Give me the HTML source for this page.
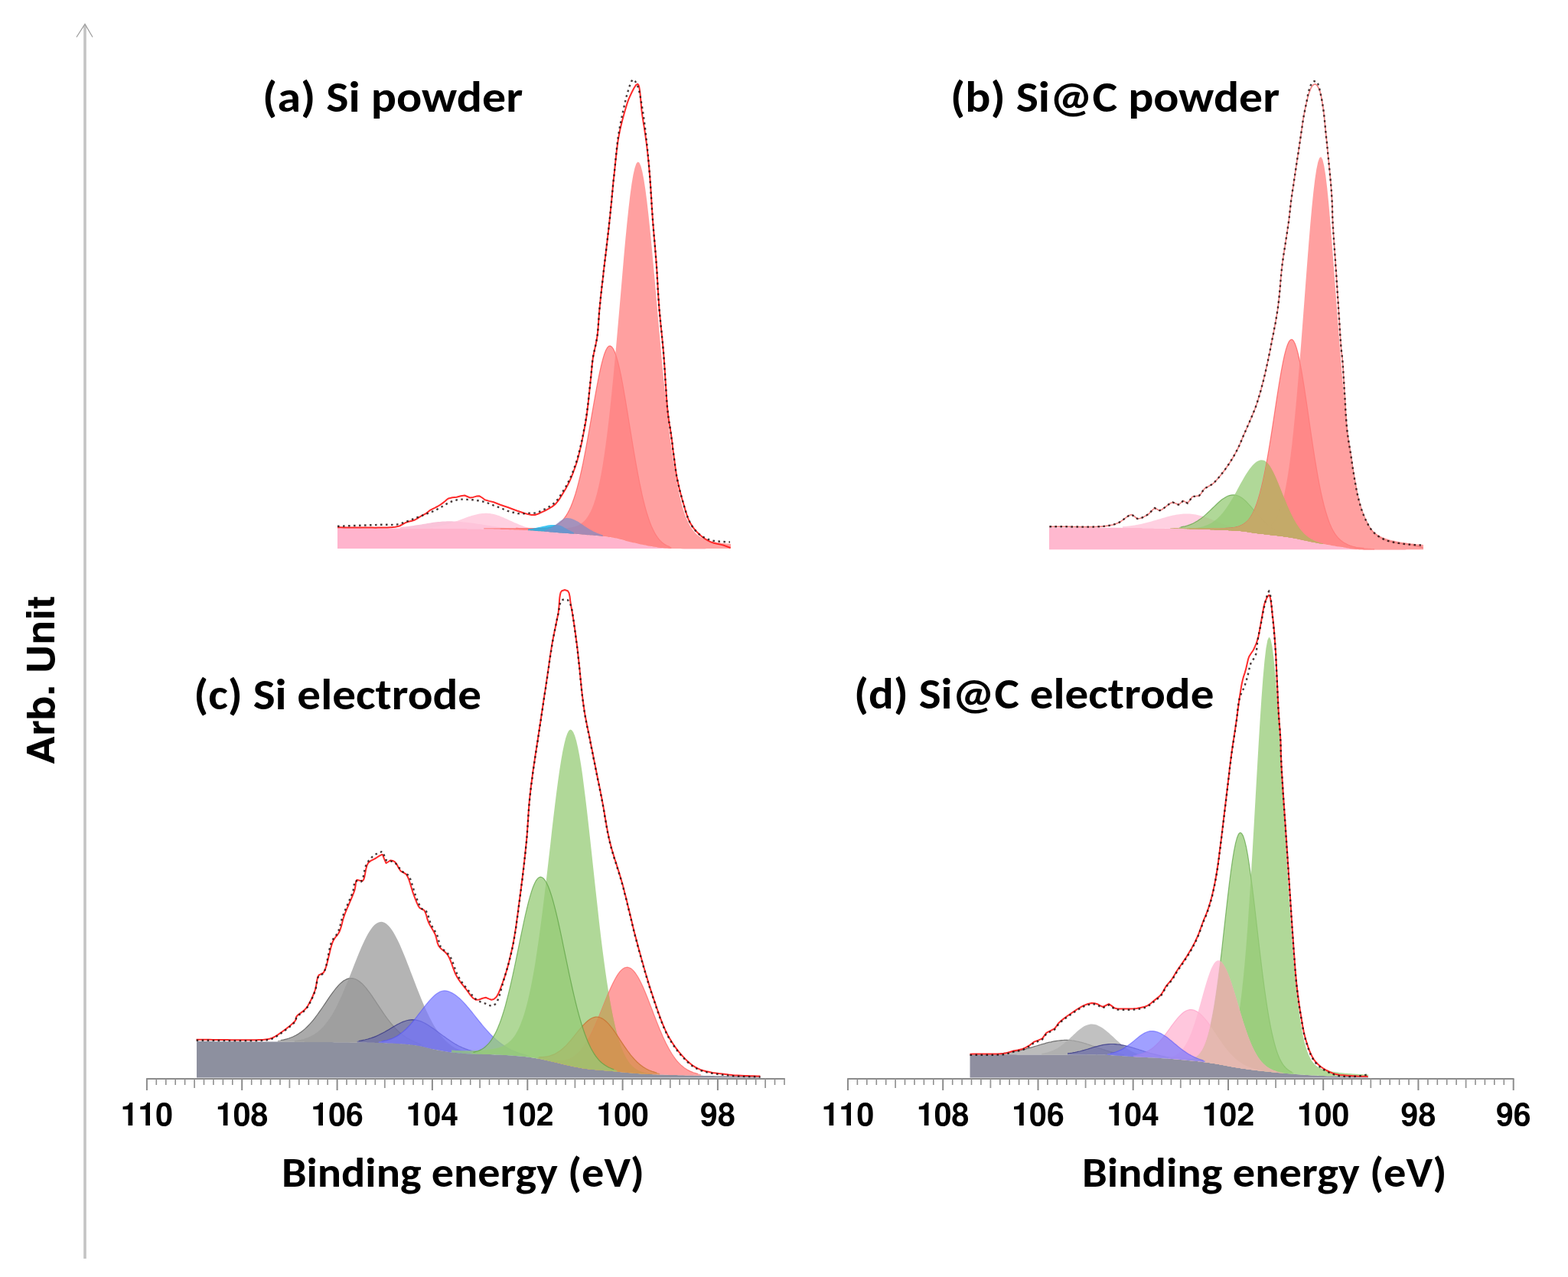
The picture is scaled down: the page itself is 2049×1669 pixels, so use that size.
<!DOCTYPE html>
<html><head><meta charset="utf-8"><title>Si 2p XPS</title>
<style>
html,body{margin:0;padding:0;background:#fff;}
svg{display:block;}
.title{font-family:"Carlito","Liberation Sans",sans-serif;font-weight:bold;fill:#000;}
.tick{font-family:"TeX Gyre Heros","Liberation Sans",Arial,sans-serif;font-weight:bold;font-size:41px;fill:#000;}
.ylab{font-family:"TeX Gyre Heros","Liberation Sans",Arial,sans-serif;font-weight:bold;font-size:50px;fill:#000;}
</style></head><body>
<svg width="2049" height="1669" viewBox="0 0 2049 1669">
<rect width="100%" height="100%" fill="#fff"/>
<path d="M441,717 L441,690 L444,690 L447,690 L450,690 L453,690.1 L456,690.1 L459,690.1 L462,690.1 L465,690.1 L468,690.1 L471,690.1 L474,690.2 L477,690.2 L480,690.2 L483,690.2 L486,690.2 L489,690.2 L492,690.3 L495,690.3 L498,690.3 L501,690.3 L504,690.3 L507,690.3 L510,690.4 L513,690.4 L516,690.4 L519,690.4 L522,690.4 L525,690.4 L528,690.4 L531,690.5 L534,690.5 L537,690.5 L540,690.5 L543,690.5 L546,690.5 L549,690.6 L552,690.6 L555,690.6 L558,690.6 L561,690.6 L564,690.6 L567,690.7 L570,690.7 L573,690.7 L576,690.7 L579,690.8 L582,690.8 L585,690.8 L588,690.9 L591,690.9 L594,690.9 L597,691 L600,691 L603,691 L606,691.1 L609,691.1 L612,691.2 L615,691.2 L618,691.2 L621,691.3 L624,691.3 L627,691.3 L630,691.4 L633,691.4 L636,691.5 L639,691.5 L642,691.6 L645,691.6 L648,691.7 L651,691.8 L654,691.8 L657,691.9 L660,692 L663,692.1 L666,692.2 L669,692.3 L672,692.4 L675,692.5 L678,692.6 L681,692.7 L684,692.9 L687,693 L690,693.2 L693,693.4 L696,693.6 L699,693.8 L702,694 L705,694.2 L708,694.5 L711,694.7 L714,694.9 L717,695.2 L720,695.4 L723,695.7 L726,695.9 L729,696.2 L732,696.4 L735,696.6 L738,696.9 L741,697.1 L744,697.3 L747,697.5 L750,697.7 L753,697.9 L756,698.2 L759,698.4 L762,698.7 L765,698.9 L768,699.2 L771,699.4 L774,699.7 L777,699.9 L780,700.2 L783,700.4 L786,700.7 L789,701 L792,701.4 L795,701.8 L798,702.2 L801,702.7 L804,703.2 L807,703.9 L810,704.6 L813,705.4 L816,706.2 L819,707 L822,707.8 L825,708.6 L828,709.3 L831,710 L834,710.6 L837,711.3 L840,711.9 L843,712.5 L846,713.1 L849,713.7 L852,714.2 L855,714.7 L858,715.2 L861,715.6 L864,716 L867,716.3 L870,716.5 L873,716.7 L876,716.9 L879,717 L882,717 L885,717.1 L888,717.1 L891,717.1 L894,717.2 L897,717.2 L900,717.2 L903,717.2 L906,717.2 L909,717.2 L912,717.2 L915,717.2 L918,717.2 L921,717.2 L924,717.1 L927,717.1 L930,717.1 L933,717.1 L936,717.1 L939,717 L942,717 L945,717 L948,717 L951,717 L954,717 L955,717 L955,717Z" fill="#ffb4cd"/>
<path d="M522.7,688.9 L524.7,688.8 L526.7,688.6 L528.7,688.4 L530.7,688.2 L532.6,687.9 L534.6,687.7 L536.6,687.4 L538.6,687.2 L540.6,686.9 L542.6,686.6 L544.6,686.3 L546.6,686 L548.6,685.7 L550.6,685.4 L552.6,685 L554.6,684.7 L556.6,684.4 L558.5,684.1 L560.5,683.7 L562.5,683.4 L564.5,683.1 L566.5,682.8 L568.5,682.6 L570.5,682.3 L572.5,682.1 L574.5,681.9 L576.5,681.7 L578.5,681.6 L580.5,681.5 L582.4,681.4 L584.4,681.3 L586.4,681.3 L588.4,681.3 L590.4,681.3 L592.4,681.4 L594.4,681.5 L596.4,681.6 L598.4,681.7 L600.4,681.8 L602.4,682 L604.4,682.2 L606.4,682.4 L608.3,682.6 L610.3,682.8 L612.3,683 L614.3,683.3 L616.3,683.6 L618.3,683.8 L620.3,684.1 L622.3,684.4 L624.3,684.7 L626.3,685 L628.3,685.3 L630.3,685.6 L632.3,685.9 L634.2,686.2 L636.2,686.5 L638.2,686.8 L640.2,687.1 L642.2,687.4 L644.2,687.7 L646.2,687.9 L648.2,688.2 L650.2,688.5 L652.2,688.8 L654.2,689 L656.2,689.3 L658.2,689.5 L660.1,689.7 L662.1,690 L664.1,690.2 L666.1,690.4 L668.1,690.6 L668.1,692.2 L666.1,692.2 L664.1,692.1 L662.1,692.1 L660.1,692 L658.2,692 L656.2,691.9 L654.2,691.9 L652.2,691.8 L650.2,691.8 L648.2,691.7 L646.2,691.7 L644.2,691.6 L642.2,691.6 L640.2,691.6 L638.2,691.5 L636.2,691.5 L634.2,691.5 L632.3,691.4 L630.3,691.4 L628.3,691.4 L626.3,691.3 L624.3,691.3 L622.3,691.3 L620.3,691.3 L618.3,691.2 L616.3,691.2 L614.3,691.2 L612.3,691.2 L610.3,691.1 L608.3,691.1 L606.4,691.1 L604.4,691.1 L602.4,691 L600.4,691 L598.4,691 L596.4,691 L594.4,690.9 L592.4,690.9 L590.4,690.9 L588.4,690.9 L586.4,690.8 L584.4,690.8 L582.4,690.8 L580.5,690.8 L578.5,690.8 L576.5,690.7 L574.5,690.7 L572.5,690.7 L570.5,690.7 L568.5,690.7 L566.5,690.7 L564.5,690.7 L562.5,690.6 L560.5,690.6 L558.5,690.6 L556.6,690.6 L554.6,690.6 L552.6,690.6 L550.6,690.6 L548.6,690.6 L546.6,690.5 L544.6,690.5 L542.6,690.5 L540.6,690.5 L538.6,690.5 L536.6,690.5 L534.6,690.5 L532.6,690.5 L530.7,690.5 L528.7,690.5 L526.7,690.4 L524.7,690.4 L522.7,690.4Z" fill="#f27aaa" fill-opacity="0.45"/>
<path d="M562.5,689.1 L564.5,688.9 L566.5,688.6 L568.5,688.4 L570.5,688.1 L572.5,687.7 L574.5,687.4 L576.5,687 L578.5,686.5 L580.5,686.1 L582.4,685.6 L584.4,685 L586.4,684.5 L588.4,683.9 L590.4,683.3 L592.4,682.6 L594.4,681.9 L596.4,681.2 L598.4,680.5 L600.4,679.8 L602.4,679 L604.4,678.3 L606.4,677.5 L608.3,676.8 L610.3,676.1 L612.3,675.3 L614.3,674.7 L616.3,674 L618.3,673.4 L620.3,672.9 L622.3,672.4 L624.3,671.9 L626.3,671.6 L628.3,671.3 L630.3,671 L632.3,670.9 L634.2,670.8 L636.2,670.8 L638.2,670.9 L640.2,671.1 L642.2,671.4 L644.2,671.8 L646.2,672.2 L648.2,672.8 L650.2,673.4 L652.2,674.1 L654.2,674.9 L656.2,675.7 L658.2,676.5 L660.1,677.4 L662.1,678.3 L664.1,679.3 L666.1,680.2 L668.1,681.1 L670.1,682 L672.1,682.9 L674.1,683.8 L676.1,684.6 L678.1,685.5 L680.1,686.2 L682.1,687 L684.1,687.7 L686,688.4 L688,689 L690,689.6 L692,690.2 L694,690.7 L696,691.2 L698,691.7 L700,692.1 L702,692.5 L702,694 L700,693.9 L698,693.7 L696,693.6 L694,693.5 L692,693.3 L690,693.2 L688,693.1 L686,693 L684.1,692.9 L682.1,692.8 L680.1,692.7 L678.1,692.6 L676.1,692.5 L674.1,692.5 L672.1,692.4 L670.1,692.3 L668.1,692.2 L666.1,692.2 L664.1,692.1 L662.1,692.1 L660.1,692 L658.2,692 L656.2,691.9 L654.2,691.9 L652.2,691.8 L650.2,691.8 L648.2,691.7 L646.2,691.7 L644.2,691.6 L642.2,691.6 L640.2,691.6 L638.2,691.5 L636.2,691.5 L634.2,691.5 L632.3,691.4 L630.3,691.4 L628.3,691.4 L626.3,691.3 L624.3,691.3 L622.3,691.3 L620.3,691.3 L618.3,691.2 L616.3,691.2 L614.3,691.2 L612.3,691.2 L610.3,691.1 L608.3,691.1 L606.4,691.1 L604.4,691.1 L602.4,691 L600.4,691 L598.4,691 L596.4,691 L594.4,690.9 L592.4,690.9 L590.4,690.9 L588.4,690.9 L586.4,690.8 L584.4,690.8 L582.4,690.8 L580.5,690.8 L578.5,690.8 L576.5,690.7 L574.5,690.7 L572.5,690.7 L570.5,690.7 L568.5,690.7 L566.5,690.7 L564.5,690.7 L562.5,690.6Z" fill="#ffc4da" fill-opacity="0.8"/>
<path d="M654.2,690.3 L656.2,690.3 L658.2,690.3 L660.1,690.3 L662.1,690.4 L664.1,690.4 L666.1,690.4 L668.1,690.4 L670.1,690.4 L672.1,690.4 L674.1,690.4 L676.1,690.4 L678.1,690.5 L680.1,690.5 L682.1,690.5 L684.1,690.5 L686,690.5 L688,690.5 L690,690.6 L692,690.6 L694,690.6 L696,690.6 L698,690.6 L700,690.6 L702,690.6 L704,690.6 L706,690.5 L708,690.4 L710,690.3 L711.9,690.1 L713.9,689.9 L715.9,689.7 L717.9,689.3 L719.9,688.9 L721.9,688.3 L723.9,687.6 L725.9,686.8 L727.9,685.8 L729.9,684.5 L731.9,683 L733.9,681.3 L735.9,679.2 L737.8,676.7 L739.8,673.8 L741.8,670.5 L743.8,666.7 L745.8,662.4 L747.8,657.5 L749.8,652 L751.8,645.9 L753.8,639.1 L755.8,631.7 L757.8,623.7 L759.8,615 L761.8,605.7 L763.7,595.8 L765.7,585.4 L767.7,574.5 L769.7,563.3 L771.7,551.9 L773.7,540.3 L775.7,528.8 L777.7,517.5 L779.7,506.5 L781.7,496 L783.7,486.3 L785.7,477.4 L787.7,469.6 L789.6,463.1 L791.6,458 L793.6,454.3 L795.6,452.4 L797.6,452.1 L799.6,453.4 L801.6,456.2 L803.6,460.6 L805.6,466.4 L807.6,473.5 L809.6,481.8 L811.6,491.2 L813.6,501.5 L815.5,512.6 L817.5,524.2 L819.5,536.2 L821.5,548.5 L823.5,560.9 L825.5,573.2 L827.5,585.3 L829.5,597 L831.5,608.4 L833.5,619.2 L835.5,629.5 L837.5,639.1 L839.4,648.1 L841.4,656.4 L843.4,664.1 L845.4,671 L847.4,677.3 L849.4,682.9 L851.4,687.9 L853.4,692.3 L855.4,696.2 L857.4,699.6 L859.4,702.5 L861.4,705.1 L863.4,707.2 L865.3,709.1 L867.3,710.6 L869.3,711.9 L871.3,713 L873.3,713.8 L875.3,714.5 L877.3,715.1 L877.3,716.9 L875.3,716.9 L873.3,716.8 L871.3,716.6 L869.3,716.5 L867.3,716.3 L865.3,716.1 L863.4,715.9 L861.4,715.7 L859.4,715.4 L857.4,715.1 L855.4,714.8 L853.4,714.5 L851.4,714.1 L849.4,713.8 L847.4,713.4 L845.4,713 L843.4,712.6 L841.4,712.2 L839.4,711.8 L837.5,711.4 L835.5,710.9 L833.5,710.5 L831.5,710.1 L829.5,709.6 L827.5,709.2 L825.5,708.7 L823.5,708.2 L821.5,707.7 L819.5,707.2 L817.5,706.7 L815.5,706.1 L813.6,705.6 L811.6,705 L809.6,704.5 L807.6,704 L805.6,703.6 L803.6,703.2 L801.6,702.8 L799.6,702.4 L797.6,702.1 L795.6,701.9 L793.6,701.6 L791.6,701.3 L789.6,701.1 L787.7,700.9 L785.7,700.7 L783.7,700.5 L781.7,700.3 L779.7,700.1 L777.7,700 L775.7,699.8 L773.7,699.6 L771.7,699.5 L769.7,699.3 L767.7,699.2 L765.7,699 L763.7,698.8 L761.8,698.7 L759.8,698.5 L757.8,698.3 L755.8,698.1 L753.8,698 L751.8,697.8 L749.8,697.7 L747.8,697.5 L745.8,697.4 L743.8,697.3 L741.8,697.1 L739.8,697 L737.8,696.8 L735.9,696.7 L733.9,696.5 L731.9,696.4 L729.9,696.2 L727.9,696.1 L725.9,695.9 L723.9,695.7 L721.9,695.6 L719.9,695.4 L717.9,695.3 L715.9,695.1 L713.9,694.9 L711.9,694.8 L710,694.6 L708,694.5 L706,694.3 L704,694.2 L702,694 L700,693.9 L698,693.7 L696,693.6 L694,693.5 L692,693.3 L690,693.2 L688,693.1 L686,693 L684.1,692.9 L682.1,692.8 L680.1,692.7 L678.1,692.6 L676.1,692.5 L674.1,692.5 L672.1,692.4 L670.1,692.3 L668.1,692.2 L666.1,692.2 L664.1,692.1 L662.1,692.1 L660.1,692 L658.2,692 L656.2,691.9 L654.2,691.9Z" fill="#ff8080" fill-opacity="0.75"/>
<path d="M674.1,690.4 L676.1,690.4 L678.1,690.5 L680.1,690.5 L682.1,690.5 L684.1,690.5 L686,690.5 L688,690.5 L690,690.6 L692,690.6 L694,690.6 L696,690.6 L698,690.6 L700,690.6 L702,690.6 L704,690.6 L706,690.5 L708,690.4 L710,690.3 L711.9,690.1 L713.9,689.9 L715.9,689.7 L717.9,689.3 L719.9,688.9 L721.9,688.3 L723.9,687.6 L725.9,686.8 L727.9,685.8 L729.9,684.5 L731.9,683 L733.9,681.3 L735.9,679.2 L737.8,676.7 L739.8,673.8 L741.8,670.5 L743.8,666.7 L745.8,662.4 L747.8,657.5 L749.8,652 L751.8,645.9 L753.8,639.1 L755.8,631.7 L757.8,623.7 L759.8,615 L761.8,605.7 L763.7,595.8 L765.7,585.4 L767.7,574.5 L769.7,563.3 L771.7,551.9 L773.7,540.3 L775.7,528.8 L777.7,517.5 L779.7,506.5 L781.7,496 L783.7,486.3 L785.7,477.4 L787.7,469.6 L789.6,463.1 L791.6,458 L793.6,454.3 L795.6,452.4 L797.6,452.1 L799.6,453.4 L801.6,456.2 L803.6,460.6 L805.6,466.4 L807.6,473.5 L809.6,481.8 L811.6,491.2 L813.6,501.5 L815.5,512.6 L817.5,524.2 L819.5,536.2 L821.5,548.5 L823.5,560.9 L825.5,573.2 L827.5,585.3 L829.5,597 L831.5,608.4 L833.5,619.2 L835.5,629.5 L837.5,639.1 L839.4,648.1 L841.4,656.4 L843.4,664.1 L845.4,671 L847.4,677.3 L849.4,682.9 L851.4,687.9 L853.4,692.3 L855.4,696.2 L857.4,699.6 L859.4,702.5 L861.4,705.1 L863.4,707.2 L865.3,709.1 L867.3,710.6 L869.3,711.9 L871.3,713 L873.3,713.8 L875.3,714.5" fill="none" stroke="#ff5050" stroke-width="1.2" stroke-opacity="0.7"/>
<path d="M632.3,689.9 L634.2,689.9 L636.2,689.9 L638.2,689.9 L640.2,689.9 L642.2,689.9 L644.2,689.9 L646.2,689.9 L648.2,689.9 L650.2,689.9 L652.2,689.9 L654.2,690 L656.2,690 L658.2,690 L660.1,690 L662.1,690 L664.1,690 L666.1,690 L668.1,690 L670.1,690 L672.1,690.1 L674.1,690.1 L676.1,690.1 L678.1,690.1 L680.1,690.1 L682.1,690.2 L684.1,690.2 L686,690.2 L688,690.3 L690,690.3 L692,690.3 L694,690.4 L696,690.4 L698,690.5 L700,690.5 L702,690.6 L704,690.6 L706,690.7 L708,690.7 L710,690.7 L711.9,690.8 L713.9,690.8 L715.9,690.8 L717.9,690.9 L719.9,690.9 L721.9,690.9 L723.9,690.9 L725.9,690.9 L727.9,690.8 L729.9,690.8 L731.9,690.7 L733.9,690.6 L735.9,690.5 L737.8,690.4 L739.8,690.2 L741.8,690 L743.8,689.7 L745.8,689.4 L747.8,689 L749.8,688.5 L751.8,687.9 L753.8,687.2 L755.8,686.4 L757.8,685.3 L759.8,684.1 L761.8,682.5 L763.7,680.7 L765.7,678.4 L767.7,675.8 L769.7,672.6 L771.7,668.8 L773.7,664.4 L775.7,659.2 L777.7,653.2 L779.7,646.3 L781.7,638.3 L783.7,629.3 L785.7,619.1 L787.7,607.6 L789.6,594.9 L791.6,580.8 L793.6,565.4 L795.6,548.7 L797.6,530.6 L799.6,511.4 L801.6,491 L803.6,469.6 L805.6,447.4 L807.6,424.6 L809.6,401.4 L811.6,378.2 L813.6,355.1 L815.5,332.5 L817.5,310.8 L819.5,290.4 L821.5,271.5 L823.5,254.6 L825.5,240.1 L827.5,228.3 L829.5,219.4 L831.5,213.8 L833.5,211.6 L835.5,212.8 L837.5,217.2 L839.4,224.6 L841.4,234.9 L843.4,247.9 L845.4,263.3 L847.4,280.7 L849.4,299.8 L851.4,320.3 L853.4,341.8 L855.4,364 L857.4,386.6 L859.4,409.3 L861.4,431.9 L863.4,454 L865.3,475.6 L867.3,496.5 L869.3,516.4 L871.3,535.3 L873.3,553.1 L875.3,569.7 L877.3,585.1 L879.3,599.3 L881.3,612.3 L883.3,624 L885.3,634.7 L887.3,644.3 L889.3,652.8 L891.2,660.4 L893.2,667 L895.2,672.9 L897.2,678 L899.2,682.5 L901.2,686.4 L903.2,689.7 L905.2,692.6 L907.2,695.1 L909.2,697.2 L911.2,699 L913.2,700.5 L915.2,701.9 L917.1,703 L919.1,704 L921.1,704.9 L923.1,705.6 L925.1,706.3 L927.1,706.8 L929.1,707.3 L931.1,707.8 L933.1,708.2 L935.1,708.5 L937.1,708.9 L939.1,709.2 L941.1,709.5 L943,709.7 L945,710 L947,710.2 L949,710.4 L951,710.6 L953,710.8 L955,711 L955,717 L953,717 L951,717 L949,717 L947,717 L945,717 L943,717 L941.1,717 L939.1,717 L937.1,717.1 L935.1,717.1 L933.1,717.1 L931.1,717.1 L929.1,717.1 L927.1,717.1 L925.1,717.1 L923.1,717.1 L921.1,717.2 L919.1,717.2 L917.1,717.2 L915.2,717.2 L913.2,717.2 L911.2,717.2 L909.2,717.2 L907.2,717.2 L905.2,717.2 L903.2,717.2 L901.2,717.2 L899.2,717.2 L897.2,717.2 L895.2,717.2 L893.2,717.2 L891.2,717.2 L889.3,717.1 L887.3,717.1 L885.3,717.1 L883.3,717.1 L881.3,717 L879.3,717 L877.3,716.9 L875.3,716.9 L873.3,716.8 L871.3,716.6 L869.3,716.5 L867.3,716.3 L865.3,716.1 L863.4,715.9 L861.4,715.7 L859.4,715.4 L857.4,715.1 L855.4,714.8 L853.4,714.5 L851.4,714.1 L849.4,713.8 L847.4,713.4 L845.4,713 L843.4,712.6 L841.4,712.2 L839.4,711.8 L837.5,711.4 L835.5,710.9 L833.5,710.5 L831.5,710.1 L829.5,709.6 L827.5,709.2 L825.5,708.7 L823.5,708.2 L821.5,707.7 L819.5,707.2 L817.5,706.7 L815.5,706.1 L813.6,705.6 L811.6,705 L809.6,704.5 L807.6,704 L805.6,703.6 L803.6,703.2 L801.6,702.8 L799.6,702.4 L797.6,702.1 L795.6,701.9 L793.6,701.6 L791.6,701.3 L789.6,701.1 L787.7,700.9 L785.7,700.7 L783.7,700.5 L781.7,700.3 L779.7,700.1 L777.7,700 L775.7,699.8 L773.7,699.6 L771.7,699.5 L769.7,699.3 L767.7,699.2 L765.7,699 L763.7,698.8 L761.8,698.7 L759.8,698.5 L757.8,698.3 L755.8,698.1 L753.8,698 L751.8,697.8 L749.8,697.7 L747.8,697.5 L745.8,697.4 L743.8,697.3 L741.8,697.1 L739.8,697 L737.8,696.8 L735.9,696.7 L733.9,696.5 L731.9,696.4 L729.9,696.2 L727.9,696.1 L725.9,695.9 L723.9,695.7 L721.9,695.6 L719.9,695.4 L717.9,695.3 L715.9,695.1 L713.9,694.9 L711.9,694.8 L710,694.6 L708,694.5 L706,694.3 L704,694.2 L702,694 L700,693.9 L698,693.7 L696,693.6 L694,693.5 L692,693.3 L690,693.2 L688,693.1 L686,693 L684.1,692.9 L682.1,692.8 L680.1,692.7 L678.1,692.6 L676.1,692.5 L674.1,692.5 L672.1,692.4 L670.1,692.3 L668.1,692.2 L666.1,692.2 L664.1,692.1 L662.1,692.1 L660.1,692 L658.2,692 L656.2,691.9 L654.2,691.9 L652.2,691.8 L650.2,691.8 L648.2,691.7 L646.2,691.7 L644.2,691.6 L642.2,691.6 L640.2,691.6 L638.2,691.5 L636.2,691.5 L634.2,691.5 L632.3,691.4Z" fill="#ff8080" fill-opacity="0.75"/>
<path d="M690,691.4 L692,691.2 L694,691 L696,690.7 L698,690.3 L700,690 L702,689.6 L704,689.1 L706,688.7 L708,688.3 L710,687.8 L711.9,687.4 L713.9,687 L715.9,686.6 L717.9,686.3 L719.9,686.1 L721.9,685.9 L723.9,685.9 L725.9,685.9 L727.9,686 L729.9,686.3 L731.9,686.8 L733.9,687.6 L735.9,688.6 L737.8,689.7 L739.8,690.8 L741.8,692 L743.8,693.1 L745.8,694.1 L747.8,695 L749.8,695.8 L749.8,697.7 L747.8,697.5 L745.8,697.4 L743.8,697.3 L741.8,697.1 L739.8,697 L737.8,696.8 L735.9,696.7 L733.9,696.5 L731.9,696.4 L729.9,696.2 L727.9,696.1 L725.9,695.9 L723.9,695.7 L721.9,695.6 L719.9,695.4 L717.9,695.3 L715.9,695.1 L713.9,694.9 L711.9,694.8 L710,694.6 L708,694.5 L706,694.3 L704,694.2 L702,694 L700,693.9 L698,693.7 L696,693.6 L694,693.5 L692,693.3 L690,693.2Z" fill="#00b4f0" fill-opacity="0.75"/>
<path d="M711.9,693 L713.9,692.6 L715.9,691.9 L717.9,691.1 L719.9,690 L721.9,688.8 L723.9,687.5 L725.9,685.9 L727.9,684.3 L729.9,682.7 L731.9,681.1 L733.9,679.7 L735.9,678.5 L737.8,677.6 L739.8,677.1 L741.8,677 L743.8,677.2 L745.8,677.6 L747.8,678.2 L749.8,679 L751.8,679.9 L753.8,680.9 L755.8,682.1 L757.8,683.4 L759.8,684.7 L761.8,686.1 L763.7,687.4 L765.7,688.8 L767.7,690.1 L769.7,691.3 L771.7,692.5 L773.7,693.6 L775.7,694.7 L777.7,695.6 L779.7,696.5 L781.7,697.3 L783.7,698 L785.7,698.7 L787.7,699.3 L787.7,700.9 L785.7,700.7 L783.7,700.5 L781.7,700.3 L779.7,700.1 L777.7,700 L775.7,699.8 L773.7,699.6 L771.7,699.5 L769.7,699.3 L767.7,699.2 L765.7,699 L763.7,698.8 L761.8,698.7 L759.8,698.5 L757.8,698.3 L755.8,698.1 L753.8,698 L751.8,697.8 L749.8,697.7 L747.8,697.5 L745.8,697.4 L743.8,697.3 L741.8,697.1 L739.8,697 L737.8,696.8 L735.9,696.7 L733.9,696.5 L731.9,696.4 L729.9,696.2 L727.9,696.1 L725.9,695.9 L723.9,695.7 L721.9,695.6 L719.9,695.4 L717.9,695.3 L715.9,695.1 L713.9,694.9 L711.9,694.8Z" fill="#7f8cc8" fill-opacity="0.7"/>
<path d="M441,689.3 L445.3,689.3 L449.8,689.4 L454.5,689.4 L459.3,689.4 L464,689.5 L468.8,689.5 L473.5,689.6 L478.1,689.6 L482.5,689.6 L486.6,689.6 L490.5,689.7 L494.1,689.6 L497.3,689.6 L500,689.6 L505.8,689.5 L510.5,689.2 L516.4,688.7 L522,687.5 L525.9,685.4 L529.9,683.1 L533.9,681.8 L538.3,680.8 L542.2,679.5 L545.8,677.4 L549.2,675.1 L553.3,672.9 L557.1,670.8 L559.3,669 L561.5,667.2 L564.9,665.4 L568.5,663.7 L571.6,662 L574.7,660.2 L578.3,657.6 L581.7,655 L583.8,653 L586.1,651.4 L591.1,650.3 L596.7,649.7 L602.1,648.2 L607.2,647.5 L610.7,649 L614.2,650.5 L618.2,649.9 L622.6,648.6 L626.5,648.3 L630.1,650.5 L633.6,653.2 L639.2,654.9 L645,656.3 L649.4,658 L653.8,659.8 L658.9,661.5 L664.3,663.3 L668.1,664.7 L672.2,666.2 L676.2,667.7 L680,669 L685.2,670.8 L690,672.1 L694.5,672.9 L699,673 L703.5,671.5 L708,669.4 L712.5,667.3 L717,664.9 L721.6,662.1 L726,658.6 L729.1,654.9 L732.1,650.6 L734.9,646 L737.3,642.1 L739.7,637.9 L741.9,633.7 L743.9,629.8 L746.3,624.4 L748.4,619.1 L749.9,615 L751.4,610.9 L752.9,606.5 L754.1,602.7 L755.2,598.7 L756.3,594.5 L757.4,590.3 L758.3,586.4 L759.3,582.3 L760.2,578.2 L761,573.9 L761.9,569.6 L762.7,565.5 L763.5,561.3 L764.3,557 L765.1,552.7 L765.8,548.5 L766.4,544.5 L767.1,539.4 L767.7,534.5 L768.3,529.7 L768.8,525 L769.3,520.7 L769.7,516.4 L770.2,512.2 L770.6,508 L771.1,503.7 L771.5,499.3 L772,494.9 L772.5,490.4 L772.9,486.1 L773.3,481.7 L773.7,477.2 L774.2,472.9 L774.7,468.8 L775.6,463.8 L776.6,459.1 L777.6,454.4 L778.6,449.9 L779.5,445.3 L780.4,440 L780.8,436.8 L781.2,433.4 L781.5,429.7 L781.8,425.7 L782.1,421.6 L782.4,417.4 L782.7,413 L783,408.7 L783.4,404.3 L783.8,400 L784.2,396.2 L784.6,392.3 L785,388.3 L785.4,384.3 L785.9,380.3 L786.3,376.2 L786.8,372.1 L787.3,367.9 L787.8,363.8 L788.3,359.6 L788.7,355.4 L789.2,351.2 L789.7,347 L790.2,342.9 L790.7,338.7 L791.2,334.5 L791.7,330.3 L792.2,326.1 L792.7,321.8 L793.2,317.6 L793.7,313.3 L794.2,309 L794.7,304.7 L795.2,300.5 L795.7,296.2 L796.1,291.9 L796.6,287.7 L797.1,283.5 L797.5,279.2 L797.9,274.9 L798.3,270.6 L798.8,266.3 L799.2,262 L799.6,257.7 L800,253.4 L800.4,249.2 L800.8,244.9 L801.2,240.7 L801.6,236.6 L802.1,232.5 L802.5,228.4 L803,224.1 L803.4,219.8 L803.9,215.4 L804.3,211.1 L804.8,206.8 L805.2,202.6 L805.7,198.4 L806.2,194.3 L806.7,190.3 L807.2,186.4 L807.8,182.7 L808.4,179 L809.3,174.3 L810.2,169.8 L811.2,165.5 L812.2,161.4 L813.2,157.3 L814.3,153.3 L815.4,149.3 L816.6,145.1 L817.8,141 L819,136.9 L820.3,133 L821.7,129.2 L823.3,125.6 L825.7,120.5 L828.4,115.3 L831,111.2 L833.2,109.8 L834.3,110.9 L835.2,113.6 L835.9,117.5 L836.5,122.2 L837,127.7 L837.5,133.4 L838,139.1 L838.5,144.5 L839.1,149.3 L839.7,153.3 L840.3,157.2 L840.9,161.2 L841.6,165.1 L842.2,169.1 L842.8,173.1 L843.4,177 L843.9,181 L844.5,184.9 L845,188.9 L845.5,193.2 L846,197.5 L846.5,201.8 L846.9,206 L847.4,210.3 L847.8,214.6 L848.2,219.1 L848.6,223.7 L849,228.4 L849.3,232.3 L849.6,236.2 L849.9,240.3 L850.2,244.5 L850.5,248.7 L850.7,253 L851,257.3 L851.3,261.7 L851.5,266 L851.8,270.4 L852.1,274.8 L852.4,279.1 L852.7,283.4 L853,287.7 L853.3,291.9 L853.7,296.2 L854,300.5 L854.4,304.7 L854.7,309 L855.1,313.3 L855.5,317.6 L855.9,321.8 L856.2,326.1 L856.6,330.3 L856.9,334.5 L857.3,338.7 L857.6,342.9 L857.9,347 L858.2,351.2 L858.5,355.3 L858.7,359.4 L858.9,363.4 L859.2,367.5 L859.4,371.5 L859.6,375.5 L859.8,379.5 L860.1,383.6 L860.3,387.6 L860.6,391.7 L860.9,395.8 L861.2,400 L861.5,404.1 L861.9,408.2 L862.3,412.3 L862.7,416.4 L863.1,420.6 L863.5,424.7 L863.9,428.9 L864.4,433.1 L864.8,437.3 L865.2,441.6 L865.7,445.9 L866.1,450.3 L866.5,454.8 L866.9,459.3 L867.2,463.1 L867.5,467 L867.8,471.1 L868.1,475.3 L868.4,479.6 L868.7,483.9 L869,488.2 L869.2,492.6 L869.5,497 L869.8,501.4 L870.1,505.8 L870.4,510.1 L870.6,514.3 L870.9,518.4 L871.2,522.4 L871.5,526.3 L871.8,530 L872.1,533.5 L872.5,536.9 L872.8,540 L873.4,544.9 L874,549.3 L874.6,553.4 L875.3,557.2 L875.9,561 L876.5,564.8 L877.1,568.8 L877.6,572.9 L878.2,577 L878.7,581.1 L879.1,585.3 L879.6,589.4 L880.2,593.5 L880.7,597.6 L881.3,601.7 L881.8,605.8 L882.3,609.9 L882.9,614 L883.5,618.1 L884.2,622.2 L885,626.3 L885.9,630.4 L886.8,634.6 L887.8,638.7 L888.8,642.8 L889.9,646.9 L891,651 L892.2,655.1 L893.4,659.3 L894.6,663.6 L895.9,667.9 L897.3,672.2 L898.7,676.3 L900.3,680.1 L902,683.6 L904.7,687.9 L907.6,691.8 L910.7,695.3 L914,698.5 L917.4,701.4 L921.1,704.1 L924.9,706.4 L928.8,708.4 L932.8,709.8 L937.1,710.8 L941.2,711.6 L945,712.5 L949.9,714.2 L954.5,716" fill="none" stroke="#ff2a2a" stroke-width="2" stroke-linejoin="round"/>
<path d="M441,687.8 L445.3,687.7 L449.7,687.5 L454.2,687.3 L458.8,687.2 L463.5,687 L468.1,686.8 L472.8,686.7 L477.3,686.5 L481.7,686.3 L486,686.2 L490,686.1 L493.8,685.9 L497.4,685.8 L500.6,685.8 L503.5,685.7 L509.1,685.8 L513.6,685.9 L517.6,685.7 L520.9,685.1 L524.6,684 L527.6,683 L531.4,681.6 L535.8,679.9 L540.6,678.1 L545.5,676.2 L550.3,674.3 L554.7,672.6 L558.5,671.1 L561.5,669.9 L565.4,668.5 L568.5,667.2 L571.6,665.5 L574.7,663.7 L577.8,662 L580.8,660.2 L583.9,658.4 L587,656.7 L590,655.5 L593.1,654.5 L597,653.4 L601,652.7 L604.1,652.6 L607.2,652.7 L610.7,652.9 L614.2,653.2 L617.8,653.3 L621.3,653.6 L624.4,654.2 L627.4,654.9 L630.9,655.5 L634.4,656.3 L637.5,657.5 L640.6,658.9 L644.1,660.2 L647.6,661.5 L650.7,662.6 L653.8,663.7 L656.8,665 L659.9,666.4 L663,667.6 L666.1,668.6 L669.6,669.5 L673.1,670.2 L676.5,671 L680,671.6 L684.9,671.2 L690,670.6 L694.5,670.7 L699,670.5 L703.5,669.2 L708,667.4 L712.5,665.1 L717,662.5 L721.6,659.6 L726,656 L729.1,652.3 L732,648 L734.9,643.5 L737.3,639.6 L739.7,635.5 L741.9,631.3 L743.9,627.5 L746.3,622.2 L748.4,617 L749.9,613 L751.4,608.8 L752.9,604.5 L754.1,600.7 L755.2,596.8 L756.3,592.7 L757.4,588.5 L758.3,584.6 L759.3,580.6 L760.2,576.5 L761,572.3 L761.9,568 L762.7,563.9 L763.5,559.7 L764.3,555.5 L765.1,551.2 L765.8,547 L766.4,543 L767.1,538 L767.7,533.3 L768.3,528.6 L768.8,524 L769.3,519.7 L769.7,515.5 L770.2,511.2 L770.6,507 L771.1,502.7 L771.5,498.3 L772,493.9 L772.5,489.4 L772.9,485.1 L773.3,480.7 L773.7,476.2 L774.2,471.8 L774.7,467.8 L775.6,463.1 L776.6,458.8 L777.6,454.4 L778.6,449.9 L779.5,445.4 L780.4,440 L780.8,436.8 L781.2,433.4 L781.5,429.7 L781.8,425.7 L782.1,421.6 L782.4,417.4 L782.7,413 L783,408.7 L783.4,404.3 L783.8,400 L784.2,396.2 L784.6,392.3 L785,388.3 L785.4,384.3 L785.9,380.3 L786.3,376.2 L786.8,372.1 L787.3,367.9 L787.8,363.8 L788.3,359.6 L788.7,355.4 L789.2,351.2 L789.7,347 L790.2,342.9 L790.7,338.7 L791.2,334.5 L791.7,330.3 L792.2,326.1 L792.7,321.8 L793.2,317.6 L793.7,313.3 L794.2,309 L794.7,304.7 L795.2,300.5 L795.7,296.2 L796.1,291.9 L796.6,287.7 L797.1,283.5 L797.5,279.2 L797.9,274.9 L798.3,270.7 L798.8,266.4 L799.2,262.1 L799.6,257.9 L800,253.6 L800.4,249.3 L800.8,245.1 L801.2,240.9 L801.6,236.7 L802.1,232.5 L802.5,228.4 L802.9,224.2 L803.4,219.9 L803.8,215.6 L804.2,211.4 L804.6,207.1 L805,202.9 L805.5,198.7 L805.9,194.6 L806.4,190.5 L806.8,186.5 L807.3,182.6 L807.8,178.7 L808.4,175 L809.2,170.2 L810,165.5 L810.9,161 L811.8,156.5 L812.7,152.2 L813.6,148 L814.5,143.9 L815.4,140 L816.5,135.2 L817.5,130.6 L818.6,126.2 L819.7,122 L821,118 L822.9,112 L825,106.4 L827.2,103.8 L830.2,106.4 L833,112 L834.1,115 L835.1,118.5 L836,122.4 L836.8,126.6 L837.6,131 L838.3,135.5 L839.1,140 L839.7,143.7 L840.3,147.5 L840.9,151.5 L841.5,155.6 L842,159.8 L842.6,164 L843.1,168.2 L843.6,172.5 L844.1,176.7 L844.5,180.9 L845,185 L845.5,189.3 L845.9,193.6 L846.3,197.9 L846.8,202.1 L847.1,206.3 L847.5,210.6 L847.9,214.9 L848.3,219.3 L848.6,223.8 L849,228.4 L849.3,232.3 L849.6,236.4 L849.9,240.5 L850.2,244.7 L850.4,248.9 L850.7,253.2 L851,257.5 L851.3,261.8 L851.5,266.1 L851.8,270.5 L852.1,274.8 L852.4,279.1 L852.7,283.4 L853,287.7 L853.3,291.9 L853.7,296.2 L854,300.5 L854.4,304.7 L854.7,309 L855.1,313.3 L855.5,317.6 L855.9,321.8 L856.2,326.1 L856.6,330.3 L856.9,334.5 L857.3,338.7 L857.6,342.9 L857.9,347 L858.2,351.2 L858.5,355.3 L858.7,359.4 L858.9,363.4 L859.2,367.5 L859.4,371.5 L859.6,375.5 L859.8,379.5 L860.1,383.6 L860.3,387.6 L860.6,391.7 L860.9,395.8 L861.2,400 L861.5,404.1 L861.9,408.2 L862.3,412.3 L862.7,416.4 L863.1,420.6 L863.5,424.7 L863.9,428.9 L864.4,433.1 L864.8,437.3 L865.2,441.6 L865.7,445.9 L866.1,450.3 L866.5,454.8 L866.9,459.3 L867.2,463.1 L867.5,467 L867.8,471.1 L868.1,475.3 L868.4,479.6 L868.7,483.9 L869,488.2 L869.2,492.6 L869.5,497 L869.8,501.4 L870.1,505.8 L870.4,510.1 L870.6,514.3 L870.9,518.4 L871.2,522.4 L871.5,526.3 L871.8,530 L872.1,533.5 L872.5,536.9 L872.8,540 L873.4,544.9 L874,549.3 L874.6,553.4 L875.3,557.2 L875.9,561 L876.5,564.8 L877.1,568.8 L877.6,572.9 L878.2,577 L878.7,581.1 L879.1,585.3 L879.6,589.4 L880.2,593.5 L880.7,597.6 L881.3,601.7 L881.8,605.8 L882.3,609.9 L882.9,614 L883.5,618.1 L884.2,622.2 L885,626.3 L885.9,630.4 L886.8,634.6 L887.8,638.7 L888.8,642.8 L889.9,646.9 L891,651 L892.2,655.1 L893.4,659.3 L894.6,663.6 L895.9,667.9 L897.3,672.2 L898.7,676.3 L900.3,680.1 L902,683.6 L904.6,688 L907.5,691.9 L910.6,695.4 L914,698.5 L917.4,700.9 L921.1,703 L924.9,704.7 L928.8,706 L932.9,706.9 L937.1,707.4 L941.2,707.7 L945,708 L949.7,708.3 L954,708.5" fill="none" stroke="#1a0a0a" stroke-width="2.4" stroke-dasharray="2.6 4.4" stroke-opacity="0.8"/>
<path d="M1371,718.2 L1371,689.3 L1374,689.3 L1377,689.3 L1380,689.4 L1383,689.4 L1386,689.4 L1389,689.4 L1392,689.4 L1395,689.4 L1398,689.4 L1401,689.5 L1404,689.5 L1407,689.5 L1410,689.5 L1413,689.5 L1416,689.5 L1419,689.5 L1422,689.6 L1425,689.6 L1428,689.6 L1431,689.6 L1434,689.6 L1437,689.6 L1440,689.7 L1443,689.7 L1446,689.7 L1449,689.7 L1452,689.7 L1455,689.8 L1458,689.8 L1461,689.8 L1464,689.8 L1467,689.9 L1470,689.9 L1473,689.9 L1476,690 L1479,690 L1482,690 L1485,690.1 L1488,690.1 L1491,690.1 L1494,690.2 L1497,690.2 L1500,690.3 L1503,690.3 L1506,690.3 L1509,690.4 L1512,690.4 L1515,690.5 L1518,690.5 L1521,690.6 L1524,690.7 L1527,690.7 L1530,690.8 L1533,690.8 L1536,690.9 L1539,691 L1542,691 L1545,691.1 L1548,691.2 L1551,691.3 L1554,691.3 L1557,691.4 L1560,691.5 L1563,691.6 L1566,691.7 L1569,691.8 L1572,691.9 L1575,691.9 L1578,692 L1581,692.1 L1584,692.2 L1587,692.4 L1590,692.5 L1593,692.6 L1596,692.7 L1599,692.8 L1602,693 L1605,693.1 L1608,693.3 L1611,693.5 L1614,693.6 L1617,693.8 L1620,694 L1623,694.3 L1626,694.6 L1629,695.1 L1632,695.6 L1635,696.1 L1638,696.5 L1641,696.9 L1644,697.3 L1647,697.7 L1650,698 L1653,698.4 L1656,698.7 L1659,699 L1662,699.4 L1665,699.7 L1668,700.1 L1671,700.5 L1674,700.8 L1677,701.2 L1680,701.6 L1683,702.1 L1686,702.6 L1689,703.1 L1692,703.6 L1695,704.2 L1698,704.9 L1701,705.5 L1704,706.2 L1707,706.8 L1710,707.5 L1713,708.1 L1716,708.7 L1719,709.3 L1722,709.8 L1725,710.4 L1728,710.9 L1731,711.4 L1734,711.9 L1737,712.4 L1740,712.9 L1743,713.3 L1746,713.8 L1749,714.3 L1752,714.8 L1755,715.3 L1758,715.8 L1761,716.3 L1764,716.9 L1767,717.3 L1770,717.7 L1773,718 L1776,718.2 L1779,718.3 L1782,718.4 L1785,718.4 L1788,718.5 L1791,718.5 L1794,718.6 L1797,718.6 L1800,718.6 L1803,718.6 L1806,718.6 L1809,718.6 L1812,718.6 L1815,718.6 L1818,718.5 L1821,718.5 L1824,718.5 L1827,718.4 L1830,718.4 L1833,718.4 L1836,718.4 L1839,718.3 L1842,718.3 L1845,718.3 L1848,718.2 L1851,718.2 L1854,718.2 L1857,718.2 L1860,718.2 L1860,718.2 L1860,718.2Z" fill="#ffb8cf"/>
<path d="M1466.8,688.3 L1468.8,688.1 L1470.8,687.9 L1472.8,687.7 L1474.8,687.5 L1476.8,687.3 L1478.8,687 L1480.8,686.7 L1482.8,686.4 L1484.8,686 L1486.8,685.7 L1488.8,685.3 L1490.8,684.9 L1492.8,684.4 L1494.7,684 L1496.7,683.5 L1498.7,683 L1500.7,682.5 L1502.7,682 L1504.7,681.4 L1506.7,680.8 L1508.7,680.3 L1510.7,679.7 L1512.7,679.1 L1514.7,678.5 L1516.7,677.9 L1518.7,677.3 L1520.7,676.7 L1522.7,676.2 L1524.7,675.6 L1526.7,675.1 L1528.7,674.6 L1530.7,674.1 L1532.7,673.6 L1534.7,673.2 L1536.7,672.8 L1538.7,672.5 L1540.7,672.2 L1542.6,672 L1544.6,671.8 L1546.6,671.6 L1548.6,671.5 L1550.6,671.5 L1552.6,671.5 L1554.6,671.6 L1556.6,671.7 L1558.6,671.9 L1560.6,672.2 L1562.6,672.5 L1564.6,672.9 L1566.6,673.4 L1568.6,673.9 L1570.6,674.5 L1572.6,675.1 L1574.6,675.7 L1576.6,676.4 L1578.6,677.1 L1580.6,677.9 L1582.6,678.6 L1584.6,679.4 L1586.6,680.2 L1588.6,681 L1590.6,681.7 L1592.5,682.5 L1594.5,683.3 L1596.5,684 L1598.5,684.8 L1600.5,685.5 L1602.5,686.2 L1604.5,686.8 L1606.5,687.5 L1608.5,688.1 L1610.5,688.7 L1612.5,689.3 L1614.5,689.8 L1616.5,690.3 L1618.5,690.8 L1620.5,691.3 L1622.5,691.8 L1624.5,692.3 L1626.5,692.8 L1628.5,693.3 L1628.5,695 L1626.5,694.7 L1624.5,694.4 L1622.5,694.2 L1620.5,694 L1618.5,693.9 L1616.5,693.8 L1614.5,693.7 L1612.5,693.5 L1610.5,693.4 L1608.5,693.3 L1606.5,693.2 L1604.5,693.1 L1602.5,693 L1600.5,692.9 L1598.5,692.8 L1596.5,692.7 L1594.5,692.7 L1592.5,692.6 L1590.6,692.5 L1588.6,692.4 L1586.6,692.3 L1584.6,692.3 L1582.6,692.2 L1580.6,692.1 L1578.6,692.1 L1576.6,692 L1574.6,691.9 L1572.6,691.9 L1570.6,691.8 L1568.6,691.7 L1566.6,691.7 L1564.6,691.6 L1562.6,691.6 L1560.6,691.5 L1558.6,691.5 L1556.6,691.4 L1554.6,691.4 L1552.6,691.3 L1550.6,691.2 L1548.6,691.2 L1546.6,691.1 L1544.6,691.1 L1542.6,691 L1540.7,691 L1538.7,691 L1536.7,690.9 L1534.7,690.9 L1532.7,690.8 L1530.7,690.8 L1528.7,690.7 L1526.7,690.7 L1524.7,690.7 L1522.7,690.6 L1520.7,690.6 L1518.7,690.6 L1516.7,690.5 L1514.7,690.5 L1512.7,690.5 L1510.7,690.4 L1508.7,690.4 L1506.7,690.4 L1504.7,690.3 L1502.7,690.3 L1500.7,690.3 L1498.7,690.2 L1496.7,690.2 L1494.7,690.2 L1492.8,690.2 L1490.8,690.1 L1488.8,690.1 L1486.8,690.1 L1484.8,690.1 L1482.8,690 L1480.8,690 L1478.8,690 L1476.8,690 L1474.8,689.9 L1472.8,689.9 L1470.8,689.9 L1468.8,689.9 L1466.8,689.9Z" fill="#ffc4da" fill-opacity="0.8"/>
<path d="M1540.7,689.3 L1542.6,689 L1544.6,688.6 L1546.6,688.2 L1548.6,687.8 L1550.6,687.2 L1552.6,686.6 L1554.6,685.9 L1556.6,685.1 L1558.6,684.2 L1560.6,683.2 L1562.6,682.1 L1564.6,680.9 L1566.6,679.6 L1568.6,678.2 L1570.6,676.7 L1572.6,675.1 L1574.6,673.4 L1576.6,671.6 L1578.6,669.8 L1580.6,667.9 L1582.6,666 L1584.6,664 L1586.6,662.1 L1588.6,660.2 L1590.6,658.3 L1592.5,656.5 L1594.5,654.8 L1596.5,653.1 L1598.5,651.7 L1600.5,650.4 L1602.5,649.2 L1604.5,648.3 L1606.5,647.6 L1608.5,647.1 L1610.5,646.8 L1612.5,646.8 L1614.5,647 L1616.5,647.5 L1618.5,648.2 L1620.5,649.2 L1622.5,650.4 L1624.5,651.9 L1626.5,653.6 L1628.5,655.5 L1630.5,657.6 L1632.5,659.8 L1634.5,662 L1636.5,664.4 L1638.5,666.8 L1640.4,669.1 L1642.4,671.4 L1644.4,673.7 L1646.4,676 L1648.4,678.1 L1650.4,680.2 L1652.4,682.2 L1654.4,684.1 L1656.4,685.9 L1658.4,687.6 L1660.4,689.2 L1662.4,690.6 L1664.4,692 L1666.4,693.3 L1668.4,694.4 L1670.4,695.5 L1672.4,696.4 L1674.4,697.3 L1676.4,698.1 L1678.4,698.9 L1680.4,699.6 L1682.4,700.2 L1682.4,702 L1680.4,701.7 L1678.4,701.4 L1676.4,701.1 L1674.4,700.9 L1672.4,700.6 L1670.4,700.4 L1668.4,700.1 L1666.4,699.9 L1664.4,699.7 L1662.4,699.4 L1660.4,699.2 L1658.4,699 L1656.4,698.7 L1654.4,698.5 L1652.4,698.3 L1650.4,698.1 L1648.4,697.8 L1646.4,697.6 L1644.4,697.4 L1642.4,697.1 L1640.4,696.9 L1638.5,696.6 L1636.5,696.3 L1634.5,696 L1632.5,695.6 L1630.5,695.3 L1628.5,695 L1626.5,694.7 L1624.5,694.4 L1622.5,694.2 L1620.5,694 L1618.5,693.9 L1616.5,693.8 L1614.5,693.7 L1612.5,693.5 L1610.5,693.4 L1608.5,693.3 L1606.5,693.2 L1604.5,693.1 L1602.5,693 L1600.5,692.9 L1598.5,692.8 L1596.5,692.7 L1594.5,692.7 L1592.5,692.6 L1590.6,692.5 L1588.6,692.4 L1586.6,692.3 L1584.6,692.3 L1582.6,692.2 L1580.6,692.1 L1578.6,692.1 L1576.6,692 L1574.6,691.9 L1572.6,691.9 L1570.6,691.8 L1568.6,691.7 L1566.6,691.7 L1564.6,691.6 L1562.6,691.6 L1560.6,691.5 L1558.6,691.5 L1556.6,691.4 L1554.6,691.4 L1552.6,691.3 L1550.6,691.2 L1548.6,691.2 L1546.6,691.1 L1544.6,691.1 L1542.6,691 L1540.7,691Z" fill="#96cb75" fill-opacity="0.75"/>
<path d="M1542.6,689 L1544.6,688.6 L1546.6,688.2 L1548.6,687.8 L1550.6,687.2 L1552.6,686.6 L1554.6,685.9 L1556.6,685.1 L1558.6,684.2 L1560.6,683.2 L1562.6,682.1 L1564.6,680.9 L1566.6,679.6 L1568.6,678.2 L1570.6,676.7 L1572.6,675.1 L1574.6,673.4 L1576.6,671.6 L1578.6,669.8 L1580.6,667.9 L1582.6,666 L1584.6,664 L1586.6,662.1 L1588.6,660.2 L1590.6,658.3 L1592.5,656.5 L1594.5,654.8 L1596.5,653.1 L1598.5,651.7 L1600.5,650.4 L1602.5,649.2 L1604.5,648.3 L1606.5,647.6 L1608.5,647.1 L1610.5,646.8 L1612.5,646.8 L1614.5,647 L1616.5,647.5 L1618.5,648.2 L1620.5,649.2 L1622.5,650.4 L1624.5,651.9 L1626.5,653.6 L1628.5,655.5 L1630.5,657.6 L1632.5,659.8 L1634.5,662 L1636.5,664.4 L1638.5,666.8 L1640.4,669.1 L1642.4,671.4 L1644.4,673.7 L1646.4,676 L1648.4,678.1 L1650.4,680.2 L1652.4,682.2 L1654.4,684.1 L1656.4,685.9 L1658.4,687.6 L1660.4,689.2 L1662.4,690.6 L1664.4,692 L1666.4,693.3 L1668.4,694.4 L1670.4,695.5 L1672.4,696.4 L1674.4,697.3 L1676.4,698.1 L1678.4,698.9 L1680.4,699.6" fill="none" stroke="#5aa040" stroke-width="1.2" stroke-opacity="0.7"/>
<path d="M1562.6,689.9 L1564.6,689.7 L1566.6,689.3 L1568.6,689 L1570.6,688.5 L1572.6,687.9 L1574.6,687.3 L1576.6,686.6 L1578.6,685.7 L1580.6,684.8 L1582.6,683.7 L1584.6,682.5 L1586.6,681.1 L1588.6,679.6 L1590.6,677.9 L1592.5,676 L1594.5,674 L1596.5,671.8 L1598.5,669.4 L1600.5,666.8 L1602.5,664 L1604.5,661.1 L1606.5,658 L1608.5,654.8 L1610.5,651.4 L1612.5,647.9 L1614.5,644.4 L1616.5,640.7 L1618.5,637 L1620.5,633.3 L1622.5,629.7 L1624.5,626.2 L1626.5,622.8 L1628.5,619.5 L1630.5,616.5 L1632.5,613.6 L1634.5,611 L1636.5,608.6 L1638.5,606.5 L1640.4,604.7 L1642.4,603.3 L1644.4,602.2 L1646.4,601.5 L1648.4,601.2 L1650.4,601.4 L1652.4,602 L1654.4,603.4 L1656.4,605.3 L1658.4,607.7 L1660.4,610.7 L1662.4,614.2 L1664.4,618.1 L1666.4,622.4 L1668.4,626.9 L1670.4,631.7 L1672.4,636.6 L1674.4,641.6 L1676.4,646.6 L1678.4,651.6 L1680.4,656.5 L1682.4,661.2 L1684.4,665.7 L1686.4,670.1 L1688.4,674.2 L1690.3,678 L1692.3,681.6 L1694.3,685 L1696.3,688 L1698.3,690.8 L1700.3,693.4 L1702.3,695.7 L1704.3,697.7 L1706.3,699.6 L1708.3,701.2 L1710.3,702.7 L1712.3,704 L1714.3,705.2 L1716.3,706.2 L1718.3,707.1 L1720.3,707.9 L1720.3,709.5 L1718.3,709.1 L1716.3,708.8 L1714.3,708.4 L1712.3,708 L1710.3,707.5 L1708.3,707.1 L1706.3,706.7 L1704.3,706.2 L1702.3,705.8 L1700.3,705.4 L1698.3,704.9 L1696.3,704.5 L1694.3,704.1 L1692.3,703.7 L1690.3,703.3 L1688.4,703 L1686.4,702.6 L1684.4,702.3 L1682.4,702 L1680.4,701.7 L1678.4,701.4 L1676.4,701.1 L1674.4,700.9 L1672.4,700.6 L1670.4,700.4 L1668.4,700.1 L1666.4,699.9 L1664.4,699.7 L1662.4,699.4 L1660.4,699.2 L1658.4,699 L1656.4,698.7 L1654.4,698.5 L1652.4,698.3 L1650.4,698.1 L1648.4,697.8 L1646.4,697.6 L1644.4,697.4 L1642.4,697.1 L1640.4,696.9 L1638.5,696.6 L1636.5,696.3 L1634.5,696 L1632.5,695.6 L1630.5,695.3 L1628.5,695 L1626.5,694.7 L1624.5,694.4 L1622.5,694.2 L1620.5,694 L1618.5,693.9 L1616.5,693.8 L1614.5,693.7 L1612.5,693.5 L1610.5,693.4 L1608.5,693.3 L1606.5,693.2 L1604.5,693.1 L1602.5,693 L1600.5,692.9 L1598.5,692.8 L1596.5,692.7 L1594.5,692.7 L1592.5,692.6 L1590.6,692.5 L1588.6,692.4 L1586.6,692.3 L1584.6,692.3 L1582.6,692.2 L1580.6,692.1 L1578.6,692.1 L1576.6,692 L1574.6,691.9 L1572.6,691.9 L1570.6,691.8 L1568.6,691.7 L1566.6,691.7 L1564.6,691.6 L1562.6,691.6Z" fill="#96cb75" fill-opacity="0.75"/>
<path d="M1580.6,690.6 L1582.6,690.6 L1584.6,690.6 L1586.6,690.6 L1588.6,690.6 L1590.6,690.6 L1592.5,690.6 L1594.5,690.6 L1596.5,690.6 L1598.5,690.5 L1600.5,690.5 L1602.5,690.4 L1604.5,690.3 L1606.5,690.2 L1608.5,690.1 L1610.5,689.8 L1612.5,689.6 L1614.5,689.2 L1616.5,688.7 L1618.5,688.1 L1620.5,687.4 L1622.5,686.5 L1624.5,685.4 L1626.5,684.1 L1628.5,682.5 L1630.5,680.6 L1632.5,678.3 L1634.5,675.4 L1636.5,672 L1638.5,668 L1640.4,663.3 L1642.4,657.9 L1644.4,651.7 L1646.4,644.7 L1648.4,636.9 L1650.4,628.3 L1652.4,618.8 L1654.4,608.5 L1656.4,597.4 L1658.4,585.7 L1660.4,573.4 L1662.4,560.6 L1664.4,547.5 L1666.4,534.4 L1668.4,521.2 L1670.4,508.4 L1672.4,496.1 L1674.4,484.6 L1676.4,474 L1678.4,464.7 L1680.4,456.9 L1682.4,450.7 L1684.4,446.4 L1686.4,444 L1688.4,443.7 L1690.3,445.4 L1692.3,449.2 L1694.3,454.9 L1696.3,462.4 L1698.3,471.5 L1700.3,481.9 L1702.3,493.5 L1704.3,506.1 L1706.3,519.3 L1708.3,532.9 L1710.3,546.7 L1712.3,560.5 L1714.3,574.1 L1716.3,587.4 L1718.3,600.1 L1720.3,612.2 L1722.3,623.6 L1724.3,634.2 L1726.3,644 L1728.3,652.9 L1730.3,661 L1732.3,668.3 L1734.3,674.8 L1736.3,680.6 L1738.2,685.6 L1740.2,690 L1742.2,693.8 L1744.2,697.1 L1746.2,700 L1748.2,702.4 L1750.2,704.5 L1752.2,706.3 L1754.2,707.8 L1756.2,709.2 L1758.2,710.3 L1760.2,711.4 L1762.2,712.3 L1764.2,713.1 L1766.2,713.7 L1768.2,714.3 L1770.2,714.8 L1772.2,715.3 L1774.2,715.6 L1776.2,715.8 L1778.2,716 L1780.2,716.2 L1782.2,716.3 L1784.2,716.5 L1786.2,716.6 L1788.1,716.7 L1790.1,716.8 L1792.1,716.9 L1794.1,717 L1796.1,717 L1796.1,718.6 L1794.1,718.6 L1792.1,718.5 L1790.1,718.5 L1788.1,718.5 L1786.2,718.4 L1784.2,718.4 L1782.2,718.4 L1780.2,718.3 L1778.2,718.3 L1776.2,718.2 L1774.2,718.1 L1772.2,718 L1770.2,717.8 L1768.2,717.5 L1766.2,717.2 L1764.2,716.9 L1762.2,716.5 L1760.2,716.2 L1758.2,715.8 L1756.2,715.5 L1754.2,715.1 L1752.2,714.8 L1750.2,714.5 L1748.2,714.2 L1746.2,713.9 L1744.2,713.5 L1742.2,713.2 L1740.2,712.9 L1738.2,712.6 L1736.3,712.3 L1734.3,711.9 L1732.3,711.6 L1730.3,711.3 L1728.3,710.9 L1726.3,710.6 L1724.3,710.2 L1722.3,709.9 L1720.3,709.5 L1718.3,709.1 L1716.3,708.8 L1714.3,708.4 L1712.3,708 L1710.3,707.5 L1708.3,707.1 L1706.3,706.7 L1704.3,706.2 L1702.3,705.8 L1700.3,705.4 L1698.3,704.9 L1696.3,704.5 L1694.3,704.1 L1692.3,703.7 L1690.3,703.3 L1688.4,703 L1686.4,702.6 L1684.4,702.3 L1682.4,702 L1680.4,701.7 L1678.4,701.4 L1676.4,701.1 L1674.4,700.9 L1672.4,700.6 L1670.4,700.4 L1668.4,700.1 L1666.4,699.9 L1664.4,699.7 L1662.4,699.4 L1660.4,699.2 L1658.4,699 L1656.4,698.7 L1654.4,698.5 L1652.4,698.3 L1650.4,698.1 L1648.4,697.8 L1646.4,697.6 L1644.4,697.4 L1642.4,697.1 L1640.4,696.9 L1638.5,696.6 L1636.5,696.3 L1634.5,696 L1632.5,695.6 L1630.5,695.3 L1628.5,695 L1626.5,694.7 L1624.5,694.4 L1622.5,694.2 L1620.5,694 L1618.5,693.9 L1616.5,693.8 L1614.5,693.7 L1612.5,693.5 L1610.5,693.4 L1608.5,693.3 L1606.5,693.2 L1604.5,693.1 L1602.5,693 L1600.5,692.9 L1598.5,692.8 L1596.5,692.7 L1594.5,692.7 L1592.5,692.6 L1590.6,692.5 L1588.6,692.4 L1586.6,692.3 L1584.6,692.3 L1582.6,692.2 L1580.6,692.1Z" fill="#ff8080" fill-opacity="0.75"/>
<path d="M1594.5,690.6 L1596.5,690.6 L1598.5,690.5 L1600.5,690.5 L1602.5,690.4 L1604.5,690.3 L1606.5,690.2 L1608.5,690.1 L1610.5,689.8 L1612.5,689.6 L1614.5,689.2 L1616.5,688.7 L1618.5,688.1 L1620.5,687.4 L1622.5,686.5 L1624.5,685.4 L1626.5,684.1 L1628.5,682.5 L1630.5,680.6 L1632.5,678.3 L1634.5,675.4 L1636.5,672 L1638.5,668 L1640.4,663.3 L1642.4,657.9 L1644.4,651.7 L1646.4,644.7 L1648.4,636.9 L1650.4,628.3 L1652.4,618.8 L1654.4,608.5 L1656.4,597.4 L1658.4,585.7 L1660.4,573.4 L1662.4,560.6 L1664.4,547.5 L1666.4,534.4 L1668.4,521.2 L1670.4,508.4 L1672.4,496.1 L1674.4,484.6 L1676.4,474 L1678.4,464.7 L1680.4,456.9 L1682.4,450.7 L1684.4,446.4 L1686.4,444 L1688.4,443.7 L1690.3,445.4 L1692.3,449.2 L1694.3,454.9 L1696.3,462.4 L1698.3,471.5 L1700.3,481.9 L1702.3,493.5 L1704.3,506.1 L1706.3,519.3 L1708.3,532.9 L1710.3,546.7 L1712.3,560.5 L1714.3,574.1 L1716.3,587.4 L1718.3,600.1 L1720.3,612.2 L1722.3,623.6 L1724.3,634.2 L1726.3,644 L1728.3,652.9 L1730.3,661 L1732.3,668.3 L1734.3,674.8 L1736.3,680.6 L1738.2,685.6 L1740.2,690 L1742.2,693.8 L1744.2,697.1 L1746.2,700 L1748.2,702.4 L1750.2,704.5 L1752.2,706.3 L1754.2,707.8 L1756.2,709.2 L1758.2,710.3 L1760.2,711.4 L1762.2,712.3 L1764.2,713.1 L1766.2,713.7 L1768.2,714.3 L1770.2,714.8 L1772.2,715.3 L1774.2,715.6 L1776.2,715.8 L1778.2,716 L1780.2,716.2 L1782.2,716.3" fill="none" stroke="#ff5050" stroke-width="1.2" stroke-opacity="0.7"/>
<path d="M1578.6,690.5 L1580.6,690.6 L1582.6,690.6 L1584.6,690.6 L1586.6,690.6 L1588.6,690.7 L1590.6,690.7 L1592.5,690.7 L1594.5,690.7 L1596.5,690.8 L1598.5,690.8 L1600.5,690.8 L1602.5,690.9 L1604.5,690.9 L1606.5,690.9 L1608.5,691 L1610.5,691 L1612.5,691 L1614.5,691 L1616.5,691.1 L1618.5,691.1 L1620.5,691.1 L1622.5,691.2 L1624.5,691.3 L1626.5,691.5 L1628.5,691.6 L1630.5,691.8 L1632.5,692 L1634.5,692.1 L1636.5,692.2 L1638.5,692.3 L1640.4,692.3 L1642.4,692.3 L1644.4,692.2 L1646.4,692 L1648.4,691.8 L1650.4,691.4 L1652.4,690.9 L1654.4,690.3 L1656.4,689.4 L1658.4,688.3 L1660.4,686.8 L1662.4,685 L1664.4,682.7 L1666.4,679.9 L1668.4,676.4 L1670.4,672.2 L1672.4,667.1 L1674.4,661 L1676.4,653.8 L1678.4,645.4 L1680.4,635.5 L1682.4,624.2 L1684.4,611.2 L1686.4,596.6 L1688.4,580.3 L1690.3,562.2 L1692.3,542.4 L1694.3,521 L1696.3,498 L1698.3,473.7 L1700.3,448.3 L1702.3,422.1 L1704.3,395.5 L1706.3,368.8 L1708.3,342.5 L1710.3,317.1 L1712.3,293 L1714.3,271 L1716.3,251.3 L1718.3,234.6 L1720.3,221.3 L1722.3,211.8 L1724.3,206.3 L1726.3,205.1 L1728.3,208.6 L1730.3,216.9 L1732.3,229.6 L1734.3,246.2 L1736.3,266.2 L1738.2,288.8 L1740.2,313.4 L1742.2,339.3 L1744.2,366 L1746.2,392.9 L1748.2,419.6 L1750.2,445.7 L1752.2,470.9 L1754.2,495 L1756.2,517.7 L1758.2,538.9 L1760.2,558.6 L1762.2,576.6 L1764.2,593 L1766.2,607.7 L1768.2,620.9 L1770.2,632.5 L1772.2,642.8 L1774.2,651.7 L1776.2,659.4 L1778.2,666.1 L1780.2,671.8 L1782.2,676.7 L1784.2,680.9 L1786.2,684.5 L1788.1,687.6 L1790.1,690.3 L1792.1,692.5 L1794.1,694.5 L1796.1,696.2 L1798.1,697.6 L1800.1,698.9 L1802.1,700.1 L1804.1,701.1 L1806.1,702 L1808.1,702.8 L1810.1,703.5 L1812.1,704.2 L1814.1,704.8 L1816.1,705.4 L1818.1,705.9 L1820.1,706.4 L1822.1,706.8 L1824.1,707.3 L1826.1,707.7 L1828.1,708 L1830.1,708.4 L1832.1,708.7 L1834.1,709 L1836,709.3 L1838,709.6 L1840,709.9 L1842,710.1 L1844,710.4 L1846,710.6 L1848,710.8 L1850,711.1 L1852,711.3 L1854,711.5 L1856,711.7 L1858,711.8 L1860,712 L1860,718.2 L1858,718.2 L1856,718.2 L1854,718.2 L1852,718.2 L1850,718.2 L1848,718.2 L1846,718.3 L1844,718.3 L1842,718.3 L1840,718.3 L1838,718.3 L1836,718.4 L1834.1,718.4 L1832.1,718.4 L1830.1,718.4 L1828.1,718.4 L1826.1,718.5 L1824.1,718.5 L1822.1,718.5 L1820.1,718.5 L1818.1,718.5 L1816.1,718.5 L1814.1,718.6 L1812.1,718.6 L1810.1,718.6 L1808.1,718.6 L1806.1,718.6 L1804.1,718.6 L1802.1,718.6 L1800.1,718.6 L1798.1,718.6 L1796.1,718.6 L1794.1,718.6 L1792.1,718.5 L1790.1,718.5 L1788.1,718.5 L1786.2,718.4 L1784.2,718.4 L1782.2,718.4 L1780.2,718.3 L1778.2,718.3 L1776.2,718.2 L1774.2,718.1 L1772.2,718 L1770.2,717.8 L1768.2,717.5 L1766.2,717.2 L1764.2,716.9 L1762.2,716.5 L1760.2,716.2 L1758.2,715.8 L1756.2,715.5 L1754.2,715.1 L1752.2,714.8 L1750.2,714.5 L1748.2,714.2 L1746.2,713.9 L1744.2,713.5 L1742.2,713.2 L1740.2,712.9 L1738.2,712.6 L1736.3,712.3 L1734.3,711.9 L1732.3,711.6 L1730.3,711.3 L1728.3,710.9 L1726.3,710.6 L1724.3,710.2 L1722.3,709.9 L1720.3,709.5 L1718.3,709.1 L1716.3,708.8 L1714.3,708.4 L1712.3,708 L1710.3,707.5 L1708.3,707.1 L1706.3,706.7 L1704.3,706.2 L1702.3,705.8 L1700.3,705.4 L1698.3,704.9 L1696.3,704.5 L1694.3,704.1 L1692.3,703.7 L1690.3,703.3 L1688.4,703 L1686.4,702.6 L1684.4,702.3 L1682.4,702 L1680.4,701.7 L1678.4,701.4 L1676.4,701.1 L1674.4,700.9 L1672.4,700.6 L1670.4,700.4 L1668.4,700.1 L1666.4,699.9 L1664.4,699.7 L1662.4,699.4 L1660.4,699.2 L1658.4,699 L1656.4,698.7 L1654.4,698.5 L1652.4,698.3 L1650.4,698.1 L1648.4,697.8 L1646.4,697.6 L1644.4,697.4 L1642.4,697.1 L1640.4,696.9 L1638.5,696.6 L1636.5,696.3 L1634.5,696 L1632.5,695.6 L1630.5,695.3 L1628.5,695 L1626.5,694.7 L1624.5,694.4 L1622.5,694.2 L1620.5,694 L1618.5,693.9 L1616.5,693.8 L1614.5,693.7 L1612.5,693.5 L1610.5,693.4 L1608.5,693.3 L1606.5,693.2 L1604.5,693.1 L1602.5,693 L1600.5,692.9 L1598.5,692.8 L1596.5,692.7 L1594.5,692.7 L1592.5,692.6 L1590.6,692.5 L1588.6,692.4 L1586.6,692.3 L1584.6,692.3 L1582.6,692.2 L1580.6,692.1 L1578.6,692.1Z" fill="#ff8080" fill-opacity="0.75"/>
<path d="M1551,690.7 L1552,690.7 L1553,690.7 L1554,690.6 L1555,690.6 L1556,690.5 L1557,690.5 L1558,690.4 L1559,690.4 L1560,690.4 L1561,690.4 L1562,690.4 L1563,690.4 L1564,690.4 L1565,690.5 L1566,690.5 L1567,690.5 L1568,690.5 L1569,690.5 L1570,690.5 L1571,690.5 L1572,690.5 L1573,690.5 L1574,690.5 L1575,690.5 L1576,690.6 L1577,690.6 L1578,690.6 L1579,690.6 L1580,690.6 L1581,690.6 L1582,690.6 L1583,690.6 L1584,690.6 L1585,690.6 L1586,690.6 L1587,690.6 L1588,690.6 L1589,690.6 L1590,690.6 L1591,690.6 L1592,690.6 L1593,690.6 L1594,690.6 L1595,690.6 L1596,690.6 L1597,690.6 L1598,690.6 L1599,690.5 L1600,690.5 L1601,690.5 L1602,690.5 L1603,690.4 L1604,690.4 L1605,690.3 L1606,690.3 L1607,690.2 L1608,690.1 L1609,690 L1610,689.9 L1611,689.8 L1612,689.6 L1613,689.5 L1614,689.3 L1615,689.1 L1616,688.9 L1617,688.6 L1618,688.3 L1619,688 L1620,687.6 L1621,687.2 L1622,686.7 L1623,686.2 L1624,685.7 L1625,685.1 L1626,684.5 L1627,683.7 L1628,683 L1629,682.1 L1630,681.1 L1631,680 L1632,678.8 L1633,677.5 L1634,676.1 L1635,674.6 L1636,672.9 L1637,671 L1638,669 L1639,666.8 L1640,664.5 L1641,661.9 L1642,659.2 L1643,656.3 L1644,653.2 L1645,649.9 L1646,646.3 L1647,642.6 L1648,638.7 L1649,634.5 L1650,630.2 L1651,625.6 L1652,620.9 L1653,615.9 L1654,610.7 L1655,605.3 L1656,604.8 L1657,605.9 L1658,607.2 L1659,608.6 L1660,610.1 L1661,611.7 L1662,613.5 L1663,615.4 L1664,617.3 L1665,619.4 L1666,621.5 L1667,623.7 L1668,626 L1669,628.4 L1670,630.8 L1671,633.2 L1672,635.7 L1673,638.2 L1674,640.7 L1675,643.2 L1676,645.7 L1677,648.2 L1678,650.7 L1679,653.1 L1680,655.6 L1681,658 L1682,660.4 L1683,662.7 L1684,664.9 L1685,667.2 L1686,669.3 L1687,671.4 L1688,673.5 L1689,675.5 L1690,677.4 L1691,679.3 L1692,681 L1693,682.8 L1694,684.4 L1695,686 L1696,687.5 L1697,689 L1698,690.4 L1699,691.7 L1700,693 L1701,694.2 L1702,695.3 L1703,696.4 L1704,697.4 L1705,698.4 L1706,699.3 L1707,700.2 L1708,701 L1709,701.8 L1710,702.5 L1711,703.2 L1712,703.8 L1713,704.4 L1714,705 L1715,705.5 L1716,706 L1717,706.5 L1718,706.9 L1719,707.4 L1720,707.8 L1721,708.1 L1722,708.5 L1723,708.8 L1724,709.1 L1725,709.4 L1726,709.7 L1727,710 L1728,710.2 L1729,710.5 L1729,711 L1728,710.9 L1727,710.7 L1726,710.5 L1725,710.4 L1724,710.2 L1723,710 L1722,709.8 L1721,709.6 L1720,709.5 L1719,709.3 L1718,709.1 L1717,708.9 L1716,708.7 L1715,708.5 L1714,708.3 L1713,708.1 L1712,707.9 L1711,707.7 L1710,707.5 L1709,707.3 L1708,707 L1707,706.8 L1706,706.6 L1705,706.4 L1704,706.2 L1703,705.9 L1702,705.7 L1701,705.5 L1700,705.3 L1699,705.1 L1698,704.9 L1697,704.7 L1696,704.4 L1695,704.2 L1694,704 L1693,703.8 L1692,703.6 L1691,703.4 L1690,703.3 L1689,703.1 L1688,702.9 L1687,702.7 L1686,702.6 L1685,702.4 L1684,702.2 L1683,702.1 L1682,701.9 L1681,701.8 L1680,701.6 L1679,701.5 L1678,701.4 L1677,701.2 L1676,701.1 L1675,701 L1674,700.8 L1673,700.7 L1672,700.6 L1671,700.5 L1670,700.3 L1669,700.2 L1668,700.1 L1667,700 L1666,699.8 L1665,699.7 L1664,699.6 L1663,699.5 L1662,699.4 L1661,699.3 L1660,699.2 L1659,699 L1658,698.9 L1657,698.8 L1656,698.7 L1655,698.6 L1654,698.5 L1653,698.4 L1652,698.2 L1651,698.1 L1650,698 L1649,697.9 L1648,697.8 L1647,697.7 L1646,697.5 L1645,697.4 L1644,697.3 L1643,697.2 L1642,697.1 L1641,696.9 L1640,696.8 L1639,696.7 L1638,696.5 L1637,696.4 L1636,696.2 L1635,696.1 L1634,695.9 L1633,695.7 L1632,695.6 L1631,695.4 L1630,695.2 L1629,695.1 L1628,694.9 L1627,694.8 L1626,694.6 L1625,694.5 L1624,694.4 L1623,694.3 L1622,694.2 L1621,694.1 L1620,694 L1619,693.9 L1618,693.9 L1617,693.8 L1616,693.7 L1615,693.7 L1614,693.6 L1613,693.6 L1612,693.5 L1611,693.5 L1610,693.4 L1609,693.3 L1608,693.3 L1607,693.2 L1606,693.2 L1605,693.1 L1604,693.1 L1603,693 L1602,693 L1601,692.9 L1600,692.9 L1599,692.8 L1598,692.8 L1597,692.8 L1596,692.7 L1595,692.7 L1594,692.6 L1593,692.6 L1592,692.5 L1591,692.5 L1590,692.5 L1589,692.4 L1588,692.4 L1587,692.4 L1586,692.3 L1585,692.3 L1584,692.2 L1583,692.2 L1582,692.2 L1581,692.1 L1580,692.1 L1579,692.1 L1578,692 L1577,692 L1576,692 L1575,691.9 L1574,691.9 L1573,691.9 L1572,691.9 L1571,691.8 L1570,691.8 L1569,691.8 L1568,691.7 L1567,691.7 L1566,691.7 L1565,691.6 L1564,691.6 L1563,691.6 L1562,691.6 L1561,691.5 L1560,691.5 L1559,691.5 L1558,691.4 L1557,691.4 L1556,691.4 L1555,691.4 L1554,691.3 L1553,691.3 L1552,691.3 L1551,691.3Z" fill="#c4aa69" fill-opacity="1.0"/>
<path d="M1551,690.7 L1552,690.7 L1553,690.7 L1554,690.6 L1555,690.6 L1556,690.5 L1557,690.5 L1558,690.4 L1559,690.3 L1560,690.3 L1561,690.3 L1562,690.3 L1563,690.3 L1564,690.3 L1565,690.4 L1566,690.4 L1567,690.4 L1568,690.4 L1569,690.4 L1570,690.4 L1571,690.4 L1572,690.5 L1573,690.5 L1574,690.5 L1575,690.5 L1576,690.5 L1577,690.5 L1578,690.5 L1579,690.5 L1580,690.6 L1581,690.6 L1582,690.6 L1583,690.6 L1584,690.6 L1585,690.6 L1586,690.6 L1587,690.6 L1588,690.7 L1589,690.7 L1590,690.7 L1591,690.7 L1592,690.7 L1593,690.7 L1594,690.7 L1595,690.8 L1596,690.8 L1597,690.8 L1598,690.8 L1599,690.8 L1600,690.8 L1601,690.8 L1602,690.9 L1603,690.9 L1604,690.9 L1605,690.9 L1606,690.9 L1607,690.9 L1608,690.9 L1609,691 L1610,691 L1611,691 L1612,691 L1613,691 L1614,691 L1615,691.1 L1616,691.1 L1617,691.1 L1618,691.1 L1619,691.1 L1620,691.1 L1621,691.1 L1622,691.2 L1623,691.2 L1624,691.3 L1625,691.3 L1626,691.4 L1627,691.5 L1628,691.6 L1629,691.7 L1630,691.8 L1631,691.8 L1632,691.9 L1633,692 L1634,692.1 L1635,692.2 L1636,692.2 L1637,692.3 L1638,692.3 L1639,692.3 L1640,692.3 L1641,692.3 L1642,692.3 L1643,692.3 L1644,692.2 L1645,692.2 L1646,692.1 L1647,692 L1648,691.8 L1649,691.7 L1650,691.5 L1651,691.3 L1652,691 L1653,690.7 L1654,690.4 L1655,690 L1656,689.6 L1657,689.1 L1658,688.5 L1659,687.9 L1660,687.1 L1661,686.3 L1662,685.4 L1663,684.4 L1664,683.2 L1665,681.9 L1666,680.5 L1667,678.9 L1668,677.2 L1669,675.2 L1670,673.1 L1671,670.8 L1672,668.2 L1673,665.4 L1674,662.3 L1675,658.9 L1676,655.3 L1677,651.3 L1678,650.7 L1679,653.1 L1680,655.6 L1681,658 L1682,660.4 L1683,662.7 L1684,664.9 L1685,667.2 L1686,669.3 L1687,671.4 L1688,673.5 L1689,675.5 L1690,677.4 L1691,679.3 L1692,681 L1693,682.8 L1694,684.4 L1695,686 L1696,687.5 L1697,689 L1698,690.4 L1699,691.7 L1700,693 L1701,694.2 L1702,695.3 L1703,696.4 L1704,697.4 L1705,698.4 L1706,699.3 L1707,700.2 L1708,701 L1709,701.8 L1710,702.5 L1711,703.2 L1712,703.8 L1713,704.4 L1714,705 L1715,705.5 L1716,706 L1717,706.5 L1718,706.9 L1719,707.4 L1720,707.8 L1721,708.1 L1722,708.5 L1723,708.8 L1724,709.1 L1725,709.4 L1726,709.7 L1727,710 L1728,710.2 L1729,710.5 L1729,711 L1728,710.9 L1727,710.7 L1726,710.5 L1725,710.4 L1724,710.2 L1723,710 L1722,709.8 L1721,709.6 L1720,709.5 L1719,709.3 L1718,709.1 L1717,708.9 L1716,708.7 L1715,708.5 L1714,708.3 L1713,708.1 L1712,707.9 L1711,707.7 L1710,707.5 L1709,707.3 L1708,707 L1707,706.8 L1706,706.6 L1705,706.4 L1704,706.2 L1703,705.9 L1702,705.7 L1701,705.5 L1700,705.3 L1699,705.1 L1698,704.9 L1697,704.7 L1696,704.4 L1695,704.2 L1694,704 L1693,703.8 L1692,703.6 L1691,703.4 L1690,703.3 L1689,703.1 L1688,702.9 L1687,702.7 L1686,702.6 L1685,702.4 L1684,702.2 L1683,702.1 L1682,701.9 L1681,701.8 L1680,701.6 L1679,701.5 L1678,701.4 L1677,701.2 L1676,701.1 L1675,701 L1674,700.8 L1673,700.7 L1672,700.6 L1671,700.5 L1670,700.3 L1669,700.2 L1668,700.1 L1667,700 L1666,699.8 L1665,699.7 L1664,699.6 L1663,699.5 L1662,699.4 L1661,699.3 L1660,699.2 L1659,699 L1658,698.9 L1657,698.8 L1656,698.7 L1655,698.6 L1654,698.5 L1653,698.4 L1652,698.2 L1651,698.1 L1650,698 L1649,697.9 L1648,697.8 L1647,697.7 L1646,697.5 L1645,697.4 L1644,697.3 L1643,697.2 L1642,697.1 L1641,696.9 L1640,696.8 L1639,696.7 L1638,696.5 L1637,696.4 L1636,696.2 L1635,696.1 L1634,695.9 L1633,695.7 L1632,695.6 L1631,695.4 L1630,695.2 L1629,695.1 L1628,694.9 L1627,694.8 L1626,694.6 L1625,694.5 L1624,694.4 L1623,694.3 L1622,694.2 L1621,694.1 L1620,694 L1619,693.9 L1618,693.9 L1617,693.8 L1616,693.7 L1615,693.7 L1614,693.6 L1613,693.6 L1612,693.5 L1611,693.5 L1610,693.4 L1609,693.3 L1608,693.3 L1607,693.2 L1606,693.2 L1605,693.1 L1604,693.1 L1603,693 L1602,693 L1601,692.9 L1600,692.9 L1599,692.8 L1598,692.8 L1597,692.8 L1596,692.7 L1595,692.7 L1594,692.6 L1593,692.6 L1592,692.5 L1591,692.5 L1590,692.5 L1589,692.4 L1588,692.4 L1587,692.4 L1586,692.3 L1585,692.3 L1584,692.2 L1583,692.2 L1582,692.2 L1581,692.1 L1580,692.1 L1579,692.1 L1578,692 L1577,692 L1576,692 L1575,691.9 L1574,691.9 L1573,691.9 L1572,691.9 L1571,691.8 L1570,691.8 L1569,691.8 L1568,691.7 L1567,691.7 L1566,691.7 L1565,691.6 L1564,691.6 L1563,691.6 L1562,691.6 L1561,691.5 L1560,691.5 L1559,691.5 L1558,691.4 L1557,691.4 L1556,691.4 L1555,691.4 L1554,691.3 L1553,691.3 L1552,691.3 L1551,691.3Z" fill="#c4aa69" fill-opacity="1.0"/>
<path d="M1529,690.2 L1530,690.2 L1531,690.1 L1532,690.1 L1533,690.1 L1534,690.1 L1535,690.1 L1536,690.1 L1537,690.1 L1538,690.1 L1539,690.1 L1540,690.2 L1541,690.2 L1542,690.2 L1543,690.2 L1544,690.2 L1545,690.2 L1546,690.2 L1547,690.2 L1548,690.2 L1549,690.3 L1550,690.3 L1551,690.3 L1552,690.3 L1553,690.3 L1554,690.3 L1555,690.3 L1556,690.3 L1557,690.4 L1558,690.4 L1559,690.4 L1560,690.4 L1561,690.4 L1562,690.4 L1563,690.4 L1564,690.4 L1565,690.5 L1566,690.5 L1567,690.5 L1568,690.5 L1569,690.5 L1570,690.5 L1571,690.5 L1572,690.5 L1573,690.5 L1574,690.5 L1575,690.5 L1576,690.6 L1577,690.6 L1578,690.6 L1579,690.6 L1580,690.6 L1581,690.6 L1582,690.6 L1583,690.6 L1584,690.6 L1585,690.6 L1586,690.6 L1587,690.6 L1588,690.6 L1589,690.6 L1590,690.6 L1591,690.6 L1592,690.6 L1593,690.6 L1594,690.6 L1595,690.6 L1596,690.6 L1597,690.6 L1598,690.6 L1599,690.5 L1600,690.5 L1601,690.5 L1602,690.5 L1603,690.4 L1604,690.4 L1605,690.3 L1606,690.3 L1607,690.2 L1608,690.1 L1609,690 L1610,689.9 L1611,689.8 L1612,689.6 L1613,689.5 L1614,689.3 L1615,689.1 L1616,688.9 L1617,688.6 L1618,688.3 L1619,688 L1620,687.6 L1621,687.2 L1622,686.7 L1623,686.2 L1624,685.7 L1625,685.1 L1626,684.5 L1627,683.7 L1628,683 L1629,682.1 L1630,681.1 L1631,680 L1632,678.8 L1633,677.5 L1634,676.1 L1635,674.6 L1636,672.9 L1637,671 L1638,669 L1639,667.4 L1640,668.6 L1641,669.7 L1642,670.9 L1643,672.1 L1644,673.2 L1645,674.4 L1646,675.5 L1647,676.6 L1648,677.7 L1649,678.7 L1650,679.8 L1651,680.8 L1652,681.8 L1653,682.8 L1654,683.7 L1655,684.7 L1656,685.6 L1657,686.4 L1658,687.3 L1659,688.1 L1660,688.9 L1661,689.6 L1662,690.4 L1663,691.1 L1664,691.7 L1665,692.4 L1666,693 L1667,693.6 L1668,694.2 L1669,694.7 L1670,695.3 L1671,695.8 L1672,696.3 L1673,696.7 L1674,697.2 L1675,697.6 L1676,698 L1677,698.4 L1678,698.8 L1679,699.1 L1680,699.5 L1681,699.8 L1682,700.1 L1683,700.4 L1684,700.7 L1685,701 L1686,701.3 L1687,701.6 L1688,701.9 L1689,702.2 L1690,702.4 L1691,702.7 L1692,703 L1693,703.2 L1694,703.5 L1694,704 L1693,703.8 L1692,703.6 L1691,703.4 L1690,703.3 L1689,703.1 L1688,702.9 L1687,702.7 L1686,702.6 L1685,702.4 L1684,702.2 L1683,702.1 L1682,701.9 L1681,701.8 L1680,701.6 L1679,701.5 L1678,701.4 L1677,701.2 L1676,701.1 L1675,701 L1674,700.8 L1673,700.7 L1672,700.6 L1671,700.5 L1670,700.3 L1669,700.2 L1668,700.1 L1667,700 L1666,699.8 L1665,699.7 L1664,699.6 L1663,699.5 L1662,699.4 L1661,699.3 L1660,699.2 L1659,699 L1658,698.9 L1657,698.8 L1656,698.7 L1655,698.6 L1654,698.5 L1653,698.4 L1652,698.2 L1651,698.1 L1650,698 L1649,697.9 L1648,697.8 L1647,697.7 L1646,697.5 L1645,697.4 L1644,697.3 L1643,697.2 L1642,697.1 L1641,696.9 L1640,696.8 L1639,696.7 L1638,696.5 L1637,696.4 L1636,696.2 L1635,696.1 L1634,695.9 L1633,695.7 L1632,695.6 L1631,695.4 L1630,695.2 L1629,695.1 L1628,694.9 L1627,694.8 L1626,694.6 L1625,694.5 L1624,694.4 L1623,694.3 L1622,694.2 L1621,694.1 L1620,694 L1619,693.9 L1618,693.9 L1617,693.8 L1616,693.7 L1615,693.7 L1614,693.6 L1613,693.6 L1612,693.5 L1611,693.5 L1610,693.4 L1609,693.3 L1608,693.3 L1607,693.2 L1606,693.2 L1605,693.1 L1604,693.1 L1603,693 L1602,693 L1601,692.9 L1600,692.9 L1599,692.8 L1598,692.8 L1597,692.8 L1596,692.7 L1595,692.7 L1594,692.6 L1593,692.6 L1592,692.5 L1591,692.5 L1590,692.5 L1589,692.4 L1588,692.4 L1587,692.4 L1586,692.3 L1585,692.3 L1584,692.2 L1583,692.2 L1582,692.2 L1581,692.1 L1580,692.1 L1579,692.1 L1578,692 L1577,692 L1576,692 L1575,691.9 L1574,691.9 L1573,691.9 L1572,691.9 L1571,691.8 L1570,691.8 L1569,691.8 L1568,691.7 L1567,691.7 L1566,691.7 L1565,691.6 L1564,691.6 L1563,691.6 L1562,691.6 L1561,691.5 L1560,691.5 L1559,691.5 L1558,691.4 L1557,691.4 L1556,691.4 L1555,691.4 L1554,691.3 L1553,691.3 L1552,691.3 L1551,691.3 L1550,691.2 L1549,691.2 L1548,691.2 L1547,691.2 L1546,691.1 L1545,691.1 L1544,691.1 L1543,691.1 L1542,691 L1541,691 L1540,691 L1539,691 L1538,690.9 L1537,690.9 L1536,690.9 L1535,690.9 L1534,690.9 L1533,690.8 L1532,690.8 L1531,690.8 L1530,690.8 L1529,690.8Z" fill="#c4aa69" fill-opacity="0.9"/>
<path d="M1371.4,688.2 L1375.5,688.2 L1379.8,688.2 L1384.2,688.2 L1388.6,688.3 L1393.1,688.3 L1397.6,688.4 L1402.1,688.5 L1406.6,688.5 L1411.1,688.6 L1415.5,688.6 L1419.7,688.6 L1423.8,688.6 L1427.8,688.6 L1431.6,688.5 L1435.2,688.3 L1438.5,688.1 L1441.6,687.9 L1444.4,687.6 L1449.6,686.8 L1453.8,686 L1457.7,684.8 L1461.6,683.3 L1465.2,681.2 L1468.9,678.4 L1472.5,675.6 L1475.8,673.4 L1478.8,672.6 L1482.6,675.2 L1486.3,678 L1489.8,677.5 L1493.9,675.9 L1497.9,673.7 L1501.4,671.5 L1505.4,667.1 L1508.9,664 L1511.9,665.5 L1515.3,667.2 L1518.3,666 L1521.9,663.4 L1525.7,660.4 L1529.4,657.7 L1532.5,656.5 L1536.5,658.1 L1540,659.7 L1543.3,657 L1546.4,654.4 L1549.1,656.1 L1551.8,657.6 L1554.9,653.7 L1558.3,649 L1562.6,648.5 L1566.9,647.9 L1569.5,645.2 L1571.8,641.5 L1574.4,638.3 L1579.1,635.7 L1584,633 L1587,630.3 L1590.1,627 L1593.1,623.5 L1596,619.9 L1598.5,616.7 L1601,613.4 L1603.4,610 L1605.8,606.5 L1608,603.1 L1610.6,599 L1613,594.8 L1615.3,590.6 L1617.5,586.3 L1619.3,582.6 L1621,578.7 L1622.6,574.9 L1624.2,571 L1625.9,567.1 L1627.6,563.3 L1629.3,559.4 L1631,555.5 L1632.7,551.7 L1634.3,547.9 L1636.2,543.5 L1638,539.1 L1639.8,534.7 L1641.5,530 L1642.8,526.2 L1644,522.3 L1645.2,518.3 L1646.4,514.2 L1647.6,510.1 L1648.7,506 L1649.8,501.8 L1650.9,497.6 L1651.9,493.3 L1653,489 L1654,484.6 L1655,480 L1655.9,476 L1656.8,471.9 L1657.6,467.8 L1658.5,463.6 L1659.4,459.3 L1660.3,454.9 L1661.1,450.5 L1662,446 L1662.7,442.2 L1663.5,438.4 L1664.3,434.5 L1665,430.5 L1665.8,426.5 L1666.6,422.5 L1667.3,418.4 L1668,414.2 L1668.7,410.1 L1669.4,405.9 L1670,401.6 L1670.5,397.5 L1671,393.3 L1671.5,388.9 L1671.9,384.5 L1672.4,380 L1672.8,375.4 L1673.1,371 L1673.5,366.5 L1673.9,362.2 L1674.3,358 L1674.7,353.9 L1675.1,350 L1675.5,346.4 L1676.2,341.3 L1676.9,336.5 L1677.5,332.1 L1678.2,327.7 L1678.9,323.4 L1679.6,318.9 L1680.3,314.3 L1681,309.8 L1681.7,305.2 L1682.4,300.6 L1683.1,296 L1683.8,291.3 L1684.4,286.9 L1684.9,282.4 L1685.4,277.9 L1685.9,273.4 L1686.4,268.8 L1686.9,264.4 L1687.5,260 L1688.2,255.3 L1688.8,250.6 L1689.6,245.9 L1690.3,241.4 L1690.9,236.9 L1691.6,232.6 L1692.2,228.3 L1692.8,224.2 L1693.4,220.2 L1694,216.2 L1694.6,212.2 L1695.2,208.1 L1695.8,204.1 L1696.5,200 L1697.1,196 L1697.7,191.9 L1698.3,187.8 L1698.9,183.7 L1699.5,179.7 L1700.1,175.6 L1700.7,171.5 L1701.3,167.4 L1701.9,163.2 L1702.5,159 L1703.1,155 L1703.8,151.1 L1704.8,145.8 L1705.8,140.8 L1706.9,135.8 L1708.1,130.6 L1709.4,125.3 L1710.9,120.6 L1712.8,115.6 L1715,111.9 L1717,110.4 L1719,110 L1720.6,111.1 L1722,113 L1723.7,116.4 L1725.2,120.6 L1726.4,125.3 L1727.3,130.5 L1728.2,135.8 L1729,140.8 L1729.7,145.8 L1730.3,151.1 L1730.7,155 L1731.1,159 L1731.5,163.2 L1731.9,167.4 L1732.3,171.5 L1732.7,175.6 L1733.1,179.7 L1733.6,183.7 L1734,187.8 L1734.4,191.9 L1734.8,196 L1735.2,200 L1735.6,204.1 L1736,208.1 L1736.4,212.2 L1736.8,216.2 L1737.2,220.2 L1737.6,224.2 L1738,228.3 L1738.4,232.6 L1738.8,236.9 L1739.2,241.4 L1739.5,245.9 L1739.9,250.6 L1740.2,255.3 L1740.5,260 L1740.7,264.3 L1740.9,268.7 L1741,273 L1741.1,277.5 L1741.2,282 L1741.4,286.6 L1741.6,291.3 L1741.8,295.2 L1742.1,299.2 L1742.3,303.3 L1742.6,307.4 L1742.9,311.6 L1743.2,315.9 L1743.5,320.1 L1743.8,324.3 L1744.1,328.5 L1744.4,332.7 L1744.7,336.8 L1745,341 L1745.2,345.1 L1745.5,349.2 L1745.8,353.4 L1746.1,357.5 L1746.4,361.6 L1746.6,365.7 L1746.9,369.9 L1747.2,374 L1747.5,378.1 L1747.7,382.3 L1748,386.4 L1748.3,390.5 L1748.6,394.6 L1748.8,398.8 L1749.1,402.9 L1749.4,407 L1749.6,411.2 L1749.9,415.3 L1750.2,419.5 L1750.5,423.9 L1750.7,428.4 L1751,433 L1751.3,437.4 L1751.6,441.8 L1751.9,446 L1752.2,449.9 L1752.4,453.5 L1752.7,456.7 L1753.2,461.4 L1753.7,465.2 L1754.2,470 L1754.5,473.1 L1754.7,476.7 L1755,480.5 L1755.3,484.6 L1755.5,489 L1755.8,493.4 L1756.1,498 L1756.4,502.6 L1756.6,507.1 L1756.9,511.5 L1757.2,515.8 L1757.5,520 L1757.7,524.3 L1758,528.6 L1758.2,532.9 L1758.4,537.2 L1758.7,541.5 L1759,545.7 L1759.3,549.9 L1759.6,553.9 L1759.9,557.9 L1760.3,561.7 L1760.9,566.4 L1761.5,570.9 L1762.1,575.2 L1762.8,579.5 L1763.5,583.7 L1764.2,587.9 L1764.9,592.2 L1765.5,596.6 L1766.2,600.9 L1766.8,605.3 L1767.4,609.7 L1768.1,614.1 L1768.8,618.4 L1769.5,622.8 L1770.3,627.2 L1771.1,631.7 L1771.9,636.2 L1772.7,640.6 L1773.6,645 L1774.6,649.3 L1775.6,653.4 L1776.7,657.5 L1777.8,661.4 L1779,665.3 L1780.3,669.1 L1781.7,672.7 L1783.2,676.3 L1785,680.3 L1787,684.2 L1789,687.9 L1791.3,691.4 L1793.9,694.6 L1797.3,697.9 L1801.1,700.7 L1805.1,703.2 L1809.2,705.3 L1813.6,706.9 L1818.2,708.1 L1822.9,709.1 L1827.5,709.9 L1831.9,710.5 L1836.4,711 L1840.8,711.4 L1845,712 L1850,713.2 L1854.8,714.6 L1859.6,716" fill="none" stroke="#f08080" stroke-width="1.6" stroke-linejoin="round"/>
<path d="M1371.4,688.2 L1375.5,688.2 L1379.8,688.2 L1384.2,688.2 L1388.6,688.3 L1393.1,688.3 L1397.6,688.4 L1402.1,688.5 L1406.6,688.5 L1411.1,688.6 L1415.5,688.6 L1419.7,688.6 L1423.8,688.6 L1427.8,688.6 L1431.6,688.5 L1435.2,688.3 L1438.5,688.1 L1441.6,687.9 L1444.4,687.6 L1449.6,686.8 L1453.8,686 L1457.7,684.8 L1461.6,683.3 L1465.2,681.2 L1468.9,678.4 L1472.5,675.6 L1475.8,673.4 L1478.8,672.6 L1482.6,675.2 L1486.3,678 L1489.8,677.5 L1493.9,675.9 L1497.9,673.7 L1501.4,671.5 L1505.4,667.1 L1508.9,664 L1511.9,665.5 L1515.3,667.2 L1518.3,666 L1521.9,663.4 L1525.7,660.4 L1529.4,657.7 L1532.5,656.5 L1536.5,658.1 L1540,659.7 L1543.3,657 L1546.4,654.4 L1549.1,656.1 L1551.8,657.6 L1554.9,653.7 L1558.3,649 L1562.6,648.5 L1566.9,647.9 L1569.5,645.2 L1571.8,641.5 L1574.4,638.3 L1579.1,635.7 L1584,633 L1587,630.3 L1590.1,627 L1593.1,623.5 L1596,619.9 L1598.5,616.7 L1601,613.4 L1603.4,610 L1605.8,606.5 L1608,603.1 L1610.6,599 L1613,594.8 L1615.3,590.6 L1617.5,586.3 L1619.3,582.6 L1621,578.7 L1622.6,574.9 L1624.2,571 L1625.9,567.1 L1627.6,563.3 L1629.3,559.4 L1631,555.5 L1632.7,551.7 L1634.3,547.9 L1636.2,543.5 L1638,539.1 L1639.8,534.7 L1641.5,530 L1642.8,526.2 L1644,522.3 L1645.2,518.3 L1646.4,514.2 L1647.6,510.1 L1648.7,506 L1649.8,501.8 L1650.9,497.6 L1651.9,493.3 L1653,489 L1654,484.6 L1655,480 L1655.9,476 L1656.8,471.9 L1657.6,467.8 L1658.5,463.6 L1659.4,459.3 L1660.3,454.9 L1661.1,450.5 L1662,446 L1662.7,442.2 L1663.5,438.4 L1664.3,434.5 L1665,430.5 L1665.8,426.5 L1666.6,422.5 L1667.3,418.4 L1668,414.2 L1668.7,410.1 L1669.4,405.9 L1670,401.6 L1670.5,397.5 L1671,393.3 L1671.5,388.9 L1671.9,384.5 L1672.4,380 L1672.8,375.4 L1673.1,371 L1673.5,366.5 L1673.9,362.2 L1674.3,358 L1674.7,353.9 L1675.1,350 L1675.5,346.4 L1676.2,341.3 L1676.9,336.5 L1677.5,332.1 L1678.2,327.7 L1678.9,323.4 L1679.6,318.9 L1680.3,314.3 L1681,309.8 L1681.7,305.2 L1682.4,300.6 L1683.1,296 L1683.8,291.3 L1684.4,286.9 L1684.9,282.4 L1685.4,277.9 L1685.9,273.4 L1686.4,268.8 L1686.9,264.4 L1687.5,260 L1688.2,255.3 L1688.8,250.6 L1689.6,245.9 L1690.3,241.4 L1690.9,236.9 L1691.6,232.6 L1692.2,228.3 L1692.8,224.2 L1693.4,220.2 L1694,216.2 L1694.6,212.2 L1695.2,208.1 L1695.8,204.1 L1696.5,200 L1697.1,196 L1697.7,191.9 L1698.3,187.8 L1698.9,183.7 L1699.5,179.7 L1700.1,175.6 L1700.7,171.5 L1701.3,167.4 L1701.9,163.2 L1702.5,159 L1703.1,155 L1703.8,151.1 L1704.8,145.9 L1705.8,140.9 L1706.9,135.8 L1707.8,131 L1708.7,125.8 L1709.7,120.9 L1710.9,116.6 L1712.7,111.6 L1715,107.9 L1717,106.4 L1719,106 L1720.6,107 L1722,109 L1723.3,112.2 L1724.3,116.3 L1725.2,120.6 L1726.3,125.5 L1727.3,130.6 L1728.2,135.8 L1729,140.8 L1729.7,145.8 L1730.3,151.1 L1730.7,155 L1731.1,159 L1731.5,163.2 L1731.9,167.4 L1732.3,171.5 L1732.7,175.6 L1733.1,179.7 L1733.6,183.7 L1734,187.8 L1734.4,191.9 L1734.8,196 L1735.2,200 L1735.6,204.1 L1736,208.1 L1736.4,212.2 L1736.8,216.2 L1737.2,220.2 L1737.6,224.2 L1738,228.3 L1738.4,232.6 L1738.8,236.9 L1739.2,241.4 L1739.5,245.9 L1739.9,250.6 L1740.2,255.3 L1740.5,260 L1740.7,264.3 L1740.9,268.7 L1741,273 L1741.1,277.5 L1741.2,282 L1741.4,286.6 L1741.6,291.3 L1741.8,295.2 L1742.1,299.2 L1742.3,303.3 L1742.6,307.4 L1742.9,311.6 L1743.2,315.9 L1743.5,320.1 L1743.8,324.3 L1744.1,328.5 L1744.4,332.7 L1744.7,336.8 L1745,341 L1745.2,345.1 L1745.5,349.2 L1745.8,353.4 L1746.1,357.5 L1746.4,361.6 L1746.6,365.7 L1746.9,369.9 L1747.2,374 L1747.5,378.1 L1747.7,382.3 L1748,386.4 L1748.3,390.5 L1748.6,394.6 L1748.8,398.8 L1749.1,402.9 L1749.4,407 L1749.6,411.2 L1749.9,415.3 L1750.2,419.5 L1750.5,423.9 L1750.7,428.4 L1751,433 L1751.3,437.4 L1751.6,441.8 L1751.9,446 L1752.2,449.9 L1752.4,453.5 L1752.7,456.7 L1753.2,461.4 L1753.7,465.2 L1754.2,470 L1754.5,473.1 L1754.7,476.7 L1755,480.5 L1755.3,484.6 L1755.5,489 L1755.8,493.4 L1756.1,498 L1756.4,502.6 L1756.6,507.1 L1756.9,511.5 L1757.2,515.8 L1757.5,520 L1757.7,524.3 L1758,528.6 L1758.2,532.9 L1758.4,537.2 L1758.7,541.5 L1759,545.7 L1759.3,549.9 L1759.6,553.9 L1759.9,557.9 L1760.3,561.7 L1760.9,566.4 L1761.5,570.9 L1762.1,575.2 L1762.8,579.5 L1763.5,583.7 L1764.2,587.9 L1764.9,592.2 L1765.5,596.6 L1766.2,600.9 L1766.8,605.3 L1767.4,609.7 L1768.1,614.1 L1768.8,618.4 L1769.5,622.8 L1770.3,627.2 L1771.1,631.7 L1771.9,636.2 L1772.7,640.6 L1773.6,645 L1774.6,649.3 L1775.6,653.4 L1776.7,657.5 L1777.8,661.4 L1779,665.3 L1780.3,669.1 L1781.7,672.7 L1783.2,676.3 L1785,680.3 L1787,684.2 L1789,687.9 L1791.3,691.4 L1793.9,694.6 L1797.3,697.9 L1801.1,700.7 L1805.1,703.2 L1809.2,705.3 L1813.6,706.9 L1818.2,708.1 L1822.9,709.1 L1827.5,709.9 L1831.9,710.6 L1836.4,711.2 L1840.7,711.6 L1845,712 L1850,712.3 L1854.8,712.4 L1859.6,712.5" fill="none" stroke="#1a0a0a" stroke-width="2.4" stroke-dasharray="2.6 4.4" stroke-opacity="0.8"/>
<path d="M257,1408.6 L257,1361 L260,1361 L263,1361 L266,1361.1 L269,1361.1 L272,1361.1 L275,1361.1 L278,1361.1 L281,1361.2 L284,1361.2 L287,1361.2 L290,1361.2 L293,1361.2 L296,1361.2 L299,1361.3 L302,1361.3 L305,1361.3 L308,1361.3 L311,1361.3 L314,1361.4 L317,1361.4 L320,1361.4 L323,1361.4 L326,1361.4 L329,1361.4 L332,1361.5 L335,1361.5 L338,1361.5 L341,1361.5 L344,1361.5 L347,1361.5 L350,1361.6 L353,1361.6 L356,1361.6 L359,1361.6 L362,1361.6 L365,1361.6 L368,1361.7 L371,1361.7 L374,1361.7 L377,1361.7 L380,1361.7 L383,1361.8 L386,1361.8 L389,1361.8 L392,1361.8 L395,1361.8 L398,1361.9 L401,1361.9 L404,1361.9 L407,1361.9 L410,1361.9 L413,1362 L416,1362 L419,1362 L422,1362 L425,1362.1 L428,1362.1 L431,1362.1 L434,1362.1 L437,1362.2 L440,1362.2 L443,1362.2 L446,1362.2 L449,1362.3 L452,1362.3 L455,1362.3 L458,1362.4 L461,1362.4 L464,1362.4 L467,1362.5 L470,1362.5 L473,1362.5 L476,1362.6 L479,1362.6 L482,1362.7 L485,1362.7 L488,1362.8 L491,1362.9 L494,1363 L497,1363 L500,1363.1 L503,1363.2 L506,1363.4 L509,1363.5 L512,1363.6 L515,1363.7 L518,1363.9 L521,1364.1 L524,1364.2 L527,1364.4 L530,1364.7 L533,1365 L536,1365.3 L539,1365.6 L542,1366 L545,1366.5 L548,1367 L551,1367.7 L554,1368.3 L557,1369.1 L560,1369.8 L563,1370.5 L566,1371.2 L569,1371.8 L572,1372.4 L575,1372.9 L578,1373.4 L581,1374 L584,1374.5 L587,1375 L590,1375.4 L593,1375.8 L596,1376.1 L599,1376.4 L602,1376.6 L605,1376.9 L608,1377 L611,1377.2 L614,1377.3 L617,1377.4 L620,1377.6 L623,1377.6 L626,1377.7 L629,1377.8 L632,1377.9 L635,1378 L638,1378.1 L641,1378.1 L644,1378.2 L647,1378.4 L650,1378.5 L653,1378.6 L656,1378.8 L659,1378.9 L662,1379.1 L665,1379.3 L668,1379.5 L671,1379.7 L674,1380 L677,1380.2 L680,1380.5 L683,1380.8 L686,1381.1 L689,1381.4 L692,1381.8 L695,1382.2 L698,1382.7 L701,1383.2 L704,1383.7 L707,1384.3 L710,1384.9 L713,1385.5 L716,1386.2 L719,1386.9 L722,1387.6 L725,1388.3 L728,1389 L731,1389.7 L734,1390.5 L737,1391.2 L740,1391.9 L743,1392.6 L746,1393.2 L749,1393.9 L752,1394.5 L755,1395.1 L758,1395.7 L761,1396.2 L764,1396.6 L767,1397 L770,1397.4 L773,1397.7 L776,1398 L779,1398.3 L782,1398.5 L785,1398.8 L788,1399 L791,1399.2 L794,1399.5 L797,1399.7 L800,1400 L803,1400.3 L806,1400.6 L809,1400.9 L812,1401.2 L815,1401.5 L818,1401.8 L821,1402 L824,1402.3 L827,1402.6 L830,1402.8 L833,1403 L836,1403.3 L839,1403.4 L842,1403.6 L845,1403.8 L848,1403.9 L851,1404 L854,1404.2 L857,1404.3 L860,1404.4 L863,1404.5 L866,1404.6 L869,1404.7 L872,1404.8 L875,1404.9 L878,1405 L881,1405 L884,1405.1 L887,1405.2 L890,1405.3 L893,1405.3 L896,1405.4 L899,1405.5 L902,1405.5 L905,1405.6 L908,1405.7 L911,1405.7 L914,1405.8 L917,1405.8 L920,1405.9 L923,1406 L926,1406 L929,1406.1 L932,1406.1 L935,1406.2 L938,1406.2 L941,1406.2 L944,1406.3 L947,1406.3 L950,1406.4 L953,1406.4 L956,1406.5 L959,1406.5 L962,1406.5 L965,1406.6 L968,1406.6 L971,1406.7 L974,1406.7 L977,1406.7 L980,1406.8 L983,1406.8 L986,1406.9 L989,1406.9 L992,1407 L994,1407 L994,1408.6Z" fill="#8d909f"/>
<path d="M362.9,1360.1 L364.9,1359.8 L366.9,1359.5 L368.8,1359.2 L370.8,1358.8 L372.8,1358.3 L374.8,1357.8 L376.8,1357.2 L378.8,1356.5 L380.8,1355.8 L382.8,1355 L384.8,1354 L386.8,1353 L388.8,1351.9 L390.8,1350.6 L392.8,1349.2 L394.8,1347.8 L396.8,1346.1 L398.8,1344.4 L400.8,1342.5 L402.8,1340.5 L404.8,1338.4 L406.8,1336.2 L408.8,1333.8 L410.8,1331.3 L412.8,1328.7 L414.8,1326 L416.8,1323.2 L418.8,1320.4 L420.8,1317.5 L422.8,1314.5 L424.8,1311.6 L426.8,1308.6 L428.8,1305.6 L430.8,1302.7 L432.8,1299.9 L434.8,1297.1 L436.8,1294.5 L438.8,1291.9 L440.8,1289.6 L442.7,1287.4 L444.7,1285.4 L446.7,1283.7 L448.7,1282.1 L450.7,1280.9 L452.7,1279.8 L454.7,1279.1 L456.7,1278.7 L458.7,1278.5 L460.7,1278.6 L462.7,1279 L464.7,1279.7 L466.7,1280.7 L468.7,1282 L470.7,1283.5 L472.7,1285.2 L474.7,1287.2 L476.7,1289.4 L478.7,1291.7 L480.7,1294.3 L482.7,1296.9 L484.7,1299.7 L486.7,1302.6 L488.7,1305.6 L490.7,1308.6 L492.7,1311.6 L494.7,1314.7 L496.7,1317.7 L498.7,1320.7 L500.7,1323.6 L502.7,1326.5 L504.7,1329.3 L506.7,1332 L508.7,1334.6 L510.7,1337.1 L512.7,1339.5 L514.7,1341.8 L516.6,1343.9 L518.6,1346 L520.6,1347.9 L522.6,1349.6 L524.6,1351.3 L526.6,1352.9 L528.6,1354.3 L530.6,1355.7 L532.6,1356.9 L534.6,1358.1 L536.6,1359.2 L538.6,1360.2 L540.6,1361.2 L542.6,1362.1 L544.6,1362.9 L546.6,1363.8 L548.6,1364.6 L550.6,1365.4 L552.6,1366.1 L554.6,1366.9 L554.6,1368.5 L552.6,1368 L550.6,1367.6 L548.6,1367.2 L546.6,1366.8 L544.6,1366.4 L542.6,1366.1 L540.6,1365.9 L538.6,1365.6 L536.6,1365.4 L534.6,1365.1 L532.6,1364.9 L530.6,1364.7 L528.6,1364.6 L526.6,1364.4 L524.6,1364.3 L522.6,1364.2 L520.6,1364 L518.6,1363.9 L516.6,1363.8 L514.7,1363.7 L512.7,1363.6 L510.7,1363.5 L508.7,1363.5 L506.7,1363.4 L504.7,1363.3 L502.7,1363.2 L500.7,1363.2 L498.7,1363.1 L496.7,1363 L494.7,1363 L492.7,1362.9 L490.7,1362.9 L488.7,1362.8 L486.7,1362.8 L484.7,1362.7 L482.7,1362.7 L480.7,1362.7 L478.7,1362.6 L476.7,1362.6 L474.7,1362.6 L472.7,1362.5 L470.7,1362.5 L468.7,1362.5 L466.7,1362.5 L464.7,1362.4 L462.7,1362.4 L460.7,1362.4 L458.7,1362.4 L456.7,1362.4 L454.7,1362.3 L452.7,1362.3 L450.7,1362.3 L448.7,1362.3 L446.7,1362.3 L444.7,1362.2 L442.7,1362.2 L440.8,1362.2 L438.8,1362.2 L436.8,1362.2 L434.8,1362.1 L432.8,1362.1 L430.8,1362.1 L428.8,1362.1 L426.8,1362.1 L424.8,1362.1 L422.8,1362 L420.8,1362 L418.8,1362 L416.8,1362 L414.8,1362 L412.8,1362 L410.8,1361.9 L408.8,1361.9 L406.8,1361.9 L404.8,1361.9 L402.8,1361.9 L400.8,1361.9 L398.8,1361.9 L396.8,1361.8 L394.8,1361.8 L392.8,1361.8 L390.8,1361.8 L388.8,1361.8 L386.8,1361.8 L384.8,1361.8 L382.8,1361.8 L380.8,1361.7 L378.8,1361.7 L376.8,1361.7 L374.8,1361.7 L372.8,1361.7 L370.8,1361.7 L368.8,1361.7 L366.9,1361.7 L364.9,1361.6 L362.9,1361.6Z" fill="#8e8e8e" fill-opacity="0.75"/>
<path d="M366.9,1359.5 L368.8,1359.2 L370.8,1358.8 L372.8,1358.3 L374.8,1357.8 L376.8,1357.2 L378.8,1356.5 L380.8,1355.8 L382.8,1355 L384.8,1354 L386.8,1353 L388.8,1351.9 L390.8,1350.6 L392.8,1349.2 L394.8,1347.8 L396.8,1346.1 L398.8,1344.4 L400.8,1342.5 L402.8,1340.5 L404.8,1338.4 L406.8,1336.2 L408.8,1333.8 L410.8,1331.3 L412.8,1328.7 L414.8,1326 L416.8,1323.2 L418.8,1320.4 L420.8,1317.5 L422.8,1314.5 L424.8,1311.6 L426.8,1308.6 L428.8,1305.6 L430.8,1302.7 L432.8,1299.9 L434.8,1297.1 L436.8,1294.5 L438.8,1291.9 L440.8,1289.6 L442.7,1287.4 L444.7,1285.4 L446.7,1283.7 L448.7,1282.1 L450.7,1280.9 L452.7,1279.8 L454.7,1279.1 L456.7,1278.7 L458.7,1278.5 L460.7,1278.6 L462.7,1279 L464.7,1279.7 L466.7,1280.7 L468.7,1282 L470.7,1283.5 L472.7,1285.2 L474.7,1287.2 L476.7,1289.4 L478.7,1291.7 L480.7,1294.3 L482.7,1296.9 L484.7,1299.7 L486.7,1302.6 L488.7,1305.6 L490.7,1308.6 L492.7,1311.6 L494.7,1314.7 L496.7,1317.7 L498.7,1320.7 L500.7,1323.6 L502.7,1326.5 L504.7,1329.3 L506.7,1332 L508.7,1334.6 L510.7,1337.1 L512.7,1339.5 L514.7,1341.8 L516.6,1343.9 L518.6,1346 L520.6,1347.9 L522.6,1349.6 L524.6,1351.3 L526.6,1352.9 L528.6,1354.3 L530.6,1355.7 L532.6,1356.9 L534.6,1358.1 L536.6,1359.2 L538.6,1360.2 L540.6,1361.2 L542.6,1362.1 L544.6,1362.9 L546.6,1363.8 L548.6,1364.6 L550.6,1365.4" fill="none" stroke="#585858" stroke-width="1.2" stroke-opacity="0.8"/>
<path d="M384.8,1360.2 L386.8,1359.9 L388.8,1359.6 L390.8,1359.3 L392.8,1358.9 L394.8,1358.4 L396.8,1357.9 L398.8,1357.3 L400.8,1356.6 L402.8,1355.8 L404.8,1354.9 L406.8,1354 L408.8,1352.9 L410.8,1351.7 L412.8,1350.3 L414.8,1348.9 L416.8,1347.2 L418.8,1345.5 L420.8,1343.5 L422.8,1341.4 L424.8,1339.1 L426.8,1336.6 L428.8,1333.9 L430.8,1331 L432.8,1328 L434.8,1324.7 L436.8,1321.2 L438.8,1317.5 L440.8,1313.6 L442.7,1309.6 L444.7,1305.3 L446.7,1300.9 L448.7,1296.3 L450.7,1291.6 L452.7,1286.8 L454.7,1281.9 L456.7,1276.8 L458.7,1271.8 L460.7,1266.7 L462.7,1261.6 L464.7,1256.5 L466.7,1251.5 L468.7,1246.5 L470.7,1241.7 L472.7,1237.1 L474.7,1232.7 L476.7,1228.4 L478.7,1224.5 L480.7,1220.8 L482.7,1217.5 L484.7,1214.5 L486.7,1211.8 L488.7,1209.6 L490.7,1207.8 L492.7,1206.4 L494.7,1205.4 L496.7,1204.9 L498.7,1204.8 L500.7,1205.2 L502.7,1206 L504.7,1207.3 L506.7,1208.9 L508.7,1211 L510.7,1213.5 L512.7,1216.3 L514.7,1219.4 L516.6,1222.9 L518.6,1226.7 L520.6,1230.8 L522.6,1235.1 L524.6,1239.7 L526.6,1244.4 L528.6,1249.3 L530.6,1254.3 L532.6,1259.4 L534.6,1264.6 L536.6,1269.9 L538.6,1275.1 L540.6,1280.3 L542.6,1285.6 L544.6,1290.7 L546.6,1295.8 L548.6,1300.8 L550.6,1305.7 L552.6,1310.5 L554.6,1315.2 L556.6,1319.7 L558.6,1324 L560.6,1328.2 L562.6,1332.1 L564.6,1335.9 L566.6,1339.4 L568.6,1342.7 L570.6,1345.8 L572.6,1348.6 L574.6,1351.3 L576.6,1353.9 L578.6,1356.2 L580.6,1358.4 L582.6,1360.4 L584.6,1362.2 L586.6,1363.9 L588.6,1365.5 L590.5,1366.9 L592.5,1368.2 L594.5,1369.4 L596.5,1370.4 L598.5,1371.3 L600.5,1372.1 L602.5,1372.9 L604.5,1373.5 L606.5,1374.1 L608.5,1374.6 L610.5,1375.1 L612.5,1375.5 L614.5,1375.8 L614.5,1377.3 L612.5,1377.3 L610.5,1377.2 L608.5,1377.1 L606.5,1376.9 L604.5,1376.8 L602.5,1376.7 L600.5,1376.5 L598.5,1376.4 L596.5,1376.2 L594.5,1376 L592.5,1375.7 L590.5,1375.5 L588.6,1375.2 L586.6,1374.9 L584.6,1374.6 L582.6,1374.2 L580.6,1373.9 L578.6,1373.5 L576.6,1373.2 L574.6,1372.8 L572.6,1372.5 L570.6,1372.1 L568.6,1371.7 L566.6,1371.3 L564.6,1370.9 L562.6,1370.4 L560.6,1369.9 L558.6,1369.4 L556.6,1369 L554.6,1368.5 L552.6,1368 L550.6,1367.6 L548.6,1367.2 L546.6,1366.8 L544.6,1366.4 L542.6,1366.1 L540.6,1365.9 L538.6,1365.6 L536.6,1365.4 L534.6,1365.1 L532.6,1364.9 L530.6,1364.7 L528.6,1364.6 L526.6,1364.4 L524.6,1364.3 L522.6,1364.2 L520.6,1364 L518.6,1363.9 L516.6,1363.8 L514.7,1363.7 L512.7,1363.6 L510.7,1363.5 L508.7,1363.5 L506.7,1363.4 L504.7,1363.3 L502.7,1363.2 L500.7,1363.2 L498.7,1363.1 L496.7,1363 L494.7,1363 L492.7,1362.9 L490.7,1362.9 L488.7,1362.8 L486.7,1362.8 L484.7,1362.7 L482.7,1362.7 L480.7,1362.7 L478.7,1362.6 L476.7,1362.6 L474.7,1362.6 L472.7,1362.5 L470.7,1362.5 L468.7,1362.5 L466.7,1362.5 L464.7,1362.4 L462.7,1362.4 L460.7,1362.4 L458.7,1362.4 L456.7,1362.4 L454.7,1362.3 L452.7,1362.3 L450.7,1362.3 L448.7,1362.3 L446.7,1362.3 L444.7,1362.2 L442.7,1362.2 L440.8,1362.2 L438.8,1362.2 L436.8,1362.2 L434.8,1362.1 L432.8,1362.1 L430.8,1362.1 L428.8,1362.1 L426.8,1362.1 L424.8,1362.1 L422.8,1362 L420.8,1362 L418.8,1362 L416.8,1362 L414.8,1362 L412.8,1362 L410.8,1361.9 L408.8,1361.9 L406.8,1361.9 L404.8,1361.9 L402.8,1361.9 L400.8,1361.9 L398.8,1361.9 L396.8,1361.8 L394.8,1361.8 L392.8,1361.8 L390.8,1361.8 L388.8,1361.8 L386.8,1361.8 L384.8,1361.8Z" fill="#9b9b9b" fill-opacity="0.75"/>
<path d="M466.7,1360.7 L468.7,1360.5 L470.7,1360.2 L472.7,1359.8 L474.7,1359.4 L476.7,1359 L478.7,1358.5 L480.7,1358 L482.7,1357.4 L484.7,1356.8 L486.7,1356.1 L488.7,1355.4 L490.7,1354.6 L492.7,1353.7 L494.7,1352.8 L496.7,1351.8 L498.7,1350.8 L500.7,1349.8 L502.7,1348.7 L504.7,1347.5 L506.7,1346.4 L508.7,1345.2 L510.7,1344 L512.7,1342.8 L514.7,1341.6 L516.6,1340.5 L518.6,1339.3 L520.6,1338.3 L522.6,1337.2 L524.6,1336.3 L526.6,1335.4 L528.6,1334.7 L530.6,1334 L532.6,1333.5 L534.6,1333.1 L536.6,1332.8 L538.6,1332.7 L540.6,1332.8 L542.6,1332.9 L544.6,1333.3 L546.6,1333.8 L548.6,1334.4 L550.6,1335.1 L552.6,1336 L554.6,1337 L556.6,1338.1 L558.6,1339.3 L560.6,1340.5 L562.6,1341.9 L564.6,1343.2 L566.6,1344.6 L568.6,1346.1 L570.6,1347.5 L572.6,1348.9 L574.6,1350.4 L576.6,1351.9 L578.6,1353.4 L580.6,1354.8 L582.6,1356.3 L584.6,1357.7 L586.6,1359.1 L588.6,1360.5 L590.5,1361.8 L592.5,1363.1 L594.5,1364.3 L596.5,1365.4 L598.5,1366.5 L600.5,1367.5 L602.5,1368.4 L604.5,1369.3 L606.5,1370.1 L608.5,1370.9 L610.5,1371.6 L612.5,1372.3 L614.5,1372.9 L616.5,1373.5 L618.5,1374 L620.5,1374.4 L622.5,1374.9 L624.5,1375.3 L626.5,1375.6 L628.5,1375.9 L630.5,1376.2 L630.5,1377.9 L628.5,1377.8 L626.5,1377.7 L624.5,1377.7 L622.5,1377.6 L620.5,1377.6 L618.5,1377.5 L616.5,1377.4 L614.5,1377.3 L612.5,1377.3 L610.5,1377.2 L608.5,1377.1 L606.5,1376.9 L604.5,1376.8 L602.5,1376.7 L600.5,1376.5 L598.5,1376.4 L596.5,1376.2 L594.5,1376 L592.5,1375.7 L590.5,1375.5 L588.6,1375.2 L586.6,1374.9 L584.6,1374.6 L582.6,1374.2 L580.6,1373.9 L578.6,1373.5 L576.6,1373.2 L574.6,1372.8 L572.6,1372.5 L570.6,1372.1 L568.6,1371.7 L566.6,1371.3 L564.6,1370.9 L562.6,1370.4 L560.6,1369.9 L558.6,1369.4 L556.6,1369 L554.6,1368.5 L552.6,1368 L550.6,1367.6 L548.6,1367.2 L546.6,1366.8 L544.6,1366.4 L542.6,1366.1 L540.6,1365.9 L538.6,1365.6 L536.6,1365.4 L534.6,1365.1 L532.6,1364.9 L530.6,1364.7 L528.6,1364.6 L526.6,1364.4 L524.6,1364.3 L522.6,1364.2 L520.6,1364 L518.6,1363.9 L516.6,1363.8 L514.7,1363.7 L512.7,1363.6 L510.7,1363.5 L508.7,1363.5 L506.7,1363.4 L504.7,1363.3 L502.7,1363.2 L500.7,1363.2 L498.7,1363.1 L496.7,1363 L494.7,1363 L492.7,1362.9 L490.7,1362.9 L488.7,1362.8 L486.7,1362.8 L484.7,1362.7 L482.7,1362.7 L480.7,1362.7 L478.7,1362.6 L476.7,1362.6 L474.7,1362.6 L472.7,1362.5 L470.7,1362.5 L468.7,1362.5 L466.7,1362.5Z" fill="#5558a8" fill-opacity="0.55"/>
<path d="M468.7,1360.5 L470.7,1360.2 L472.7,1359.8 L474.7,1359.4 L476.7,1359 L478.7,1358.5 L480.7,1358 L482.7,1357.4 L484.7,1356.8 L486.7,1356.1 L488.7,1355.4 L490.7,1354.6 L492.7,1353.7 L494.7,1352.8 L496.7,1351.8 L498.7,1350.8 L500.7,1349.8 L502.7,1348.7 L504.7,1347.5 L506.7,1346.4 L508.7,1345.2 L510.7,1344 L512.7,1342.8 L514.7,1341.6 L516.6,1340.5 L518.6,1339.3 L520.6,1338.3 L522.6,1337.2 L524.6,1336.3 L526.6,1335.4 L528.6,1334.7 L530.6,1334 L532.6,1333.5 L534.6,1333.1 L536.6,1332.8 L538.6,1332.7 L540.6,1332.8 L542.6,1332.9 L544.6,1333.3 L546.6,1333.8 L548.6,1334.4 L550.6,1335.1 L552.6,1336 L554.6,1337 L556.6,1338.1 L558.6,1339.3 L560.6,1340.5 L562.6,1341.9 L564.6,1343.2 L566.6,1344.6 L568.6,1346.1 L570.6,1347.5 L572.6,1348.9 L574.6,1350.4 L576.6,1351.9 L578.6,1353.4 L580.6,1354.8 L582.6,1356.3 L584.6,1357.7 L586.6,1359.1 L588.6,1360.5 L590.5,1361.8 L592.5,1363.1 L594.5,1364.3 L596.5,1365.4 L598.5,1366.5 L600.5,1367.5 L602.5,1368.4 L604.5,1369.3 L606.5,1370.1 L608.5,1370.9 L610.5,1371.6 L612.5,1372.3 L614.5,1372.9 L616.5,1373.5 L618.5,1374 L620.5,1374.4 L622.5,1374.9 L624.5,1375.3 L626.5,1375.6" fill="none" stroke="#2a2a80" stroke-width="1.2" stroke-opacity="0.7"/>
<path d="M494.7,1361.5 L496.7,1361.2 L498.7,1360.9 L500.7,1360.6 L502.7,1360.2 L504.7,1359.8 L506.7,1359.2 L508.7,1358.6 L510.7,1357.9 L512.7,1357.2 L514.7,1356.3 L516.6,1355.3 L518.6,1354.2 L520.6,1353 L522.6,1351.6 L524.6,1350.1 L526.6,1348.5 L528.6,1346.8 L530.6,1345 L532.6,1343 L534.6,1340.9 L536.6,1338.7 L538.6,1336.3 L540.6,1333.9 L542.6,1331.4 L544.6,1328.8 L546.6,1326.2 L548.6,1323.6 L550.6,1321 L552.6,1318.3 L554.6,1315.8 L556.6,1313.2 L558.6,1310.8 L560.6,1308.4 L562.6,1306.2 L564.6,1304.1 L566.6,1302.1 L568.6,1300.3 L570.6,1298.8 L572.6,1297.4 L574.6,1296.3 L576.6,1295.5 L578.6,1295 L580.6,1294.8 L582.6,1294.9 L584.6,1295.3 L586.6,1295.9 L588.6,1296.7 L590.5,1297.6 L592.5,1298.7 L594.5,1300 L596.5,1301.5 L598.5,1303.1 L600.5,1304.8 L602.5,1306.7 L604.5,1308.7 L606.5,1310.8 L608.5,1313 L610.5,1315.3 L612.5,1317.6 L614.5,1320.1 L616.5,1322.5 L618.5,1325 L620.5,1327.5 L622.5,1330.1 L624.5,1332.6 L626.5,1335.1 L628.5,1337.5 L630.5,1340 L632.5,1342.4 L634.5,1344.7 L636.5,1346.9 L638.5,1349.1 L640.5,1351.3 L642.5,1353.3 L644.5,1355.3 L646.5,1357.1 L648.5,1358.9 L650.5,1360.6 L652.5,1362.3 L654.5,1363.8 L656.5,1365.2 L658.5,1366.6 L660.5,1367.9 L662.4,1369.1 L664.4,1370.3 L666.4,1371.3 L668.4,1372.3 L670.4,1373.2 L672.4,1374.1 L674.4,1374.9 L676.4,1375.6 L678.4,1376.3 L680.4,1377 L682.4,1377.6 L684.4,1378.2 L686.4,1378.7 L688.4,1379.3 L690.4,1379.8 L692.4,1380.3 L692.4,1381.9 L690.4,1381.6 L688.4,1381.3 L686.4,1381.1 L684.4,1380.9 L682.4,1380.7 L680.4,1380.5 L678.4,1380.3 L676.4,1380.2 L674.4,1380 L672.4,1379.9 L670.4,1379.7 L668.4,1379.6 L666.4,1379.4 L664.4,1379.3 L662.4,1379.2 L660.5,1379 L658.5,1378.9 L656.5,1378.8 L654.5,1378.7 L652.5,1378.6 L650.5,1378.5 L648.5,1378.4 L646.5,1378.3 L644.5,1378.3 L642.5,1378.2 L640.5,1378.1 L638.5,1378.1 L636.5,1378 L634.5,1378 L632.5,1377.9 L630.5,1377.9 L628.5,1377.8 L626.5,1377.7 L624.5,1377.7 L622.5,1377.6 L620.5,1377.6 L618.5,1377.5 L616.5,1377.4 L614.5,1377.3 L612.5,1377.3 L610.5,1377.2 L608.5,1377.1 L606.5,1376.9 L604.5,1376.8 L602.5,1376.7 L600.5,1376.5 L598.5,1376.4 L596.5,1376.2 L594.5,1376 L592.5,1375.7 L590.5,1375.5 L588.6,1375.2 L586.6,1374.9 L584.6,1374.6 L582.6,1374.2 L580.6,1373.9 L578.6,1373.5 L576.6,1373.2 L574.6,1372.8 L572.6,1372.5 L570.6,1372.1 L568.6,1371.7 L566.6,1371.3 L564.6,1370.9 L562.6,1370.4 L560.6,1369.9 L558.6,1369.4 L556.6,1369 L554.6,1368.5 L552.6,1368 L550.6,1367.6 L548.6,1367.2 L546.6,1366.8 L544.6,1366.4 L542.6,1366.1 L540.6,1365.9 L538.6,1365.6 L536.6,1365.4 L534.6,1365.1 L532.6,1364.9 L530.6,1364.7 L528.6,1364.6 L526.6,1364.4 L524.6,1364.3 L522.6,1364.2 L520.6,1364 L518.6,1363.9 L516.6,1363.8 L514.7,1363.7 L512.7,1363.6 L510.7,1363.5 L508.7,1363.5 L506.7,1363.4 L504.7,1363.3 L502.7,1363.2 L500.7,1363.2 L498.7,1363.1 L496.7,1363 L494.7,1363Z" fill="#7878ff" fill-opacity="0.7"/>
<path d="M498.7,1360.9 L500.7,1360.6 L502.7,1360.2 L504.7,1359.8 L506.7,1359.2 L508.7,1358.6 L510.7,1357.9 L512.7,1357.2 L514.7,1356.3 L516.6,1355.3 L518.6,1354.2 L520.6,1353 L522.6,1351.6 L524.6,1350.1 L526.6,1348.5 L528.6,1346.8 L530.6,1345 L532.6,1343 L534.6,1340.9 L536.6,1338.7 L538.6,1336.3 L540.6,1333.9 L542.6,1331.4 L544.6,1328.8 L546.6,1326.2 L548.6,1323.6 L550.6,1321 L552.6,1318.3 L554.6,1315.8 L556.6,1313.2 L558.6,1310.8 L560.6,1308.4 L562.6,1306.2 L564.6,1304.1 L566.6,1302.1 L568.6,1300.3 L570.6,1298.8 L572.6,1297.4 L574.6,1296.3 L576.6,1295.5 L578.6,1295 L580.6,1294.8 L582.6,1294.9 L584.6,1295.3 L586.6,1295.9 L588.6,1296.7 L590.5,1297.6 L592.5,1298.7 L594.5,1300 L596.5,1301.5 L598.5,1303.1 L600.5,1304.8 L602.5,1306.7 L604.5,1308.7 L606.5,1310.8 L608.5,1313 L610.5,1315.3 L612.5,1317.6 L614.5,1320.1 L616.5,1322.5 L618.5,1325 L620.5,1327.5 L622.5,1330.1 L624.5,1332.6 L626.5,1335.1 L628.5,1337.5 L630.5,1340 L632.5,1342.4 L634.5,1344.7 L636.5,1346.9 L638.5,1349.1 L640.5,1351.3 L642.5,1353.3 L644.5,1355.3 L646.5,1357.1 L648.5,1358.9 L650.5,1360.6 L652.5,1362.3 L654.5,1363.8 L656.5,1365.2 L658.5,1366.6 L660.5,1367.9 L662.4,1369.1 L664.4,1370.3 L666.4,1371.3 L668.4,1372.3 L670.4,1373.2 L672.4,1374.1 L674.4,1374.9 L676.4,1375.6 L678.4,1376.3 L680.4,1377 L682.4,1377.6 L684.4,1378.2 L686.4,1378.7 L688.4,1379.3" fill="none" stroke="#4848ff" stroke-width="1.2" stroke-opacity="0.5"/>
<path d="M590,1372.4 L592,1372.6 L594,1372.8 L596,1372.9 L598,1373 L600,1373.1 L601.9,1373.2 L603.9,1373.2 L605.9,1373.2 L607.9,1373.3 L609.9,1373.3 L611.9,1373.2 L613.9,1373.2 L615.9,1373.2 L617.9,1373.1 L619.9,1373.1 L621.8,1373 L623.8,1372.9 L625.8,1372.8 L627.8,1372.7 L629.8,1372.5 L631.8,1372.4 L633.8,1372.2 L635.8,1372 L637.8,1371.8 L639.8,1371.6 L641.7,1371.3 L643.7,1371 L645.7,1370.6 L647.7,1370.2 L649.7,1369.7 L651.7,1369.2 L653.7,1368.5 L655.7,1367.8 L657.7,1366.9 L659.7,1365.8 L661.6,1364.6 L663.6,1363.2 L665.6,1361.6 L667.6,1359.7 L669.6,1357.4 L671.6,1354.9 L673.6,1351.9 L675.6,1348.5 L677.6,1344.7 L679.6,1340.3 L681.5,1335.3 L683.5,1329.7 L685.5,1323.5 L687.5,1316.5 L689.5,1308.8 L691.5,1300.3 L693.5,1291 L695.5,1280.8 L697.5,1269.9 L699.5,1258 L701.4,1245.3 L703.4,1231.8 L705.4,1217.5 L707.4,1202.5 L709.4,1186.8 L711.4,1170.5 L713.4,1153.8 L715.4,1136.7 L717.4,1119.3 L719.4,1101.9 L721.3,1084.6 L723.3,1067.6 L725.3,1051 L727.3,1035.1 L729.3,1020 L731.3,1006 L733.3,993.2 L735.3,982 L737.3,972.4 L739.3,964.6 L741.3,958.8 L743.2,955.1 L745.2,953.6 L747.2,954.3 L749.2,957 L751.2,961.8 L753.2,968.5 L755.2,977.2 L757.2,987.6 L759.2,999.6 L761.2,1013.1 L763.1,1027.9 L765.1,1043.8 L767.1,1060.6 L769.1,1078.2 L771.1,1096.2 L773.1,1114.6 L775.1,1133.2 L777.1,1151.7 L779.1,1170.1 L781.1,1188 L783,1205.5 L785,1222.5 L787,1238.7 L789,1254.1 L791,1268.7 L793,1282.5 L795,1295.3 L797,1307.2 L799,1318.1 L801,1328.2 L802.9,1337.4 L804.9,1345.7 L806.9,1353.2 L808.9,1359.9 L810.9,1365.9 L812.9,1371.2 L814.9,1375.9 L816.9,1380 L818.9,1383.6 L820.9,1386.8 L822.8,1389.5 L824.8,1391.8 L826.8,1393.8 L828.8,1395.5 L830.8,1397 L832.8,1398.2 L834.8,1399.3 L836.8,1400.2 L838.8,1400.9 L840.8,1401.5 L842.7,1402 L842.7,1403.6 L840.8,1403.5 L838.8,1403.4 L836.8,1403.3 L834.8,1403.2 L832.8,1403 L830.8,1402.9 L828.8,1402.7 L826.8,1402.6 L824.8,1402.4 L822.8,1402.2 L820.9,1402 L818.9,1401.8 L816.9,1401.6 L814.9,1401.5 L812.9,1401.3 L810.9,1401.1 L808.9,1400.9 L806.9,1400.7 L804.9,1400.5 L802.9,1400.3 L801,1400.1 L799,1399.9 L797,1399.7 L795,1399.6 L793,1399.4 L791,1399.2 L789,1399.1 L787,1398.9 L785,1398.8 L783,1398.6 L781.1,1398.5 L779.1,1398.3 L777.1,1398.1 L775.1,1397.9 L773.1,1397.7 L771.1,1397.5 L769.1,1397.3 L767.1,1397.1 L765.1,1396.8 L763.1,1396.5 L761.2,1396.2 L759.2,1395.9 L757.2,1395.5 L755.2,1395.1 L753.2,1394.7 L751.2,1394.3 L749.2,1393.9 L747.2,1393.5 L745.2,1393.1 L743.2,1392.6 L741.3,1392.2 L739.3,1391.7 L737.3,1391.2 L735.3,1390.8 L733.3,1390.3 L731.3,1389.8 L729.3,1389.3 L727.3,1388.9 L725.3,1388.4 L723.3,1387.9 L721.3,1387.4 L719.4,1387 L717.4,1386.5 L715.4,1386.1 L713.4,1385.6 L711.4,1385.2 L709.4,1384.8 L707.4,1384.4 L705.4,1384 L703.4,1383.6 L701.4,1383.3 L699.5,1382.9 L697.5,1382.6 L695.5,1382.3 L693.5,1382 L691.5,1381.7 L689.5,1381.5 L687.5,1381.2 L685.5,1381 L683.5,1380.8 L681.5,1380.6 L679.6,1380.4 L677.6,1380.3 L675.6,1380.1 L673.6,1379.9 L671.6,1379.8 L669.6,1379.6 L667.6,1379.5 L665.6,1379.4 L663.6,1379.2 L661.6,1379.1 L659.7,1379 L657.7,1378.9 L655.7,1378.7 L653.7,1378.6 L651.7,1378.5 L649.7,1378.5 L647.7,1378.4 L645.7,1378.3 L643.7,1378.2 L641.7,1378.2 L639.8,1378.1 L637.8,1378.1 L635.8,1378 L633.8,1377.9 L631.8,1377.9 L629.8,1377.8 L627.8,1377.8 L625.8,1377.7 L623.8,1377.7 L621.8,1377.6 L619.9,1377.5 L617.9,1377.5 L615.9,1377.4 L613.9,1377.3 L611.9,1377.2 L609.9,1377.1 L607.9,1377 L605.9,1376.9 L603.9,1376.8 L601.9,1376.6 L600,1376.5 L598,1376.3 L596,1376.1 L594,1375.9 L592,1375.7 L590,1375.4Z" fill="#96cb75" fill-opacity="0.75"/>
<path d="M724.4,1386.5 L726.4,1386.6 L728.4,1386.7 L730.4,1386.7 L732.4,1386.7 L734.4,1386.5 L736.3,1386.3 L738.3,1386 L740.3,1385.5 L742.3,1384.9 L744.3,1384.2 L746.3,1383.3 L748.3,1382.2 L750.3,1380.9 L752.3,1379.5 L754.3,1377.8 L756.3,1375.9 L758.3,1373.8 L760.3,1371.4 L762.3,1368.8 L764.3,1365.9 L766.3,1362.8 L768.3,1359.4 L770.3,1355.7 L772.3,1351.9 L774.3,1347.8 L776.3,1343.4 L778.3,1338.9 L780.3,1334.3 L782.3,1329.5 L784.3,1324.6 L786.3,1319.6 L788.3,1314.6 L790.3,1309.6 L792.3,1304.6 L794.3,1299.7 L796.3,1295 L798.3,1290.5 L800.3,1286.2 L802.3,1282.2 L804.3,1278.5 L806.3,1275.1 L808.3,1272.2 L810.2,1269.6 L812.2,1267.6 L814.2,1266 L816.2,1264.9 L818.2,1264.3 L820.2,1264.2 L822.2,1264.7 L824.2,1265.6 L826.2,1267.1 L828.2,1269.1 L830.2,1271.6 L832.2,1274.5 L834.2,1277.8 L836.2,1281.5 L838.2,1285.5 L840.2,1289.8 L842.2,1294.4 L844.2,1299.2 L846.2,1304.2 L848.2,1309.4 L850.2,1314.6 L852.2,1319.8 L854.2,1325.1 L856.2,1330.3 L858.2,1335.4 L860.2,1340.5 L862.2,1345.4 L864.2,1350.1 L866.2,1354.7 L868.2,1359 L870.2,1363.2 L872.2,1367.1 L874.2,1370.8 L876.2,1374.3 L878.2,1377.5 L880.2,1380.5 L882.2,1383.3 L884.1,1385.8 L886.1,1388.1 L888.1,1390.2 L890.1,1392.1 L892.1,1393.8 L894.1,1395.4 L896.1,1396.8 L898.1,1398 L900.1,1399.1 L902.1,1400.1 L904.1,1400.9 L906.1,1401.7 L908.1,1402.3 L910.1,1402.9 L912.1,1403.4 L914.1,1403.8 L916.1,1404.2 L916.1,1405.8 L914.1,1405.8 L912.1,1405.8 L910.1,1405.7 L908.1,1405.7 L906.1,1405.6 L904.1,1405.6 L902.1,1405.5 L900.1,1405.5 L898.1,1405.5 L896.1,1405.4 L894.1,1405.4 L892.1,1405.3 L890.1,1405.3 L888.1,1405.2 L886.1,1405.2 L884.1,1405.1 L882.2,1405.1 L880.2,1405 L878.2,1405 L876.2,1404.9 L874.2,1404.9 L872.2,1404.8 L870.2,1404.7 L868.2,1404.7 L866.2,1404.6 L864.2,1404.6 L862.2,1404.5 L860.2,1404.4 L858.2,1404.3 L856.2,1404.3 L854.2,1404.2 L852.2,1404.1 L850.2,1404 L848.2,1403.9 L846.2,1403.8 L844.2,1403.7 L842.2,1403.6 L840.2,1403.5 L838.2,1403.4 L836.2,1403.3 L834.2,1403.1 L832.2,1403 L830.2,1402.8 L828.2,1402.7 L826.2,1402.5 L824.2,1402.3 L822.2,1402.2 L820.2,1402 L818.2,1401.8 L816.2,1401.6 L814.2,1401.4 L812.2,1401.2 L810.2,1401 L808.3,1400.8 L806.3,1400.6 L804.3,1400.4 L802.3,1400.2 L800.3,1400 L798.3,1399.8 L796.3,1399.7 L794.3,1399.5 L792.3,1399.3 L790.3,1399.2 L788.3,1399 L786.3,1398.9 L784.3,1398.7 L782.3,1398.6 L780.3,1398.4 L778.3,1398.2 L776.3,1398.1 L774.3,1397.9 L772.3,1397.7 L770.3,1397.4 L768.3,1397.2 L766.3,1396.9 L764.3,1396.7 L762.3,1396.4 L760.3,1396.1 L758.3,1395.7 L756.3,1395.3 L754.3,1395 L752.3,1394.6 L750.3,1394.2 L748.3,1393.7 L746.3,1393.3 L744.3,1392.9 L742.3,1392.4 L740.3,1392 L738.3,1391.5 L736.3,1391 L734.4,1390.5 L732.4,1390.1 L730.4,1389.6 L728.4,1389.1 L726.4,1388.6 L724.4,1388.2Z" fill="#ff8080" fill-opacity="0.75"/>
<path d="M726.4,1386.6 L728.4,1386.7 L730.4,1386.7 L732.4,1386.7 L734.4,1386.5 L736.3,1386.3 L738.3,1386 L740.3,1385.5 L742.3,1384.9 L744.3,1384.2 L746.3,1383.3 L748.3,1382.2 L750.3,1380.9 L752.3,1379.5 L754.3,1377.8 L756.3,1375.9 L758.3,1373.8 L760.3,1371.4 L762.3,1368.8 L764.3,1365.9 L766.3,1362.8 L768.3,1359.4 L770.3,1355.7 L772.3,1351.9 L774.3,1347.8 L776.3,1343.4 L778.3,1338.9 L780.3,1334.3 L782.3,1329.5 L784.3,1324.6 L786.3,1319.6 L788.3,1314.6 L790.3,1309.6 L792.3,1304.6 L794.3,1299.7 L796.3,1295 L798.3,1290.5 L800.3,1286.2 L802.3,1282.2 L804.3,1278.5 L806.3,1275.1 L808.3,1272.2 L810.2,1269.6 L812.2,1267.6 L814.2,1266 L816.2,1264.9 L818.2,1264.3 L820.2,1264.2 L822.2,1264.7 L824.2,1265.6 L826.2,1267.1 L828.2,1269.1 L830.2,1271.6 L832.2,1274.5 L834.2,1277.8 L836.2,1281.5 L838.2,1285.5 L840.2,1289.8 L842.2,1294.4 L844.2,1299.2 L846.2,1304.2 L848.2,1309.4 L850.2,1314.6 L852.2,1319.8 L854.2,1325.1 L856.2,1330.3 L858.2,1335.4 L860.2,1340.5 L862.2,1345.4 L864.2,1350.1 L866.2,1354.7 L868.2,1359 L870.2,1363.2 L872.2,1367.1 L874.2,1370.8 L876.2,1374.3 L878.2,1377.5 L880.2,1380.5 L882.2,1383.3 L884.1,1385.8 L886.1,1388.1 L888.1,1390.2 L890.1,1392.1 L892.1,1393.8 L894.1,1395.4 L896.1,1396.8 L898.1,1398 L900.1,1399.1 L902.1,1400.1 L904.1,1400.9 L906.1,1401.7 L908.1,1402.3 L910.1,1402.9 L912.1,1403.4" fill="none" stroke="#ff5050" stroke-width="1.2" stroke-opacity="0.6"/>
<path d="M713,1385 L714,1385.2 L715,1385.3 L716,1385.5 L717,1385.6 L718,1385.7 L719,1385.9 L720,1386 L721,1386.1 L722,1386.2 L723,1386.4 L724,1386.4 L725,1386.5 L726,1386.6 L727,1386.7 L728,1386.7 L729,1386.7 L730,1386.7 L731,1386.7 L732,1386.7 L733,1386.6 L734,1386.6 L735,1386.5 L736,1386.4 L737,1386.2 L738,1386 L739,1385.8 L740,1385.6 L741,1385.3 L742,1385 L743,1384.7 L744,1384.3 L745,1383.9 L746,1383.4 L747,1382.9 L748,1382.4 L749,1381.8 L750,1381.2 L751,1380.5 L752,1379.7 L753,1378.9 L754,1378.1 L755,1377.2 L756,1376.2 L757,1375.2 L758,1374.1 L759,1373 L760,1371.8 L761,1370.6 L762,1369.2 L763,1367.8 L764,1366.4 L765,1364.9 L766,1363.3 L767,1361.6 L768,1359.9 L769,1358.1 L770,1356.3 L771,1354.4 L772,1352.5 L773,1350.5 L774,1348.4 L775,1346.3 L776,1344.1 L777,1341.9 L778,1339.6 L779,1337.3 L780,1335 L781,1332.6 L782,1330.2 L783,1327.7 L784,1325.3 L785,1322.8 L786,1320.3 L787,1317.8 L788,1315.3 L789,1312.8 L790,1310.2 L791,1307.8 L792,1305.3 L793,1302.8 L794,1300.4 L795,1298 L796,1301.5 L797,1307.3 L798,1312.9 L799,1318.3 L800,1323.5 L801,1328.4 L802,1333.1 L803,1337.6 L804,1341.9 L805,1346 L806,1349.8 L807,1353.5 L808,1356.9 L809,1360.2 L810,1363.3 L811,1366.2 L812,1368.9 L813,1371.5 L814,1373.9 L815,1376.2 L816,1378.3 L817,1380.3 L818,1382.1 L819,1383.8 L820,1385.5 L821,1387 L822,1388.4 L823,1389.7 L824,1390.9 L825,1392 L826,1393 L827,1394 L828,1394.9 L829,1395.7 L830,1396.4 L831,1397.1 L832,1397.8 L833,1398.3 L834,1398.9 L835,1399.4 L836,1399.8 L837,1400.3 L838,1400.6 L839,1401 L840,1401.3 L841,1401.6 L842,1401.9 L843,1402.1 L844,1402.3 L845,1402.5 L846,1402.7 L847,1402.9 L848,1403 L849,1403.2 L850,1403.3 L851,1403.5 L852,1403.6 L852,1404.1 L851,1404 L850,1404 L849,1404 L848,1403.9 L847,1403.9 L846,1403.8 L845,1403.8 L844,1403.7 L843,1403.7 L842,1403.6 L841,1403.6 L840,1403.5 L839,1403.4 L838,1403.4 L837,1403.3 L836,1403.3 L835,1403.2 L834,1403.1 L833,1403 L832,1403 L831,1402.9 L830,1402.8 L829,1402.7 L828,1402.7 L827,1402.6 L826,1402.5 L825,1402.4 L824,1402.3 L823,1402.2 L822,1402.1 L821,1402 L820,1401.9 L819,1401.8 L818,1401.8 L817,1401.7 L816,1401.6 L815,1401.5 L814,1401.4 L813,1401.3 L812,1401.2 L811,1401.1 L810,1401 L809,1400.9 L808,1400.8 L807,1400.7 L806,1400.6 L805,1400.5 L804,1400.4 L803,1400.3 L802,1400.2 L801,1400.1 L800,1400 L799,1399.9 L798,1399.8 L797,1399.7 L796,1399.6 L795,1399.6 L794,1399.5 L793,1399.4 L792,1399.3 L791,1399.2 L790,1399.2 L789,1399.1 L788,1399 L787,1398.9 L786,1398.9 L785,1398.8 L784,1398.7 L783,1398.6 L782,1398.5 L781,1398.5 L780,1398.4 L779,1398.3 L778,1398.2 L777,1398.1 L776,1398 L775,1397.9 L774,1397.8 L773,1397.7 L772,1397.6 L771,1397.5 L770,1397.4 L769,1397.3 L768,1397.2 L767,1397 L766,1396.9 L765,1396.8 L764,1396.6 L763,1396.5 L762,1396.3 L761,1396.2 L760,1396 L759,1395.8 L758,1395.7 L757,1395.5 L756,1395.3 L755,1395.1 L754,1394.9 L753,1394.7 L752,1394.5 L751,1394.3 L750,1394.1 L749,1393.9 L748,1393.7 L747,1393.5 L746,1393.2 L745,1393 L744,1392.8 L743,1392.6 L742,1392.3 L741,1392.1 L740,1391.9 L739,1391.6 L738,1391.4 L737,1391.2 L736,1390.9 L735,1390.7 L734,1390.5 L733,1390.2 L732,1390 L731,1389.7 L730,1389.5 L729,1389.3 L728,1389 L727,1388.8 L726,1388.5 L725,1388.3 L724,1388.1 L723,1387.8 L722,1387.6 L721,1387.4 L720,1387.1 L719,1386.9 L718,1386.7 L717,1386.4 L716,1386.2 L715,1386 L714,1385.8 L713,1385.5Z" fill="#c4aa69" fill-opacity="1.0"/>
<path d="M702.4,1381.7 L704.4,1381.7 L706.4,1381.6 L708.4,1381.5 L710.4,1381.4 L712.4,1381.2 L714.4,1380.9 L716.4,1380.5 L718.4,1380 L720.4,1379.3 L722.4,1378.6 L724.4,1377.8 L726.4,1376.8 L728.4,1375.6 L730.4,1374.3 L732.4,1372.9 L734.4,1371.3 L736.3,1369.6 L738.3,1367.8 L740.3,1365.8 L742.3,1363.6 L744.3,1361.4 L746.3,1359.1 L748.3,1356.7 L750.3,1354.2 L752.3,1351.7 L754.3,1349.2 L756.3,1346.7 L758.3,1344.3 L760.3,1342 L762.3,1339.7 L764.3,1337.6 L766.3,1335.7 L768.3,1334 L770.3,1332.5 L772.3,1331.2 L774.3,1330.3 L776.3,1329.6 L778.3,1329.2 L780.3,1329.2 L782.3,1329.4 L784.3,1330 L786.3,1330.9 L788.3,1332.1 L790.3,1333.5 L792.3,1335.2 L794.3,1337.2 L796.3,1339.4 L798.3,1341.8 L800.3,1344.4 L802.3,1347.1 L804.3,1350 L806.3,1352.9 L808.3,1355.9 L810.2,1358.9 L812.2,1361.9 L814.2,1364.9 L816.2,1367.8 L818.2,1370.7 L820.2,1373.5 L822.2,1376.2 L824.2,1378.8 L826.2,1381.2 L828.2,1383.5 L830.2,1385.6 L832.2,1387.7 L834.2,1389.5 L836.2,1391.2 L838.2,1392.8 L840.2,1394.2 L842.2,1395.5 L844.2,1396.7 L846.2,1397.8 L848.2,1398.7 L850.2,1399.5 L852.2,1400.3 L854.2,1400.9 L856.2,1401.5 L858.2,1402 L860.2,1402.5 L862.2,1402.9 L862.2,1404.5 L860.2,1404.4 L858.2,1404.3 L856.2,1404.3 L854.2,1404.2 L852.2,1404.1 L850.2,1404 L848.2,1403.9 L846.2,1403.8 L844.2,1403.7 L842.2,1403.6 L840.2,1403.5 L838.2,1403.4 L836.2,1403.3 L834.2,1403.1 L832.2,1403 L830.2,1402.8 L828.2,1402.7 L826.2,1402.5 L824.2,1402.3 L822.2,1402.2 L820.2,1402 L818.2,1401.8 L816.2,1401.6 L814.2,1401.4 L812.2,1401.2 L810.2,1401 L808.3,1400.8 L806.3,1400.6 L804.3,1400.4 L802.3,1400.2 L800.3,1400 L798.3,1399.8 L796.3,1399.7 L794.3,1399.5 L792.3,1399.3 L790.3,1399.2 L788.3,1399 L786.3,1398.9 L784.3,1398.7 L782.3,1398.6 L780.3,1398.4 L778.3,1398.2 L776.3,1398.1 L774.3,1397.9 L772.3,1397.7 L770.3,1397.4 L768.3,1397.2 L766.3,1396.9 L764.3,1396.7 L762.3,1396.4 L760.3,1396.1 L758.3,1395.7 L756.3,1395.3 L754.3,1395 L752.3,1394.6 L750.3,1394.2 L748.3,1393.7 L746.3,1393.3 L744.3,1392.9 L742.3,1392.4 L740.3,1392 L738.3,1391.5 L736.3,1391 L734.4,1390.5 L732.4,1390.1 L730.4,1389.6 L728.4,1389.1 L726.4,1388.6 L724.4,1388.2 L722.4,1387.7 L720.4,1387.2 L718.4,1386.8 L716.4,1386.3 L714.4,1385.8 L712.4,1385.4 L710.4,1385 L708.4,1384.6 L706.4,1384.2 L704.4,1383.8 L702.4,1383.4Z" fill="#d78d4c" fill-opacity="0.75"/>
<path d="M704.4,1381.7 L706.4,1381.6 L708.4,1381.5 L710.4,1381.4 L712.4,1381.2 L714.4,1380.9 L716.4,1380.5 L718.4,1380 L720.4,1379.3 L722.4,1378.6 L724.4,1377.8 L726.4,1376.8 L728.4,1375.6 L730.4,1374.3 L732.4,1372.9 L734.4,1371.3 L736.3,1369.6 L738.3,1367.8 L740.3,1365.8 L742.3,1363.6 L744.3,1361.4 L746.3,1359.1 L748.3,1356.7 L750.3,1354.2 L752.3,1351.7 L754.3,1349.2 L756.3,1346.7 L758.3,1344.3 L760.3,1342 L762.3,1339.7 L764.3,1337.6 L766.3,1335.7 L768.3,1334 L770.3,1332.5 L772.3,1331.2 L774.3,1330.3 L776.3,1329.6 L778.3,1329.2 L780.3,1329.2 L782.3,1329.4 L784.3,1330 L786.3,1330.9 L788.3,1332.1 L790.3,1333.5 L792.3,1335.2 L794.3,1337.2 L796.3,1339.4 L798.3,1341.8 L800.3,1344.4 L802.3,1347.1 L804.3,1350 L806.3,1352.9 L808.3,1355.9 L810.2,1358.9 L812.2,1361.9 L814.2,1364.9 L816.2,1367.8 L818.2,1370.7 L820.2,1373.5 L822.2,1376.2 L824.2,1378.8 L826.2,1381.2 L828.2,1383.5 L830.2,1385.6 L832.2,1387.7 L834.2,1389.5 L836.2,1391.2 L838.2,1392.8 L840.2,1394.2 L842.2,1395.5 L844.2,1396.7 L846.2,1397.8 L848.2,1398.7 L850.2,1399.5 L852.2,1400.3 L854.2,1400.9 L856.2,1401.5 L858.2,1402" fill="none" stroke="#c87030" stroke-width="1.2" stroke-opacity="0.8"/>
<path d="M616.5,1375.7 L618.5,1375.3 L620.5,1374.9 L622.5,1374.3 L624.5,1373.7 L626.5,1372.9 L628.5,1371.9 L630.5,1370.7 L632.5,1369.4 L634.5,1367.8 L636.5,1365.9 L638.5,1363.8 L640.5,1361.4 L642.5,1358.6 L644.5,1355.4 L646.5,1351.9 L648.5,1347.9 L650.5,1343.5 L652.5,1338.6 L654.5,1333.2 L656.5,1327.3 L658.5,1320.9 L660.5,1314.1 L662.4,1306.7 L664.4,1298.9 L666.4,1290.6 L668.4,1281.9 L670.4,1272.9 L672.4,1263.5 L674.4,1253.9 L676.4,1244.2 L678.4,1234.4 L680.4,1224.6 L682.4,1215 L684.4,1205.5 L686.4,1196.4 L688.4,1187.8 L690.4,1179.7 L692.4,1172.3 L694.4,1165.6 L696.4,1159.8 L698.4,1155 L700.4,1151.1 L702.4,1148.3 L704.4,1146.7 L706.4,1146.1 L708.4,1146.7 L710.4,1148.3 L712.4,1150.8 L714.4,1154.2 L716.4,1158.6 L718.4,1163.8 L720.4,1169.7 L722.4,1176.4 L724.4,1183.8 L726.4,1191.7 L728.4,1200.1 L730.4,1209 L732.4,1218.1 L734.4,1227.5 L736.3,1237.1 L738.3,1246.7 L740.3,1256.4 L742.3,1265.9 L744.3,1275.3 L746.3,1284.5 L748.3,1293.5 L750.3,1302.1 L752.3,1310.4 L754.3,1318.4 L756.3,1325.9 L758.3,1333 L760.3,1339.6 L762.3,1345.8 L764.3,1351.5 L766.3,1356.8 L768.3,1361.7 L770.3,1366.1 L772.3,1370.2 L774.3,1373.8 L776.3,1377.1 L778.3,1380.1 L780.3,1382.7 L782.3,1385.1 L784.3,1387.2 L786.3,1389 L788.3,1390.6 L790.3,1392.1 L792.3,1393.3 L794.3,1394.5 L796.3,1395.5 L798.3,1396.3 L800.3,1397.1 L802.3,1397.8 L804.3,1398.4 L806.3,1399 L806.3,1400.6 L804.3,1400.4 L802.3,1400.2 L800.3,1400 L798.3,1399.8 L796.3,1399.7 L794.3,1399.5 L792.3,1399.3 L790.3,1399.2 L788.3,1399 L786.3,1398.9 L784.3,1398.7 L782.3,1398.6 L780.3,1398.4 L778.3,1398.2 L776.3,1398.1 L774.3,1397.9 L772.3,1397.7 L770.3,1397.4 L768.3,1397.2 L766.3,1396.9 L764.3,1396.7 L762.3,1396.4 L760.3,1396.1 L758.3,1395.7 L756.3,1395.3 L754.3,1395 L752.3,1394.6 L750.3,1394.2 L748.3,1393.7 L746.3,1393.3 L744.3,1392.9 L742.3,1392.4 L740.3,1392 L738.3,1391.5 L736.3,1391 L734.4,1390.5 L732.4,1390.1 L730.4,1389.6 L728.4,1389.1 L726.4,1388.6 L724.4,1388.2 L722.4,1387.7 L720.4,1387.2 L718.4,1386.8 L716.4,1386.3 L714.4,1385.8 L712.4,1385.4 L710.4,1385 L708.4,1384.6 L706.4,1384.2 L704.4,1383.8 L702.4,1383.4 L700.4,1383.1 L698.4,1382.7 L696.4,1382.4 L694.4,1382.1 L692.4,1381.9 L690.4,1381.6 L688.4,1381.3 L686.4,1381.1 L684.4,1380.9 L682.4,1380.7 L680.4,1380.5 L678.4,1380.3 L676.4,1380.2 L674.4,1380 L672.4,1379.9 L670.4,1379.7 L668.4,1379.6 L666.4,1379.4 L664.4,1379.3 L662.4,1379.2 L660.5,1379 L658.5,1378.9 L656.5,1378.8 L654.5,1378.7 L652.5,1378.6 L650.5,1378.5 L648.5,1378.4 L646.5,1378.3 L644.5,1378.3 L642.5,1378.2 L640.5,1378.1 L638.5,1378.1 L636.5,1378 L634.5,1378 L632.5,1377.9 L630.5,1377.9 L628.5,1377.8 L626.5,1377.7 L624.5,1377.7 L622.5,1377.6 L620.5,1377.6 L618.5,1377.5 L616.5,1377.4Z" fill="#96cb75" fill-opacity="0.75"/>
<path d="M618.5,1375.3 L620.5,1374.9 L622.5,1374.3 L624.5,1373.7 L626.5,1372.9 L628.5,1371.9 L630.5,1370.7 L632.5,1369.4 L634.5,1367.8 L636.5,1365.9 L638.5,1363.8 L640.5,1361.4 L642.5,1358.6 L644.5,1355.4 L646.5,1351.9 L648.5,1347.9 L650.5,1343.5 L652.5,1338.6 L654.5,1333.2 L656.5,1327.3 L658.5,1320.9 L660.5,1314.1 L662.4,1306.7 L664.4,1298.9 L666.4,1290.6 L668.4,1281.9 L670.4,1272.9 L672.4,1263.5 L674.4,1253.9 L676.4,1244.2 L678.4,1234.4 L680.4,1224.6 L682.4,1215 L684.4,1205.5 L686.4,1196.4 L688.4,1187.8 L690.4,1179.7 L692.4,1172.3 L694.4,1165.6 L696.4,1159.8 L698.4,1155 L700.4,1151.1 L702.4,1148.3 L704.4,1146.7 L706.4,1146.1 L708.4,1146.7 L710.4,1148.3 L712.4,1150.8 L714.4,1154.2 L716.4,1158.6 L718.4,1163.8 L720.4,1169.7 L722.4,1176.4 L724.4,1183.8 L726.4,1191.7 L728.4,1200.1 L730.4,1209 L732.4,1218.1 L734.4,1227.5 L736.3,1237.1 L738.3,1246.7 L740.3,1256.4 L742.3,1265.9 L744.3,1275.3 L746.3,1284.5 L748.3,1293.5 L750.3,1302.1 L752.3,1310.4 L754.3,1318.4 L756.3,1325.9 L758.3,1333 L760.3,1339.6 L762.3,1345.8 L764.3,1351.5 L766.3,1356.8 L768.3,1361.7 L770.3,1366.1 L772.3,1370.2 L774.3,1373.8 L776.3,1377.1 L778.3,1380.1 L780.3,1382.7 L782.3,1385.1 L784.3,1387.2 L786.3,1389 L788.3,1390.6 L790.3,1392.1 L792.3,1393.3 L794.3,1394.5 L796.3,1395.5 L798.3,1396.3 L800.3,1397.1 L802.3,1397.8" fill="none" stroke="#5aa040" stroke-width="1.2" stroke-opacity="0.7"/>
<path d="M256.6,1358.7 L260.7,1358.7 L265,1358.7 L269.4,1358.8 L274,1358.8 L278.6,1358.9 L283.2,1358.9 L287.9,1359 L292.6,1359.1 L297.3,1359.1 L302,1359.2 L306.6,1359.2 L311.1,1359.3 L315.4,1359.3 L319.7,1359.3 L323.7,1359.3 L327.6,1359.3 L331.3,1359.3 L334.7,1359.2 L337.8,1359.1 L340.7,1359 L343.2,1358.9 L345.4,1358.7 L350.8,1358.1 L355.2,1356.8 L358.9,1355 L362.8,1352.6 L366.8,1349.8 L370.7,1347 L374.2,1344.4 L377.9,1341.5 L381.4,1338.6 L384.4,1335.8 L386.3,1333.4 L386.8,1331 L387.3,1328.7 L389.6,1326.3 L393,1323.9 L396.7,1321.1 L400,1317.8 L402.3,1314.5 L404.4,1310.8 L406.5,1306.8 L408.4,1302.6 L410.1,1298.5 L411.6,1294.5 L412.8,1290.2 L413.6,1285.5 L414.3,1281.1 L415.2,1277.3 L416.6,1274.5 L419.4,1273.1 L422.5,1271.5 L423.8,1269.4 L425.1,1266.4 L426.3,1262.7 L427.5,1258.5 L428.6,1253.9 L429.8,1249.1 L430.9,1244.4 L432,1239.8 L433.2,1235.7 L434.4,1232 L435.6,1229.1 L438.1,1225.2 L440.7,1222.3 L443,1218.8 L444.4,1215.5 L445.6,1211.9 L446.7,1208 L447.7,1203.8 L448.9,1199.6 L450.3,1195.4 L451.8,1191.5 L453.5,1187.4 L455.4,1183.1 L457.3,1178.7 L459.1,1174.5 L460.8,1170.4 L462.3,1166.6 L463.5,1163.2 L464.5,1157.8 L465,1152.9 L466.4,1150 L469.9,1150.8 L473.7,1151.5 L475.3,1149.4 L476.4,1145.6 L477.3,1140.9 L478.2,1135.9 L479.4,1131.4 L481,1128.1 L484.2,1125.2 L487.9,1123.3 L491.3,1121.5 L494.4,1119.4 L497.1,1117.8 L498.6,1117.1 L500,1117.1 L502.1,1122.7 L504.5,1128.1 L507.2,1126.5 L510.3,1124.4 L513.3,1124.9 L516.2,1126.6 L518.7,1130 L521,1134.5 L523.5,1138.3 L527.1,1140.3 L530.8,1142.7 L532.5,1145.4 L534.1,1149 L535.5,1153.2 L536.9,1157.8 L538.3,1162.4 L539.6,1166.7 L541,1170.5 L542.8,1175.2 L544.6,1179.7 L546.4,1183.7 L548.4,1186.6 L551.3,1188.1 L554.2,1189.6 L555.9,1192.7 L557.3,1196.8 L558.5,1201.4 L560.1,1205.7 L562.2,1209.8 L564.6,1213.8 L566.9,1217.8 L568.9,1221.8 L570.4,1226.8 L571.5,1231.8 L573.3,1236.4 L575.8,1239.4 L578.9,1242 L582.1,1244.7 L585,1248.1 L586.9,1251.4 L588.6,1255.3 L590.2,1259.5 L591.7,1263.9 L593.3,1268.2 L594.9,1272.3 L596.7,1275.9 L599.5,1280.4 L602.3,1284.4 L605.3,1288.2 L608.4,1292 L611.5,1296.2 L614.7,1300.7 L618.1,1304.5 L621.6,1306.7 L626,1306.5 L630.6,1304.7 L634.8,1303.8 L638.7,1305.4 L642.1,1306.7 L645.1,1306 L647.9,1303.8 L649.7,1301.3 L651.5,1298 L653.2,1294 L654.9,1289.6 L656.6,1285 L658.2,1280.3 L659.4,1276.9 L660.5,1273.3 L661.7,1269.6 L662.8,1265.7 L663.9,1261.7 L665,1257.6 L666,1253.5 L667,1249.3 L668,1245 L669,1240.7 L669.9,1236.4 L670.7,1232.5 L671.4,1228.6 L672.1,1224.6 L672.8,1220.6 L673.4,1216.5 L674.1,1212.4 L674.7,1208.2 L675.2,1204 L675.8,1199.7 L676.4,1195.4 L677,1191.1 L677.5,1186.7 L678.1,1182.3 L678.7,1177.8 L679.2,1174 L679.7,1170 L680.3,1166 L680.8,1161.9 L681.3,1157.8 L681.8,1153.6 L682.4,1149.4 L682.9,1145.1 L683.4,1140.9 L683.9,1136.6 L684.4,1132.4 L684.9,1128.2 L685.4,1124 L685.8,1119.8 L686.3,1115.7 L686.7,1111.6 L687.1,1107.7 L687.5,1103.8 L687.9,1100 L688.3,1095.5 L688.7,1091 L689,1086.5 L689.3,1082.2 L689.6,1077.9 L689.9,1073.6 L690.2,1069.4 L690.4,1065.2 L690.7,1061.1 L691,1057.1 L691.3,1053.1 L691.6,1049.1 L692,1045.2 L692.4,1040.9 L692.9,1036.7 L693.4,1032.5 L693.8,1028.5 L694.3,1024.5 L694.9,1020.5 L695.4,1016.5 L695.9,1012.5 L696.4,1008.5 L697,1004.5 L697.6,1000.4 L698.2,996.3 L698.8,992.3 L699.4,988.2 L700,984.1 L700.7,980 L701.3,975.9 L701.9,971.9 L702.6,967.8 L703.2,963.7 L703.8,959.6 L704.4,955.6 L705,951.5 L705.6,947.4 L706.3,943.3 L706.9,939.3 L707.5,935.2 L708.1,931.1 L708.7,927.1 L709.3,923 L709.9,918.9 L710.5,914.9 L711.1,910.8 L711.7,906.7 L712.4,902.7 L713,898.6 L713.6,894.5 L714.2,890.4 L714.8,886.4 L715.4,882.3 L716,878.2 L716.6,874.1 L717.2,870.1 L717.7,866 L718.3,861.9 L718.9,857.8 L719.5,853.7 L720.2,849.7 L720.8,845.6 L721.5,841.5 L722.2,837.4 L723,833.2 L723.9,829 L724.7,824.8 L725.6,820.6 L726.5,816.5 L727.3,812.4 L728.1,808.4 L728.9,804.5 L729.6,800.7 L730.2,796 L730.6,791.1 L730.9,786.2 L731.3,781.5 L731.9,777.5 L732.7,774.3 L734.1,772.2 L738,771 L741.9,772.2 L743.6,775.1 L744.6,779.7 L745.2,785.1 L746,790.6 L746.7,794.5 L747.5,798.6 L748.2,802.9 L748.9,807.3 L749.6,811.8 L750.3,816.4 L751,821.1 L751.5,824.9 L752.1,828.9 L752.6,832.9 L753.1,837 L753.7,841.1 L754.2,845.3 L754.7,849.5 L755.2,853.6 L755.6,857.8 L756.1,861.9 L756.5,866 L757,870.1 L757.4,874.3 L757.8,878.5 L758.2,882.6 L758.6,886.7 L759,890.8 L759.4,894.8 L759.8,898.8 L760.2,902.6 L760.7,907.2 L761.3,911.7 L761.8,916 L762.4,920.3 L763,924.6 L763.6,928.9 L764.3,933.2 L765.1,937.5 L765.9,941.8 L766.7,946.1 L767.6,950.3 L768.5,954.7 L769.5,959.1 L770.4,963.7 L771.2,967.5 L771.9,971.5 L772.7,975.5 L773.6,979.6 L774.4,983.7 L775.2,987.9 L776,992.1 L776.9,996.2 L777.7,1000.4 L778.5,1004.5 L779.3,1008.5 L780.1,1012.5 L780.9,1016.5 L781.7,1020.5 L782.6,1024.5 L783.4,1028.5 L784.2,1032.5 L785,1036.7 L785.9,1040.9 L786.7,1045.2 L787.4,1049.1 L788.2,1053.2 L788.9,1057.3 L789.6,1061.5 L790.3,1065.7 L791,1070 L791.8,1074.3 L792.5,1078.6 L793.3,1082.9 L794.1,1087.2 L795,1091.5 L795.9,1095.8 L796.9,1100 L797.9,1104 L798.9,1107.9 L800,1111.7 L801.2,1115.6 L802.3,1119.4 L803.5,1123.3 L804.8,1127.1 L806,1131 L807.2,1134.9 L808.5,1138.9 L809.7,1142.9 L811,1147 L812.2,1151.2 L813.4,1155.5 L814.4,1159.1 L815.4,1162.9 L816.3,1166.7 L817.3,1170.5 L818.3,1174.4 L819.3,1178.4 L820.2,1182.4 L821.2,1186.4 L822.2,1190.5 L823.2,1194.6 L824.2,1198.7 L825.2,1202.8 L826.1,1206.8 L827.1,1210.9 L828.1,1215 L829.1,1219 L830.1,1223 L831.2,1226.9 L832.2,1230.8 L833.2,1234.6 L834.3,1238.7 L835.4,1242.8 L836.6,1246.9 L837.7,1251 L838.8,1255.1 L840,1259.1 L841.1,1263.2 L842.3,1267.2 L843.4,1271.2 L844.6,1275.1 L845.8,1279 L846.9,1282.9 L848.1,1286.8 L849.3,1290.6 L850.5,1294.4 L851.8,1298.1 L853,1301.8 L854.4,1306.1 L855.9,1310.3 L857.3,1314.6 L858.7,1318.8 L860.2,1323 L861.7,1327.1 L863.1,1331.1 L864.7,1335.1 L866.2,1339 L867.8,1342.7 L869.4,1346.4 L871.1,1349.9 L872.8,1353.2 L875.1,1357.3 L877.4,1361.1 L879.8,1364.8 L882.2,1368.4 L884.7,1371.7 L887.2,1374.9 L889.8,1378 L892.5,1380.9 L895.5,1384.1 L898.5,1387 L901.6,1389.8 L904.8,1392.3 L908.4,1394.6 L912.3,1396.7 L915.6,1398.1 L919.2,1399.2 L922.9,1400.2 L926.9,1401.1 L931,1401.9 L935.2,1402.5 L939.4,1403.1 L943.6,1403.6 L947.8,1404.1 L951.9,1404.6 L956,1405 L960.1,1405.4 L964.3,1405.6 L968.4,1405.8 L972.6,1406 L976.7,1406.1 L980.9,1406.2 L985.1,1406.3 L989.2,1406.4 L993.4,1406.6" fill="none" stroke="#ff2a2a" stroke-width="2" stroke-linejoin="round"/>
<path d="M256.6,1359.7 L260.7,1359.7 L265,1359.7 L269.4,1359.8 L274,1359.8 L278.6,1359.9 L283.2,1359.9 L287.9,1360 L292.6,1360.1 L297.3,1360.1 L302,1360.2 L306.6,1360.2 L311.1,1360.3 L315.4,1360.3 L319.7,1360.3 L323.7,1360.3 L327.6,1360.3 L331.3,1360.3 L334.7,1360.2 L337.8,1360.1 L340.7,1360 L343.2,1359.9 L345.4,1359.7 L350.8,1359.1 L355.2,1357.8 L358.9,1356 L362.8,1353.6 L366.8,1350.8 L370.7,1348 L374.2,1345.4 L377.9,1342.5 L381.4,1339.6 L384.4,1336.8 L386.3,1334.4 L386.8,1332 L387.3,1329.7 L389.6,1327.3 L393,1324.9 L396.7,1322.1 L400,1318.8 L402.3,1315.5 L404.4,1311.8 L406.5,1307.8 L408.4,1303.6 L410.1,1299.5 L411.6,1295.5 L412.8,1291.2 L413.6,1286.5 L414.3,1282.1 L415.2,1278.3 L416.6,1275.5 L419.5,1274.1 L422.5,1272.5 L423.8,1270.1 L425,1266.7 L426.2,1262.5 L427.2,1257.7 L428.2,1252.5 L429.2,1247.3 L430.2,1242.2 L431.3,1237.4 L432.4,1233.3 L433.6,1230.1 L436.1,1226.2 L438.6,1223.3 L441,1219.8 L442.4,1216.5 L443.6,1212.9 L444.7,1209 L445.7,1204.8 L446.9,1200.6 L448.3,1196.4 L449.8,1192.5 L451.5,1188.4 L453.4,1184.1 L455.3,1179.7 L457.1,1175.5 L458.8,1171.4 L460.3,1167.6 L461.5,1164.2 L462.5,1158.8 L463,1153.9 L464.4,1151 L467.9,1151.8 L471.7,1152.5 L473.3,1150.4 L474.5,1146.8 L475.4,1142.3 L476.4,1137.4 L477.5,1132.8 L479,1129.1 L482.1,1124.5 L485.7,1120.6 L489.3,1117.5 L493.4,1115.2 L497.1,1113.8 L498.7,1113.1 L500,1113.1 L502.1,1118.2 L504.5,1124.1 L507.3,1125 L510.3,1125.4 L513.2,1126.2 L516.2,1127.6 L519.4,1131 L522.7,1135.5 L526,1139.3 L529.7,1141.3 L533.3,1143.7 L535,1146.4 L536.6,1150 L538,1154.2 L539.4,1158.8 L540.8,1163.4 L542.1,1167.7 L543.5,1171.5 L545.3,1176.2 L547.1,1180.7 L548.9,1184.7 L550.9,1187.6 L553.8,1189.1 L556.7,1190.6 L558.4,1193.7 L559.8,1197.8 L561,1202.4 L562.6,1206.7 L564.7,1210.8 L567.1,1214.8 L569.4,1218.8 L571.4,1222.8 L572.9,1227.8 L574,1232.8 L575.8,1237.4 L578.3,1240.4 L581.4,1243 L584.6,1245.7 L587.5,1249.1 L589.4,1252.4 L591.1,1256.3 L592.7,1260.5 L594.2,1264.9 L595.8,1269.2 L597.4,1273.3 L599.2,1276.9 L602,1281.4 L604.8,1285.4 L607.8,1289.2 L610.9,1293 L614.1,1297 L617.3,1301.1 L620.7,1304.8 L624.1,1307.7 L629.5,1310.2 L634.8,1311.8 L638.6,1313.7 L642.1,1314.7 L645.1,1314 L647.9,1311.8 L649.4,1309.6 L650.7,1306.6 L652,1303.1 L653.3,1299 L654.5,1294.6 L655.7,1290.1 L657,1285.6 L658.2,1281.3 L659.3,1277.6 L660.4,1273.9 L661.5,1270.1 L662.7,1266.2 L663.8,1262.3 L664.9,1258.3 L665.9,1254.2 L667,1250.1 L668,1245.9 L669,1241.7 L669.9,1237.4 L670.7,1233.5 L671.4,1229.6 L672.1,1225.6 L672.8,1221.6 L673.4,1217.5 L674.1,1213.4 L674.7,1209.2 L675.2,1205 L675.8,1200.7 L676.4,1196.4 L677,1192.1 L677.5,1187.7 L678.1,1183.3 L678.7,1178.8 L679.2,1175 L679.7,1171 L680.3,1167 L680.8,1162.9 L681.3,1158.8 L681.8,1154.6 L682.4,1150.4 L682.9,1146.1 L683.4,1141.9 L683.9,1137.6 L684.4,1133.4 L684.9,1129.2 L685.4,1125 L685.8,1120.8 L686.3,1116.7 L686.7,1112.6 L687.1,1108.7 L687.5,1104.8 L687.9,1101 L688.3,1096.5 L688.7,1092 L689,1087.5 L689.3,1083.2 L689.6,1078.9 L689.9,1074.6 L690.2,1070.4 L690.4,1066.2 L690.7,1062.1 L691,1058.1 L691.3,1054.1 L691.6,1050.1 L692,1046.2 L692.4,1041.9 L692.9,1037.7 L693.4,1033.5 L693.8,1029.5 L694.3,1025.5 L694.9,1021.5 L695.4,1017.5 L695.9,1013.5 L696.4,1009.5 L697,1005.5 L697.6,1001.4 L698.2,997.3 L698.8,993.3 L699.4,989.2 L700,985.1 L700.7,981 L701.3,976.9 L701.9,972.9 L702.6,968.8 L703.2,964.7 L703.8,960.6 L704.4,956.6 L705,952.5 L705.6,948.4 L706.3,944.3 L706.9,940.3 L707.5,936.2 L708.1,932.1 L708.7,928.1 L709.3,924 L709.9,919.9 L710.5,915.9 L711.1,911.8 L711.7,907.7 L712.4,903.7 L713,899.6 L713.6,895.5 L714.2,891.4 L714.8,887.4 L715.4,883.3 L716,879.2 L716.6,875.1 L717.2,871.1 L717.7,867 L718.3,862.9 L718.9,858.8 L719.5,854.7 L720.2,850.7 L720.8,846.6 L721.5,842.5 L722.2,838.3 L723,834.1 L723.8,829.7 L724.7,825.3 L725.5,821 L726.4,816.8 L727.2,812.7 L728,808.8 L728.8,805.1 L729.6,801.7 L730.6,796.3 L731.3,791.2 L732.4,786.9 L734.1,784.2 L738,783.2 L741.9,784.2 L744.3,787.1 L746,791.6 L746.9,794.8 L747.7,798.6 L748.4,802.9 L749.1,807.6 L749.7,812.4 L750.3,817.3 L751,822.1 L751.5,825.9 L752.1,829.9 L752.6,833.9 L753.1,838 L753.7,842.1 L754.2,846.3 L754.7,850.5 L755.2,854.6 L755.6,858.8 L756.1,862.9 L756.5,867 L757,871.1 L757.4,875.3 L757.8,879.5 L758.2,883.6 L758.6,887.7 L759,891.8 L759.4,895.8 L759.8,899.8 L760.2,903.6 L760.7,908.2 L761.3,912.7 L761.8,917 L762.4,921.3 L763,925.6 L763.6,929.9 L764.3,934.2 L765.1,938.5 L765.9,942.8 L766.7,947.1 L767.6,951.3 L768.5,955.7 L769.5,960.1 L770.4,964.7 L771.2,968.5 L771.9,972.5 L772.7,976.5 L773.6,980.6 L774.4,984.7 L775.2,988.9 L776,993.1 L776.9,997.2 L777.7,1001.4 L778.5,1005.5 L779.3,1009.5 L780.1,1013.5 L780.9,1017.5 L781.7,1021.5 L782.6,1025.5 L783.4,1029.5 L784.2,1033.5 L785,1037.7 L785.9,1041.9 L786.7,1046.2 L787.4,1050.1 L788.2,1054.2 L788.9,1058.3 L789.6,1062.5 L790.3,1066.7 L791,1071 L791.8,1075.3 L792.5,1079.6 L793.3,1083.9 L794.1,1088.2 L795,1092.5 L795.9,1096.8 L796.9,1101 L797.9,1105 L798.9,1108.9 L800,1112.7 L801.2,1116.6 L802.3,1120.4 L803.5,1124.3 L804.8,1128.1 L806,1132 L807.2,1135.9 L808.5,1139.9 L809.7,1143.9 L811,1148 L812.2,1152.2 L813.4,1156.5 L814.4,1160.1 L815.4,1163.9 L816.3,1167.7 L817.3,1171.5 L818.3,1175.4 L819.3,1179.4 L820.2,1183.4 L821.2,1187.4 L822.2,1191.5 L823.2,1195.6 L824.2,1199.7 L825.2,1203.8 L826.1,1207.8 L827.1,1211.9 L828.1,1216 L829.1,1220 L830.1,1224 L831.2,1227.9 L832.2,1231.8 L833.2,1235.6 L834.3,1239.7 L835.4,1243.8 L836.6,1247.9 L837.7,1252 L838.8,1256.1 L840,1260.1 L841.1,1264.2 L842.3,1268.2 L843.4,1272.2 L844.6,1276.1 L845.8,1280 L846.9,1283.9 L848.1,1287.8 L849.3,1291.6 L850.5,1295.4 L851.8,1299.1 L853,1302.8 L854.4,1307.1 L855.9,1311.3 L857.3,1315.6 L858.7,1319.8 L860.2,1324 L861.7,1328.1 L863.1,1332.1 L864.7,1336.1 L866.2,1340 L867.8,1343.7 L869.4,1347.4 L871.1,1350.9 L872.8,1354.2 L875.1,1358.3 L877.4,1362.1 L879.8,1365.8 L882.2,1369.4 L884.7,1372.7 L887.2,1375.9 L889.8,1379 L892.5,1381.9 L895.5,1385.1 L898.5,1388 L901.6,1390.8 L904.8,1393.3 L908.4,1395.6 L912.3,1397.7 L915.6,1399.1 L919.2,1400.2 L922.9,1401.2 L926.9,1402.1 L931,1402.9 L935.2,1403.5 L939.4,1404.1 L943.6,1404.6 L947.8,1405.1 L951.9,1405.6 L956,1406 L960.1,1406.4 L964.3,1406.6 L968.4,1406.8 L972.6,1407 L976.7,1407.1 L980.9,1407.2 L985.1,1407.3 L989.2,1407.4 L993.4,1407.6" fill="none" stroke="#1a0a0a" stroke-width="2.4" stroke-dasharray="2.6 4.4" stroke-opacity="0.8"/>
<path d="M1267.5,1408.6 L1267.5,1378.2 L1270.5,1378.2 L1273.5,1378.2 L1276.5,1378.2 L1279.5,1378.2 L1282.5,1378.2 L1285.5,1378.2 L1288.5,1378.2 L1291.5,1378.3 L1294.5,1378.3 L1297.5,1378.3 L1300.5,1378.3 L1303.5,1378.3 L1306.5,1378.3 L1309.5,1378.3 L1312.5,1378.3 L1315.5,1378.3 L1318.5,1378.3 L1321.5,1378.3 L1324.5,1378.3 L1327.5,1378.3 L1330.5,1378.4 L1333.5,1378.4 L1336.5,1378.4 L1339.5,1378.4 L1342.5,1378.4 L1345.5,1378.4 L1348.5,1378.4 L1351.5,1378.4 L1354.5,1378.4 L1357.5,1378.4 L1360.5,1378.4 L1363.5,1378.4 L1366.5,1378.4 L1369.5,1378.4 L1372.5,1378.4 L1375.5,1378.5 L1378.5,1378.5 L1381.5,1378.5 L1384.5,1378.5 L1387.5,1378.5 L1390.5,1378.5 L1393.5,1378.5 L1396.5,1378.5 L1399.5,1378.5 L1402.5,1378.5 L1405.5,1378.5 L1408.5,1378.5 L1411.5,1378.4 L1414.5,1378.4 L1417.5,1378.4 L1420.5,1378.3 L1423.5,1378.3 L1426.5,1378.3 L1429.5,1378.3 L1432.5,1378.3 L1435.5,1378.4 L1438.5,1378.5 L1441.5,1378.6 L1444.5,1378.7 L1447.5,1378.8 L1450.5,1379 L1453.5,1379.2 L1456.5,1379.4 L1459.5,1379.6 L1462.5,1379.8 L1465.5,1380 L1468.5,1380.2 L1471.5,1380.4 L1474.5,1380.6 L1477.5,1380.8 L1480.5,1381 L1483.5,1381.2 L1486.5,1381.4 L1489.5,1381.5 L1492.5,1381.7 L1495.5,1381.9 L1498.5,1382 L1501.5,1382.2 L1504.5,1382.3 L1507.5,1382.5 L1510.5,1382.6 L1513.5,1382.8 L1516.5,1383 L1519.5,1383.2 L1522.5,1383.4 L1525.5,1383.6 L1528.5,1383.8 L1531.5,1384 L1534.5,1384.3 L1537.5,1384.5 L1540.5,1384.8 L1543.5,1385 L1546.5,1385.3 L1549.5,1385.6 L1552.5,1385.9 L1555.5,1386.2 L1558.5,1386.5 L1561.5,1386.8 L1564.5,1387.1 L1567.5,1387.4 L1570.5,1387.8 L1573.5,1388.2 L1576.5,1388.5 L1579.5,1388.9 L1582.5,1389.4 L1585.5,1389.8 L1588.5,1390.3 L1591.5,1390.8 L1594.5,1391.4 L1597.5,1391.9 L1600.5,1392.5 L1603.5,1393.1 L1606.5,1393.7 L1609.5,1394.2 L1612.5,1394.8 L1615.5,1395.3 L1618.5,1395.8 L1621.5,1396.2 L1624.5,1396.7 L1627.5,1397.1 L1630.5,1397.5 L1633.5,1397.9 L1636.5,1398.3 L1639.5,1398.7 L1642.5,1399 L1645.5,1399.4 L1648.5,1399.7 L1651.5,1400.1 L1654.5,1400.4 L1657.5,1400.7 L1660.5,1401.1 L1663.5,1401.4 L1666.5,1401.7 L1669.5,1402 L1672.5,1402.3 L1675.5,1402.5 L1678.5,1402.8 L1681.5,1403.1 L1684.5,1403.3 L1687.5,1403.6 L1690.5,1403.8 L1693.5,1404 L1696.5,1404.3 L1699.5,1404.5 L1702.5,1404.7 L1705.5,1404.9 L1708.5,1405.1 L1711.5,1405.2 L1714.5,1405.4 L1717.5,1405.6 L1720.5,1405.7 L1723.5,1405.9 L1726.5,1406 L1729.5,1406.1 L1732.5,1406.3 L1735.5,1406.4 L1738.5,1406.5 L1741.5,1406.5 L1744.5,1406.6 L1747.5,1406.7 L1750.5,1406.7 L1753.5,1406.8 L1756.5,1406.8 L1759.5,1406.8 L1762.5,1406.8 L1765.5,1406.9 L1768.5,1406.9 L1771.5,1406.9 L1774.5,1406.9 L1777.5,1406.9 L1780.5,1406.9 L1783.5,1407 L1786.5,1407 L1788,1407 L1788,1408.6Z" fill="#8f8fa0"/>
<path d="M1307.4,1376.7 L1309.4,1376.6 L1311.4,1376.4 L1313.4,1376.1 L1315.4,1375.9 L1317.4,1375.6 L1319.4,1375.3 L1321.3,1375 L1323.3,1374.7 L1325.3,1374.4 L1327.3,1374 L1329.3,1373.6 L1331.3,1373.2 L1333.3,1372.7 L1335.3,1372.3 L1337.3,1371.8 L1339.3,1371.3 L1341.3,1370.7 L1343.3,1370.2 L1345.3,1369.6 L1347.3,1369.1 L1349.3,1368.5 L1351.3,1367.9 L1353.3,1367.3 L1355.2,1366.7 L1357.2,1366.1 L1359.2,1365.5 L1361.2,1364.9 L1363.2,1364.3 L1365.2,1363.8 L1367.2,1363.2 L1369.2,1362.7 L1371.2,1362.2 L1373.2,1361.8 L1375.2,1361.3 L1377.2,1360.9 L1379.2,1360.6 L1381.2,1360.3 L1383.2,1360 L1385.2,1359.8 L1387.2,1359.6 L1389.1,1359.5 L1391.1,1359.4 L1393.1,1359.4 L1395.1,1359.4 L1397.1,1359.5 L1399.1,1359.7 L1401.1,1360 L1403.1,1360.2 L1405.1,1360.6 L1407.1,1361 L1409.1,1361.4 L1411.1,1361.9 L1413.1,1362.4 L1415.1,1362.9 L1417.1,1363.5 L1419.1,1364.1 L1421.1,1364.8 L1423.1,1365.4 L1425,1366.1 L1427,1366.8 L1429,1367.4 L1431,1368.1 L1433,1368.8 L1435,1369.5 L1437,1370.2 L1439,1370.8 L1441,1371.5 L1443,1372.1 L1445,1372.8 L1447,1373.4 L1449,1374 L1451,1374.6 L1453,1375.1 L1455,1375.6 L1457,1376.1 L1458.9,1376.6 L1460.9,1377.1 L1462.9,1377.5 L1464.9,1377.9 L1466.9,1378.3 L1468.9,1378.7 L1468.9,1380.3 L1466.9,1380.1 L1464.9,1380 L1462.9,1379.8 L1460.9,1379.7 L1458.9,1379.5 L1457,1379.4 L1455,1379.3 L1453,1379.1 L1451,1379 L1449,1378.9 L1447,1378.8 L1445,1378.7 L1443,1378.6 L1441,1378.5 L1439,1378.5 L1437,1378.4 L1435,1378.4 L1433,1378.4 L1431,1378.3 L1429,1378.3 L1427,1378.3 L1425,1378.3 L1423.1,1378.3 L1421.1,1378.3 L1419.1,1378.4 L1417.1,1378.4 L1415.1,1378.4 L1413.1,1378.4 L1411.1,1378.4 L1409.1,1378.5 L1407.1,1378.5 L1405.1,1378.5 L1403.1,1378.5 L1401.1,1378.5 L1399.1,1378.5 L1397.1,1378.5 L1395.1,1378.5 L1393.1,1378.5 L1391.1,1378.5 L1389.1,1378.5 L1387.2,1378.5 L1385.2,1378.5 L1383.2,1378.5 L1381.2,1378.5 L1379.2,1378.5 L1377.2,1378.5 L1375.2,1378.5 L1373.2,1378.4 L1371.2,1378.4 L1369.2,1378.4 L1367.2,1378.4 L1365.2,1378.4 L1363.2,1378.4 L1361.2,1378.4 L1359.2,1378.4 L1357.2,1378.4 L1355.2,1378.4 L1353.3,1378.4 L1351.3,1378.4 L1349.3,1378.4 L1347.3,1378.4 L1345.3,1378.4 L1343.3,1378.4 L1341.3,1378.4 L1339.3,1378.4 L1337.3,1378.4 L1335.3,1378.4 L1333.3,1378.4 L1331.3,1378.4 L1329.3,1378.3 L1327.3,1378.3 L1325.3,1378.3 L1323.3,1378.3 L1321.3,1378.3 L1319.4,1378.3 L1317.4,1378.3 L1315.4,1378.3 L1313.4,1378.3 L1311.4,1378.3 L1309.4,1378.3 L1307.4,1378.3Z" fill="#a0a0a0" fill-opacity="0.7"/>
<path d="M1307.4,1376.7 L1309.4,1376.6 L1311.4,1376.4 L1313.4,1376.1 L1315.4,1375.9 L1317.4,1375.6 L1319.4,1375.3 L1321.3,1375 L1323.3,1374.7 L1325.3,1374.4 L1327.3,1374 L1329.3,1373.6 L1331.3,1373.2 L1333.3,1372.7 L1335.3,1372.3 L1337.3,1371.8 L1339.3,1371.3 L1341.3,1370.7 L1343.3,1370.2 L1345.3,1369.6 L1347.3,1369.1 L1349.3,1368.5 L1351.3,1367.9 L1353.3,1367.3 L1355.2,1366.7 L1357.2,1366.1 L1359.2,1365.5 L1361.2,1364.9 L1363.2,1364.3 L1365.2,1363.8 L1367.2,1363.2 L1369.2,1362.7 L1371.2,1362.2 L1373.2,1361.8 L1375.2,1361.3 L1377.2,1360.9 L1379.2,1360.6 L1381.2,1360.3 L1383.2,1360 L1385.2,1359.8 L1387.2,1359.6 L1389.1,1359.5 L1391.1,1359.4 L1393.1,1359.4 L1395.1,1359.4 L1397.1,1359.5 L1399.1,1359.7 L1401.1,1360 L1403.1,1360.2 L1405.1,1360.6 L1407.1,1361 L1409.1,1361.4 L1411.1,1361.9 L1413.1,1362.4 L1415.1,1362.9 L1417.1,1363.5 L1419.1,1364.1 L1421.1,1364.8 L1423.1,1365.4 L1425,1366.1 L1427,1366.8 L1429,1367.4 L1431,1368.1 L1433,1368.8 L1435,1369.5 L1437,1370.2 L1439,1370.8 L1441,1371.5 L1443,1372.1 L1445,1372.8 L1447,1373.4 L1449,1374 L1451,1374.6 L1453,1375.1 L1455,1375.6 L1457,1376.1 L1458.9,1376.6 L1460.9,1377.1 L1462.9,1377.5 L1464.9,1377.9 L1466.9,1378.3 L1468.9,1378.7" fill="none" stroke="#585858" stroke-width="1.2" stroke-opacity="0.8"/>
<path d="M1361.2,1376.9 L1363.2,1376.6 L1365.2,1376.2 L1367.2,1375.8 L1369.2,1375.2 L1371.2,1374.6 L1373.2,1373.9 L1375.2,1373.2 L1377.2,1372.3 L1379.2,1371.3 L1381.2,1370.2 L1383.2,1369 L1385.2,1367.7 L1387.2,1366.3 L1389.1,1364.8 L1391.1,1363.2 L1393.1,1361.5 L1395.1,1359.7 L1397.1,1357.9 L1399.1,1356 L1401.1,1354.2 L1403.1,1352.3 L1405.1,1350.4 L1407.1,1348.6 L1409.1,1346.8 L1411.1,1345.2 L1413.1,1343.7 L1415.1,1342.3 L1417.1,1341.1 L1419.1,1340.2 L1421.1,1339.4 L1423.1,1338.9 L1425,1338.6 L1427,1338.5 L1429,1338.7 L1431,1339.1 L1433,1339.6 L1435,1340.4 L1437,1341.4 L1439,1342.5 L1441,1343.8 L1443,1345.2 L1445,1346.7 L1447,1348.4 L1449,1350.1 L1451,1351.9 L1453,1353.7 L1455,1355.6 L1457,1357.4 L1458.9,1359.2 L1460.9,1361 L1462.9,1362.8 L1464.9,1364.5 L1466.9,1366.1 L1468.9,1367.7 L1470.9,1369.1 L1472.9,1370.5 L1474.9,1371.8 L1476.9,1372.9 L1478.9,1374 L1480.9,1375 L1482.9,1375.9 L1484.9,1376.8 L1486.9,1377.5 L1488.9,1378.2 L1490.9,1378.8 L1492.9,1379.3 L1494.8,1379.8 L1496.8,1380.2 L1496.8,1381.9 L1494.8,1381.8 L1492.9,1381.7 L1490.9,1381.6 L1488.9,1381.5 L1486.9,1381.4 L1484.9,1381.3 L1482.9,1381.2 L1480.9,1381.1 L1478.9,1380.9 L1476.9,1380.8 L1474.9,1380.7 L1472.9,1380.5 L1470.9,1380.4 L1468.9,1380.3 L1466.9,1380.1 L1464.9,1380 L1462.9,1379.8 L1460.9,1379.7 L1458.9,1379.5 L1457,1379.4 L1455,1379.3 L1453,1379.1 L1451,1379 L1449,1378.9 L1447,1378.8 L1445,1378.7 L1443,1378.6 L1441,1378.5 L1439,1378.5 L1437,1378.4 L1435,1378.4 L1433,1378.4 L1431,1378.3 L1429,1378.3 L1427,1378.3 L1425,1378.3 L1423.1,1378.3 L1421.1,1378.3 L1419.1,1378.4 L1417.1,1378.4 L1415.1,1378.4 L1413.1,1378.4 L1411.1,1378.4 L1409.1,1378.5 L1407.1,1378.5 L1405.1,1378.5 L1403.1,1378.5 L1401.1,1378.5 L1399.1,1378.5 L1397.1,1378.5 L1395.1,1378.5 L1393.1,1378.5 L1391.1,1378.5 L1389.1,1378.5 L1387.2,1378.5 L1385.2,1378.5 L1383.2,1378.5 L1381.2,1378.5 L1379.2,1378.5 L1377.2,1378.5 L1375.2,1378.5 L1373.2,1378.4 L1371.2,1378.4 L1369.2,1378.4 L1367.2,1378.4 L1365.2,1378.4 L1363.2,1378.4 L1361.2,1378.4Z" fill="#acacac" fill-opacity="0.75"/>
<path d="M1395.1,1376.8 L1397.1,1376.5 L1399.1,1376.3 L1401.1,1376 L1403.1,1375.6 L1405.1,1375.3 L1407.1,1374.9 L1409.1,1374.4 L1411.1,1374 L1413.1,1373.5 L1415.1,1372.9 L1417.1,1372.4 L1419.1,1371.8 L1421.1,1371.2 L1423.1,1370.6 L1425,1370 L1427,1369.4 L1429,1368.8 L1431,1368.2 L1433,1367.7 L1435,1367.1 L1437,1366.6 L1439,1366.2 L1441,1365.7 L1443,1365.4 L1445,1365.1 L1447,1364.8 L1449,1364.6 L1451,1364.5 L1453,1364.5 L1455,1364.5 L1457,1364.6 L1458.9,1364.8 L1460.9,1365 L1462.9,1365.2 L1464.9,1365.6 L1466.9,1365.9 L1468.9,1366.3 L1470.9,1366.8 L1472.9,1367.3 L1474.9,1367.8 L1476.9,1368.3 L1478.9,1368.9 L1480.9,1369.5 L1482.9,1370.1 L1484.9,1370.7 L1486.9,1371.3 L1488.9,1372 L1490.9,1372.6 L1492.9,1373.2 L1494.8,1373.9 L1496.8,1374.5 L1498.8,1375.1 L1500.8,1375.7 L1502.8,1376.3 L1504.8,1376.8 L1506.8,1377.4 L1508.8,1377.9 L1510.8,1378.4 L1512.8,1378.9 L1514.8,1379.4 L1516.8,1379.9 L1518.8,1380.3 L1520.8,1380.7 L1522.8,1381.1 L1524.8,1381.5 L1526.8,1381.9 L1528.7,1382.2 L1528.7,1383.8 L1526.8,1383.7 L1524.8,1383.5 L1522.8,1383.4 L1520.8,1383.3 L1518.8,1383.1 L1516.8,1383 L1514.8,1382.9 L1512.8,1382.8 L1510.8,1382.7 L1508.8,1382.6 L1506.8,1382.4 L1504.8,1382.3 L1502.8,1382.2 L1500.8,1382.1 L1498.8,1382 L1496.8,1381.9 L1494.8,1381.8 L1492.9,1381.7 L1490.9,1381.6 L1488.9,1381.5 L1486.9,1381.4 L1484.9,1381.3 L1482.9,1381.2 L1480.9,1381.1 L1478.9,1380.9 L1476.9,1380.8 L1474.9,1380.7 L1472.9,1380.5 L1470.9,1380.4 L1468.9,1380.3 L1466.9,1380.1 L1464.9,1380 L1462.9,1379.8 L1460.9,1379.7 L1458.9,1379.5 L1457,1379.4 L1455,1379.3 L1453,1379.1 L1451,1379 L1449,1378.9 L1447,1378.8 L1445,1378.7 L1443,1378.6 L1441,1378.5 L1439,1378.5 L1437,1378.4 L1435,1378.4 L1433,1378.4 L1431,1378.3 L1429,1378.3 L1427,1378.3 L1425,1378.3 L1423.1,1378.3 L1421.1,1378.3 L1419.1,1378.4 L1417.1,1378.4 L1415.1,1378.4 L1413.1,1378.4 L1411.1,1378.4 L1409.1,1378.5 L1407.1,1378.5 L1405.1,1378.5 L1403.1,1378.5 L1401.1,1378.5 L1399.1,1378.5 L1397.1,1378.5 L1395.1,1378.5Z" fill="#5558a8" fill-opacity="0.55"/>
<path d="M1395.1,1376.8 L1397.1,1376.5 L1399.1,1376.3 L1401.1,1376 L1403.1,1375.6 L1405.1,1375.3 L1407.1,1374.9 L1409.1,1374.4 L1411.1,1374 L1413.1,1373.5 L1415.1,1372.9 L1417.1,1372.4 L1419.1,1371.8 L1421.1,1371.2 L1423.1,1370.6 L1425,1370 L1427,1369.4 L1429,1368.8 L1431,1368.2 L1433,1367.7 L1435,1367.1 L1437,1366.6 L1439,1366.2 L1441,1365.7 L1443,1365.4 L1445,1365.1 L1447,1364.8 L1449,1364.6 L1451,1364.5 L1453,1364.5 L1455,1364.5 L1457,1364.6 L1458.9,1364.8 L1460.9,1365 L1462.9,1365.2 L1464.9,1365.6 L1466.9,1365.9 L1468.9,1366.3 L1470.9,1366.8 L1472.9,1367.3 L1474.9,1367.8 L1476.9,1368.3 L1478.9,1368.9 L1480.9,1369.5 L1482.9,1370.1 L1484.9,1370.7 L1486.9,1371.3 L1488.9,1372 L1490.9,1372.6 L1492.9,1373.2 L1494.8,1373.9 L1496.8,1374.5 L1498.8,1375.1 L1500.8,1375.7 L1502.8,1376.3 L1504.8,1376.8 L1506.8,1377.4 L1508.8,1377.9 L1510.8,1378.4 L1512.8,1378.9 L1514.8,1379.4 L1516.8,1379.9 L1518.8,1380.3 L1520.8,1380.7 L1522.8,1381.1 L1524.8,1381.5 L1526.8,1381.9 L1528.7,1382.2" fill="none" stroke="#2a2a80" stroke-width="1.2" stroke-opacity="0.7"/>
<path d="M1554.7,1384.5 L1556.7,1384.2 L1558.7,1383.6 L1560.7,1382.8 L1562.6,1381.8 L1564.6,1380.4 L1566.6,1378.6 L1568.6,1376.2 L1570.6,1373.3 L1572.6,1369.6 L1574.6,1365.2 L1576.6,1359.8 L1578.6,1353.4 L1580.6,1345.9 L1582.6,1337.2 L1584.6,1327.2 L1586.6,1316 L1588.6,1303.4 L1590.6,1289.6 L1592.6,1274.7 L1594.6,1258.6 L1596.6,1241.8 L1598.5,1224.3 L1600.5,1206.4 L1602.5,1188.6 L1604.5,1171.1 L1606.5,1154.4 L1608.5,1138.7 L1610.5,1124.6 L1612.5,1112.4 L1614.5,1102.4 L1616.5,1094.9 L1618.5,1090.1 L1620.5,1088.2 L1622.5,1089.1 L1624.5,1092.6 L1626.5,1098.6 L1628.5,1107 L1630.5,1117.5 L1632.4,1130 L1634.4,1144 L1636.4,1159.4 L1638.4,1175.8 L1640.4,1192.8 L1642.4,1210.2 L1644.4,1227.6 L1646.4,1244.7 L1648.4,1261.4 L1650.4,1277.4 L1652.4,1292.5 L1654.4,1306.5 L1656.4,1319.5 L1658.4,1331.3 L1660.4,1342 L1662.4,1351.5 L1664.4,1359.9 L1666.4,1367.3 L1668.3,1373.6 L1670.3,1379.1 L1672.3,1383.7 L1674.3,1387.6 L1676.3,1390.8 L1678.3,1393.5 L1680.3,1395.7 L1682.3,1397.5 L1684.3,1399 L1686.3,1400.2 L1688.3,1401.2 L1690.3,1401.9 L1690.3,1403.8 L1688.3,1403.6 L1686.3,1403.5 L1684.3,1403.3 L1682.3,1403.1 L1680.3,1403 L1678.3,1402.8 L1676.3,1402.6 L1674.3,1402.4 L1672.3,1402.2 L1670.3,1402 L1668.3,1401.9 L1666.4,1401.7 L1664.4,1401.5 L1662.4,1401.2 L1660.4,1401 L1658.4,1400.8 L1656.4,1400.6 L1654.4,1400.4 L1652.4,1400.2 L1650.4,1399.9 L1648.4,1399.7 L1646.4,1399.5 L1644.4,1399.3 L1642.4,1399 L1640.4,1398.8 L1638.4,1398.5 L1636.4,1398.3 L1634.4,1398 L1632.4,1397.8 L1630.5,1397.5 L1628.5,1397.2 L1626.5,1396.9 L1624.5,1396.7 L1622.5,1396.4 L1620.5,1396.1 L1618.5,1395.8 L1616.5,1395.4 L1614.5,1395.1 L1612.5,1394.8 L1610.5,1394.4 L1608.5,1394 L1606.5,1393.7 L1604.5,1393.3 L1602.5,1392.9 L1600.5,1392.5 L1598.5,1392.1 L1596.6,1391.8 L1594.6,1391.4 L1592.6,1391 L1590.6,1390.7 L1588.6,1390.3 L1586.6,1390 L1584.6,1389.7 L1582.6,1389.4 L1580.6,1389.1 L1578.6,1388.8 L1576.6,1388.6 L1574.6,1388.3 L1572.6,1388.1 L1570.6,1387.8 L1568.6,1387.6 L1566.6,1387.3 L1564.6,1387.1 L1562.6,1386.9 L1560.7,1386.7 L1558.7,1386.5 L1556.7,1386.3 L1554.7,1386.1Z" fill="#96cb75" fill-opacity="0.75"/>
<path d="M1556.7,1384.2 L1558.7,1383.6 L1560.7,1382.8 L1562.6,1381.8 L1564.6,1380.4 L1566.6,1378.6 L1568.6,1376.2 L1570.6,1373.3 L1572.6,1369.6 L1574.6,1365.2 L1576.6,1359.8 L1578.6,1353.4 L1580.6,1345.9 L1582.6,1337.2 L1584.6,1327.2 L1586.6,1316 L1588.6,1303.4 L1590.6,1289.6 L1592.6,1274.7 L1594.6,1258.6 L1596.6,1241.8 L1598.5,1224.3 L1600.5,1206.4 L1602.5,1188.6 L1604.5,1171.1 L1606.5,1154.4 L1608.5,1138.7 L1610.5,1124.6 L1612.5,1112.4 L1614.5,1102.4 L1616.5,1094.9 L1618.5,1090.1 L1620.5,1088.2 L1622.5,1089.1 L1624.5,1092.6 L1626.5,1098.6 L1628.5,1107 L1630.5,1117.5 L1632.4,1130 L1634.4,1144 L1636.4,1159.4 L1638.4,1175.8 L1640.4,1192.8 L1642.4,1210.2 L1644.4,1227.6 L1646.4,1244.7 L1648.4,1261.4 L1650.4,1277.4 L1652.4,1292.5 L1654.4,1306.5 L1656.4,1319.5 L1658.4,1331.3 L1660.4,1342 L1662.4,1351.5 L1664.4,1359.9 L1666.4,1367.3 L1668.3,1373.6 L1670.3,1379.1 L1672.3,1383.7 L1674.3,1387.6 L1676.3,1390.8 L1678.3,1393.5 L1680.3,1395.7 L1682.3,1397.5 L1684.3,1399 L1686.3,1400.2 L1688.3,1401.2" fill="none" stroke="#5aa040" stroke-width="1.2" stroke-opacity="0.7"/>
<path d="M1494.8,1380.3 L1496.8,1380.4 L1498.8,1380.4 L1500.8,1380.5 L1502.8,1380.6 L1504.8,1380.6 L1506.8,1380.7 L1508.8,1380.8 L1510.8,1380.8 L1512.8,1380.9 L1514.8,1380.9 L1516.8,1381 L1518.8,1381.1 L1520.8,1381.1 L1522.8,1381.2 L1524.8,1381.3 L1526.8,1381.4 L1528.7,1381.4 L1530.7,1381.5 L1532.7,1381.6 L1534.7,1381.7 L1536.7,1381.8 L1538.7,1381.9 L1540.7,1381.9 L1542.7,1382 L1544.7,1382.1 L1546.7,1382.2 L1548.7,1382.2 L1550.7,1382.3 L1552.7,1382.4 L1554.7,1382.4 L1556.7,1382.5 L1558.7,1382.5 L1560.7,1382.6 L1562.6,1382.6 L1564.6,1382.7 L1566.6,1382.7 L1568.6,1382.8 L1570.6,1382.8 L1572.6,1382.8 L1574.6,1382.8 L1576.6,1382.8 L1578.6,1382.8 L1580.6,1382.7 L1582.6,1382.7 L1584.6,1382.6 L1586.6,1382.4 L1588.6,1382.2 L1590.6,1382 L1592.6,1381.6 L1594.6,1381 L1596.6,1380.3 L1598.5,1379.3 L1600.5,1378 L1602.5,1376.2 L1604.5,1373.8 L1606.5,1370.8 L1608.5,1367 L1610.5,1362 L1612.5,1355.9 L1614.5,1348.3 L1616.5,1339 L1618.5,1327.8 L1620.5,1314.5 L1622.5,1298.8 L1624.5,1280.5 L1626.5,1259.7 L1628.5,1236.1 L1630.5,1209.8 L1632.4,1181 L1634.4,1150 L1636.4,1116.9 L1638.4,1082.5 L1640.4,1047.1 L1642.4,1011.7 L1644.4,977 L1646.4,943.9 L1648.4,913.4 L1650.4,886.5 L1652.4,864.2 L1654.4,847.3 L1656.4,836.6 L1658.4,832.6 L1660.4,835.4 L1662.4,844.6 L1664.4,859.9 L1666.4,880.6 L1668.3,906 L1670.3,935.1 L1672.3,967.1 L1674.3,1000.9 L1676.3,1035.8 L1678.3,1070.9 L1680.3,1105.5 L1682.3,1139 L1684.3,1170.8 L1686.3,1200.6 L1688.3,1228 L1690.3,1253 L1692.3,1275.4 L1694.3,1295.2 L1696.3,1312.6 L1698.3,1327.6 L1700.3,1340.4 L1702.2,1351.2 L1704.2,1360.2 L1706.2,1367.8 L1708.2,1373.9 L1710.2,1379 L1712.2,1383.1 L1714.2,1386.4 L1716.2,1389.1 L1718.2,1391.2 L1720.2,1393 L1722.2,1394.4 L1724.2,1395.6 L1726.2,1396.6 L1728.2,1397.4 L1730.2,1398.1 L1732.2,1398.7 L1734.2,1399.2 L1736.1,1399.6 L1738.1,1400 L1740.1,1400.4 L1742.1,1400.8 L1744.1,1401.1 L1746.1,1401.3 L1748.1,1401.6 L1750.1,1401.9 L1752.1,1402.1 L1754.1,1402.3 L1756.1,1402.5 L1758.1,1402.7 L1760.1,1402.8 L1762.1,1403 L1764.1,1403.1 L1766.1,1403.3 L1768.1,1403.4 L1770.1,1403.6 L1772,1403.7 L1774,1403.8 L1776,1403.9 L1778,1404 L1780,1404.1 L1782,1404.2 L1784,1404.3 L1786,1404.4 L1788,1404.5 L1788,1407 L1786,1407 L1784,1407 L1782,1406.9 L1780,1406.9 L1778,1406.9 L1776,1406.9 L1774,1406.9 L1772,1406.9 L1770.1,1406.9 L1768.1,1406.9 L1766.1,1406.9 L1764.1,1406.9 L1762.1,1406.8 L1760.1,1406.8 L1758.1,1406.8 L1756.1,1406.8 L1754.1,1406.8 L1752.1,1406.7 L1750.1,1406.7 L1748.1,1406.7 L1746.1,1406.6 L1744.1,1406.6 L1742.1,1406.6 L1740.1,1406.5 L1738.1,1406.4 L1736.1,1406.4 L1734.2,1406.3 L1732.2,1406.2 L1730.2,1406.2 L1728.2,1406.1 L1726.2,1406 L1724.2,1405.9 L1722.2,1405.8 L1720.2,1405.7 L1718.2,1405.6 L1716.2,1405.5 L1714.2,1405.4 L1712.2,1405.3 L1710.2,1405.2 L1708.2,1405 L1706.2,1404.9 L1704.2,1404.8 L1702.2,1404.7 L1700.3,1404.5 L1698.3,1404.4 L1696.3,1404.2 L1694.3,1404.1 L1692.3,1403.9 L1690.3,1403.8 L1688.3,1403.6 L1686.3,1403.5 L1684.3,1403.3 L1682.3,1403.1 L1680.3,1403 L1678.3,1402.8 L1676.3,1402.6 L1674.3,1402.4 L1672.3,1402.2 L1670.3,1402 L1668.3,1401.9 L1666.4,1401.7 L1664.4,1401.5 L1662.4,1401.2 L1660.4,1401 L1658.4,1400.8 L1656.4,1400.6 L1654.4,1400.4 L1652.4,1400.2 L1650.4,1399.9 L1648.4,1399.7 L1646.4,1399.5 L1644.4,1399.3 L1642.4,1399 L1640.4,1398.8 L1638.4,1398.5 L1636.4,1398.3 L1634.4,1398 L1632.4,1397.8 L1630.5,1397.5 L1628.5,1397.2 L1626.5,1396.9 L1624.5,1396.7 L1622.5,1396.4 L1620.5,1396.1 L1618.5,1395.8 L1616.5,1395.4 L1614.5,1395.1 L1612.5,1394.8 L1610.5,1394.4 L1608.5,1394 L1606.5,1393.7 L1604.5,1393.3 L1602.5,1392.9 L1600.5,1392.5 L1598.5,1392.1 L1596.6,1391.8 L1594.6,1391.4 L1592.6,1391 L1590.6,1390.7 L1588.6,1390.3 L1586.6,1390 L1584.6,1389.7 L1582.6,1389.4 L1580.6,1389.1 L1578.6,1388.8 L1576.6,1388.6 L1574.6,1388.3 L1572.6,1388.1 L1570.6,1387.8 L1568.6,1387.6 L1566.6,1387.3 L1564.6,1387.1 L1562.6,1386.9 L1560.7,1386.7 L1558.7,1386.5 L1556.7,1386.3 L1554.7,1386.1 L1552.7,1385.9 L1550.7,1385.7 L1548.7,1385.5 L1546.7,1385.3 L1544.7,1385.2 L1542.7,1385 L1540.7,1384.8 L1538.7,1384.6 L1536.7,1384.5 L1534.7,1384.3 L1532.7,1384.1 L1530.7,1384 L1528.7,1383.8 L1526.8,1383.7 L1524.8,1383.5 L1522.8,1383.4 L1520.8,1383.3 L1518.8,1383.1 L1516.8,1383 L1514.8,1382.9 L1512.8,1382.8 L1510.8,1382.7 L1508.8,1382.6 L1506.8,1382.4 L1504.8,1382.3 L1502.8,1382.2 L1500.8,1382.1 L1498.8,1382 L1496.8,1381.9 L1494.8,1381.8Z" fill="#96cb75" fill-opacity="0.75"/>
<path d="M1480.9,1379.4 L1482.9,1379.2 L1484.9,1378.9 L1486.9,1378.5 L1488.9,1378.1 L1490.9,1377.6 L1492.9,1376.9 L1494.8,1376.2 L1496.8,1375.4 L1498.8,1374.4 L1500.8,1373.3 L1502.8,1372.1 L1504.8,1370.7 L1506.8,1369.2 L1508.8,1367.5 L1510.8,1365.7 L1512.8,1363.8 L1514.8,1361.7 L1516.8,1359.4 L1518.8,1357.1 L1520.8,1354.6 L1522.8,1352 L1524.8,1349.4 L1526.8,1346.7 L1528.7,1344 L1530.7,1341.2 L1532.7,1338.5 L1534.7,1335.9 L1536.7,1333.4 L1538.7,1330.9 L1540.7,1328.7 L1542.7,1326.6 L1544.7,1324.7 L1546.7,1323.1 L1548.7,1321.8 L1550.7,1320.7 L1552.7,1320 L1554.7,1319.6 L1556.7,1319.6 L1558.7,1319.8 L1560.7,1320.4 L1562.6,1321.2 L1564.6,1322.3 L1566.6,1323.7 L1568.6,1325.3 L1570.6,1327.2 L1572.6,1329.3 L1574.6,1331.6 L1576.6,1334 L1578.6,1336.6 L1580.6,1339.3 L1582.6,1342.1 L1584.6,1345 L1586.6,1347.9 L1588.6,1350.9 L1590.6,1353.9 L1592.6,1356.8 L1594.6,1359.8 L1596.6,1362.6 L1598.5,1365.4 L1600.5,1368.1 L1602.5,1370.7 L1604.5,1373.2 L1606.5,1375.5 L1608.5,1377.7 L1610.5,1379.8 L1612.5,1381.8 L1614.5,1383.6 L1616.5,1385.3 L1618.5,1386.8 L1620.5,1388.2 L1622.5,1389.5 L1624.5,1390.7 L1626.5,1391.8 L1628.5,1392.8 L1630.5,1393.7 L1632.4,1394.5 L1634.4,1395.3 L1636.4,1395.9 L1638.4,1396.6 L1640.4,1397.1 L1640.4,1398.8 L1638.4,1398.5 L1636.4,1398.3 L1634.4,1398 L1632.4,1397.8 L1630.5,1397.5 L1628.5,1397.2 L1626.5,1396.9 L1624.5,1396.7 L1622.5,1396.4 L1620.5,1396.1 L1618.5,1395.8 L1616.5,1395.4 L1614.5,1395.1 L1612.5,1394.8 L1610.5,1394.4 L1608.5,1394 L1606.5,1393.7 L1604.5,1393.3 L1602.5,1392.9 L1600.5,1392.5 L1598.5,1392.1 L1596.6,1391.8 L1594.6,1391.4 L1592.6,1391 L1590.6,1390.7 L1588.6,1390.3 L1586.6,1390 L1584.6,1389.7 L1582.6,1389.4 L1580.6,1389.1 L1578.6,1388.8 L1576.6,1388.6 L1574.6,1388.3 L1572.6,1388.1 L1570.6,1387.8 L1568.6,1387.6 L1566.6,1387.3 L1564.6,1387.1 L1562.6,1386.9 L1560.7,1386.7 L1558.7,1386.5 L1556.7,1386.3 L1554.7,1386.1 L1552.7,1385.9 L1550.7,1385.7 L1548.7,1385.5 L1546.7,1385.3 L1544.7,1385.2 L1542.7,1385 L1540.7,1384.8 L1538.7,1384.6 L1536.7,1384.5 L1534.7,1384.3 L1532.7,1384.1 L1530.7,1384 L1528.7,1383.8 L1526.8,1383.7 L1524.8,1383.5 L1522.8,1383.4 L1520.8,1383.3 L1518.8,1383.1 L1516.8,1383 L1514.8,1382.9 L1512.8,1382.8 L1510.8,1382.7 L1508.8,1382.6 L1506.8,1382.4 L1504.8,1382.3 L1502.8,1382.2 L1500.8,1382.1 L1498.8,1382 L1496.8,1381.9 L1494.8,1381.8 L1492.9,1381.7 L1490.9,1381.6 L1488.9,1381.5 L1486.9,1381.4 L1484.9,1381.3 L1482.9,1381.2 L1480.9,1381.1Z" fill="#ffb4d2" fill-opacity="0.75"/>
<path d="M1484.9,1378.9 L1486.9,1378.5 L1488.9,1378.1 L1490.9,1377.6 L1492.9,1376.9 L1494.8,1376.2 L1496.8,1375.4 L1498.8,1374.4 L1500.8,1373.3 L1502.8,1372.1 L1504.8,1370.7 L1506.8,1369.2 L1508.8,1367.5 L1510.8,1365.7 L1512.8,1363.8 L1514.8,1361.7 L1516.8,1359.4 L1518.8,1357.1 L1520.8,1354.6 L1522.8,1352 L1524.8,1349.4 L1526.8,1346.7 L1528.7,1344 L1530.7,1341.2 L1532.7,1338.5 L1534.7,1335.9 L1536.7,1333.4 L1538.7,1330.9 L1540.7,1328.7 L1542.7,1326.6 L1544.7,1324.7 L1546.7,1323.1 L1548.7,1321.8 L1550.7,1320.7 L1552.7,1320 L1554.7,1319.6 L1556.7,1319.6 L1558.7,1319.8 L1560.7,1320.4 L1562.6,1321.2 L1564.6,1322.3 L1566.6,1323.7 L1568.6,1325.3 L1570.6,1327.2 L1572.6,1329.3 L1574.6,1331.6 L1576.6,1334 L1578.6,1336.6 L1580.6,1339.3 L1582.6,1342.1 L1584.6,1345 L1586.6,1347.9 L1588.6,1350.9 L1590.6,1353.9 L1592.6,1356.8 L1594.6,1359.8 L1596.6,1362.6 L1598.5,1365.4 L1600.5,1368.1 L1602.5,1370.7 L1604.5,1373.2 L1606.5,1375.5 L1608.5,1377.7 L1610.5,1379.8 L1612.5,1381.8 L1614.5,1383.6 L1616.5,1385.3 L1618.5,1386.8 L1620.5,1388.2 L1622.5,1389.5 L1624.5,1390.7 L1626.5,1391.8 L1628.5,1392.8 L1630.5,1393.7 L1632.4,1394.5 L1634.4,1395.3 L1636.4,1395.9" fill="none" stroke="#ff90c0" stroke-width="1.2" stroke-opacity="0.6"/>
<path d="M1526.8,1382.1 L1528.7,1381.7 L1530.7,1381.3 L1532.7,1380.7 L1534.7,1379.9 L1536.7,1378.9 L1538.7,1377.6 L1540.7,1376.1 L1542.7,1374.3 L1544.7,1372.1 L1546.7,1369.5 L1548.7,1366.5 L1550.7,1363.1 L1552.7,1359.2 L1554.7,1354.8 L1556.7,1349.9 L1558.7,1344.5 L1560.7,1338.7 L1562.6,1332.5 L1564.6,1325.9 L1566.6,1319 L1568.6,1311.9 L1570.6,1304.7 L1572.6,1297.6 L1574.6,1290.5 L1576.6,1283.8 L1578.6,1277.5 L1580.6,1271.7 L1582.6,1266.6 L1584.6,1262.4 L1586.6,1259.1 L1588.6,1256.7 L1590.6,1255.5 L1592.6,1255.3 L1594.6,1256.1 L1596.6,1257.8 L1598.5,1260.2 L1600.5,1263.4 L1602.5,1267.3 L1604.5,1271.9 L1606.5,1277 L1608.5,1282.7 L1610.5,1288.7 L1612.5,1295 L1614.5,1301.6 L1616.5,1308.3 L1618.5,1315.1 L1620.5,1321.8 L1622.5,1328.4 L1624.5,1334.9 L1626.5,1341.1 L1628.5,1347.1 L1630.5,1352.7 L1632.4,1358 L1634.4,1363 L1636.4,1367.6 L1638.4,1371.8 L1640.4,1375.6 L1642.4,1379.1 L1644.4,1382.2 L1646.4,1385 L1648.4,1387.5 L1650.4,1389.7 L1652.4,1391.6 L1654.4,1393.3 L1656.4,1394.8 L1658.4,1396 L1660.4,1397.1 L1662.4,1398.1 L1664.4,1398.9 L1666.4,1399.6 L1668.3,1400.2 L1668.3,1401.9 L1666.4,1401.7 L1664.4,1401.5 L1662.4,1401.2 L1660.4,1401 L1658.4,1400.8 L1656.4,1400.6 L1654.4,1400.4 L1652.4,1400.2 L1650.4,1399.9 L1648.4,1399.7 L1646.4,1399.5 L1644.4,1399.3 L1642.4,1399 L1640.4,1398.8 L1638.4,1398.5 L1636.4,1398.3 L1634.4,1398 L1632.4,1397.8 L1630.5,1397.5 L1628.5,1397.2 L1626.5,1396.9 L1624.5,1396.7 L1622.5,1396.4 L1620.5,1396.1 L1618.5,1395.8 L1616.5,1395.4 L1614.5,1395.1 L1612.5,1394.8 L1610.5,1394.4 L1608.5,1394 L1606.5,1393.7 L1604.5,1393.3 L1602.5,1392.9 L1600.5,1392.5 L1598.5,1392.1 L1596.6,1391.8 L1594.6,1391.4 L1592.6,1391 L1590.6,1390.7 L1588.6,1390.3 L1586.6,1390 L1584.6,1389.7 L1582.6,1389.4 L1580.6,1389.1 L1578.6,1388.8 L1576.6,1388.6 L1574.6,1388.3 L1572.6,1388.1 L1570.6,1387.8 L1568.6,1387.6 L1566.6,1387.3 L1564.6,1387.1 L1562.6,1386.9 L1560.7,1386.7 L1558.7,1386.5 L1556.7,1386.3 L1554.7,1386.1 L1552.7,1385.9 L1550.7,1385.7 L1548.7,1385.5 L1546.7,1385.3 L1544.7,1385.2 L1542.7,1385 L1540.7,1384.8 L1538.7,1384.6 L1536.7,1384.5 L1534.7,1384.3 L1532.7,1384.1 L1530.7,1384 L1528.7,1383.8 L1526.8,1383.7Z" fill="#ffb4d2" fill-opacity="0.75"/>
<path d="M1548.8,1384.9 L1549.8,1384.9 L1550.8,1384.9 L1551.8,1384.8 L1552.8,1384.8 L1553.8,1384.7 L1554.8,1384.5 L1555.8,1384.4 L1556.8,1384.1 L1557.8,1383.9 L1558.8,1383.6 L1559.8,1383.2 L1560.8,1382.8 L1561.8,1382.3 L1562.8,1381.7 L1563.8,1381 L1564.8,1380.3 L1565.8,1379.4 L1566.8,1378.4 L1567.8,1377.3 L1568.8,1376 L1569.8,1374.6 L1570.8,1373 L1571.8,1371.2 L1572.8,1369.3 L1573.8,1367.1 L1574.8,1364.7 L1575.8,1362.1 L1576.8,1359.2 L1577.8,1356.1 L1578.8,1352.7 L1579.8,1349 L1580.8,1345.1 L1581.8,1340.8 L1582.8,1336.2 L1583.8,1331.3 L1584.8,1326.1 L1585.8,1320.5 L1586.8,1314.6 L1587.8,1308.4 L1588.8,1301.9 L1589.8,1295 L1590.8,1287.9 L1591.8,1280.4 L1592.8,1272.7 L1593.8,1264.7 L1594.8,1256.5 L1595.8,1257.1 L1596.8,1258 L1597.8,1259.2 L1598.8,1260.6 L1599.8,1262.2 L1600.8,1263.9 L1601.8,1265.8 L1602.8,1267.9 L1603.8,1270.2 L1604.8,1272.6 L1605.8,1275.2 L1606.8,1277.9 L1607.8,1280.7 L1608.8,1283.6 L1609.8,1286.6 L1610.8,1289.7 L1611.8,1292.9 L1612.8,1296.1 L1613.8,1299.4 L1614.8,1302.7 L1615.8,1306.1 L1616.8,1309.5 L1617.8,1312.9 L1618.8,1316.3 L1619.8,1319.7 L1620.8,1323 L1621.8,1326.3 L1622.8,1329.6 L1623.8,1332.9 L1624.8,1336.1 L1625.8,1339.2 L1626.8,1342.3 L1627.8,1345.3 L1628.8,1348.2 L1629.8,1351.1 L1630.8,1353.8 L1631.8,1356.5 L1632.9,1359.1 L1633.9,1361.6 L1634.9,1364 L1635.9,1366.3 L1636.9,1368.5 L1637.9,1370.6 L1638.9,1372.6 L1639.9,1374.6 L1640.9,1376.4 L1641.9,1378.2 L1642.9,1379.8 L1643.9,1381.4 L1644.9,1382.9 L1645.9,1384.3 L1646.9,1385.6 L1647.9,1386.9 L1648.9,1388 L1649.9,1389.1 L1650.9,1390.2 L1651.9,1391.1 L1652.9,1392 L1653.9,1392.9 L1654.9,1393.7 L1655.9,1394.4 L1656.9,1395.1 L1657.9,1395.7 L1658.9,1396.3 L1659.9,1396.9 L1660.9,1397.4 L1661.9,1397.9 L1662.9,1398.3 L1663.9,1398.7 L1664.9,1399.1 L1665.9,1399.5 L1666.9,1399.8 L1667.9,1400.1 L1668.9,1400.4 L1669.9,1400.7 L1670.9,1400.9 L1671.9,1401.1 L1672.9,1401.4 L1673.9,1401.6 L1674.9,1401.8 L1675.9,1401.9 L1676.9,1402.1 L1676.9,1402.7 L1675.9,1402.6 L1674.9,1402.5 L1673.9,1402.4 L1672.9,1402.3 L1671.9,1402.2 L1670.9,1402.1 L1669.9,1402 L1668.9,1401.9 L1667.9,1401.8 L1666.9,1401.7 L1665.9,1401.6 L1664.9,1401.5 L1663.9,1401.4 L1662.9,1401.3 L1661.9,1401.2 L1660.9,1401.1 L1659.9,1401 L1658.9,1400.9 L1657.9,1400.8 L1656.9,1400.7 L1655.9,1400.6 L1654.9,1400.4 L1653.9,1400.3 L1652.9,1400.2 L1651.9,1400.1 L1650.9,1400 L1649.9,1399.9 L1648.9,1399.8 L1647.9,1399.7 L1646.9,1399.5 L1645.9,1399.4 L1644.9,1399.3 L1643.9,1399.2 L1642.9,1399.1 L1641.9,1398.9 L1640.9,1398.8 L1639.9,1398.7 L1638.9,1398.6 L1637.9,1398.5 L1636.9,1398.3 L1635.9,1398.2 L1634.9,1398.1 L1633.9,1397.9 L1632.9,1397.8 L1631.8,1397.7 L1630.8,1397.5 L1629.8,1397.4 L1628.8,1397.3 L1627.8,1397.1 L1626.8,1397 L1625.8,1396.9 L1624.8,1396.7 L1623.8,1396.6 L1622.8,1396.4 L1621.8,1396.3 L1620.8,1396.1 L1619.8,1396 L1618.8,1395.8 L1617.8,1395.7 L1616.8,1395.5 L1615.8,1395.3 L1614.8,1395.2 L1613.8,1395 L1612.8,1394.8 L1611.8,1394.6 L1610.8,1394.5 L1609.8,1394.3 L1608.8,1394.1 L1607.8,1393.9 L1606.8,1393.7 L1605.8,1393.5 L1604.8,1393.3 L1603.8,1393.2 L1602.8,1393 L1601.8,1392.8 L1600.8,1392.6 L1599.8,1392.4 L1598.8,1392.2 L1597.8,1392 L1596.8,1391.8 L1595.8,1391.6 L1594.8,1391.4 L1593.8,1391.3 L1592.8,1391.1 L1591.8,1390.9 L1590.8,1390.7 L1589.8,1390.5 L1588.8,1390.4 L1587.8,1390.2 L1586.8,1390 L1585.8,1389.9 L1584.8,1389.7 L1583.8,1389.5 L1582.8,1389.4 L1581.8,1389.3 L1580.8,1389.1 L1579.8,1389 L1578.8,1388.8 L1577.8,1388.7 L1576.8,1388.6 L1575.8,1388.4 L1574.8,1388.3 L1573.8,1388.2 L1572.8,1388.1 L1571.8,1388 L1570.8,1387.8 L1569.8,1387.7 L1568.8,1387.6 L1567.8,1387.5 L1566.8,1387.4 L1565.8,1387.3 L1564.8,1387.1 L1563.8,1387 L1562.8,1386.9 L1561.8,1386.8 L1560.8,1386.7 L1559.8,1386.6 L1558.8,1386.5 L1557.8,1386.4 L1556.8,1386.3 L1555.8,1386.2 L1554.8,1386.1 L1553.8,1386 L1552.8,1385.9 L1551.8,1385.8 L1550.8,1385.7 L1549.8,1385.6 L1548.8,1385.5Z" fill="#e0b4a8" fill-opacity="1.0"/>
<path d="M1548.8,1384.9 L1549.8,1384.9 L1550.8,1384.9 L1551.8,1384.8 L1552.8,1384.8 L1553.8,1384.7 L1554.8,1384.5 L1555.8,1384.4 L1556.8,1384.1 L1557.8,1383.9 L1558.8,1383.6 L1559.8,1383.2 L1560.8,1382.8 L1561.8,1382.3 L1562.8,1381.7 L1563.8,1381 L1564.8,1380.3 L1565.8,1379.4 L1566.8,1378.4 L1567.8,1377.3 L1568.8,1376 L1569.8,1374.6 L1570.8,1373 L1571.8,1371.2 L1572.8,1369.3 L1573.8,1367.1 L1574.8,1364.7 L1575.8,1362.1 L1576.8,1359.2 L1577.8,1356.1 L1578.8,1352.7 L1579.8,1349 L1580.8,1345.1 L1581.8,1341 L1582.8,1342.4 L1583.8,1343.8 L1584.8,1345.3 L1585.8,1346.8 L1586.8,1348.3 L1587.8,1349.8 L1588.8,1351.3 L1589.8,1352.7 L1590.8,1354.2 L1591.8,1355.7 L1592.8,1357.2 L1593.8,1358.7 L1594.8,1360.1 L1595.8,1361.6 L1596.8,1363 L1597.8,1364.4 L1598.8,1365.8 L1599.8,1367.1 L1600.8,1368.5 L1601.8,1369.8 L1602.8,1371 L1603.8,1372.3 L1604.8,1373.5 L1605.8,1374.7 L1606.8,1375.8 L1607.8,1377 L1608.8,1378.1 L1609.8,1379.1 L1610.8,1380.1 L1611.8,1381.1 L1612.8,1382.1 L1613.8,1383 L1614.8,1383.9 L1615.8,1384.7 L1616.8,1385.5 L1617.8,1386.3 L1618.8,1387.1 L1619.8,1387.8 L1620.8,1388.5 L1621.8,1389.1 L1622.8,1389.8 L1623.8,1390.4 L1624.8,1390.9 L1625.8,1391.5 L1626.8,1392 L1627.8,1392.5 L1628.8,1393 L1629.8,1393.4 L1630.8,1393.9 L1631.8,1394.3 L1632.9,1394.7 L1633.9,1395.1 L1634.9,1395.4 L1635.9,1395.8 L1636.9,1396.1 L1637.9,1396.4 L1638.9,1396.7 L1639.9,1397 L1640.9,1397.2 L1641.9,1397.5 L1642.9,1397.7 L1643.9,1398 L1644.9,1398.2 L1645.9,1398.4 L1646.9,1398.6 L1647.9,1398.8 L1648.9,1399 L1649.9,1399.2 L1650.9,1399.4 L1651.9,1399.6 L1651.9,1400.1 L1650.9,1400 L1649.9,1399.9 L1648.9,1399.8 L1647.9,1399.7 L1646.9,1399.5 L1645.9,1399.4 L1644.9,1399.3 L1643.9,1399.2 L1642.9,1399.1 L1641.9,1398.9 L1640.9,1398.8 L1639.9,1398.7 L1638.9,1398.6 L1637.9,1398.5 L1636.9,1398.3 L1635.9,1398.2 L1634.9,1398.1 L1633.9,1397.9 L1632.9,1397.8 L1631.8,1397.7 L1630.8,1397.5 L1629.8,1397.4 L1628.8,1397.3 L1627.8,1397.1 L1626.8,1397 L1625.8,1396.9 L1624.8,1396.7 L1623.8,1396.6 L1622.8,1396.4 L1621.8,1396.3 L1620.8,1396.1 L1619.8,1396 L1618.8,1395.8 L1617.8,1395.7 L1616.8,1395.5 L1615.8,1395.3 L1614.8,1395.2 L1613.8,1395 L1612.8,1394.8 L1611.8,1394.6 L1610.8,1394.5 L1609.8,1394.3 L1608.8,1394.1 L1607.8,1393.9 L1606.8,1393.7 L1605.8,1393.5 L1604.8,1393.3 L1603.8,1393.2 L1602.8,1393 L1601.8,1392.8 L1600.8,1392.6 L1599.8,1392.4 L1598.8,1392.2 L1597.8,1392 L1596.8,1391.8 L1595.8,1391.6 L1594.8,1391.4 L1593.8,1391.3 L1592.8,1391.1 L1591.8,1390.9 L1590.8,1390.7 L1589.8,1390.5 L1588.8,1390.4 L1587.8,1390.2 L1586.8,1390 L1585.8,1389.9 L1584.8,1389.7 L1583.8,1389.5 L1582.8,1389.4 L1581.8,1389.3 L1580.8,1389.1 L1579.8,1389 L1578.8,1388.8 L1577.8,1388.7 L1576.8,1388.6 L1575.8,1388.4 L1574.8,1388.3 L1573.8,1388.2 L1572.8,1388.1 L1571.8,1388 L1570.8,1387.8 L1569.8,1387.7 L1568.8,1387.6 L1567.8,1387.5 L1566.8,1387.4 L1565.8,1387.3 L1564.8,1387.1 L1563.8,1387 L1562.8,1386.9 L1561.8,1386.8 L1560.8,1386.7 L1559.8,1386.6 L1558.8,1386.5 L1557.8,1386.4 L1556.8,1386.3 L1555.8,1386.2 L1554.8,1386.1 L1553.8,1386 L1552.8,1385.9 L1551.8,1385.8 L1550.8,1385.7 L1549.8,1385.6 L1548.8,1385.5Z" fill="#e6b8b0" fill-opacity="0.9"/>
<path d="M1447,1377.2 L1449,1376.9 L1451,1376.6 L1453,1376.2 L1455,1375.8 L1457,1375.2 L1458.9,1374.6 L1460.9,1373.9 L1462.9,1373 L1464.9,1372.1 L1466.9,1371.1 L1468.9,1369.9 L1470.9,1368.6 L1472.9,1367.3 L1474.9,1365.8 L1476.9,1364.3 L1478.9,1362.7 L1480.9,1361.1 L1482.9,1359.4 L1484.9,1357.8 L1486.9,1356.1 L1488.9,1354.6 L1490.9,1353.1 L1492.9,1351.8 L1494.8,1350.6 L1496.8,1349.5 L1498.8,1348.7 L1500.8,1348 L1502.8,1347.6 L1504.8,1347.5 L1506.8,1347.6 L1508.8,1347.8 L1510.8,1348.3 L1512.8,1348.9 L1514.8,1349.7 L1516.8,1350.6 L1518.8,1351.7 L1520.8,1352.9 L1522.8,1354.2 L1524.8,1355.6 L1526.8,1357.1 L1528.7,1358.7 L1530.7,1360.3 L1532.7,1362 L1534.7,1363.7 L1536.7,1365.3 L1538.7,1367 L1540.7,1368.6 L1542.7,1370.2 L1544.7,1371.7 L1546.7,1373.2 L1548.7,1374.6 L1550.7,1375.9 L1552.7,1377.2 L1554.7,1378.4 L1556.7,1379.5 L1558.7,1380.5 L1560.7,1381.5 L1562.6,1382.4 L1564.6,1383.2 L1566.6,1384 L1568.6,1384.7 L1570.6,1385.4 L1572.6,1386 L1574.6,1386.6 L1574.6,1388.3 L1572.6,1388.1 L1570.6,1387.8 L1568.6,1387.6 L1566.6,1387.3 L1564.6,1387.1 L1562.6,1386.9 L1560.7,1386.7 L1558.7,1386.5 L1556.7,1386.3 L1554.7,1386.1 L1552.7,1385.9 L1550.7,1385.7 L1548.7,1385.5 L1546.7,1385.3 L1544.7,1385.2 L1542.7,1385 L1540.7,1384.8 L1538.7,1384.6 L1536.7,1384.5 L1534.7,1384.3 L1532.7,1384.1 L1530.7,1384 L1528.7,1383.8 L1526.8,1383.7 L1524.8,1383.5 L1522.8,1383.4 L1520.8,1383.3 L1518.8,1383.1 L1516.8,1383 L1514.8,1382.9 L1512.8,1382.8 L1510.8,1382.7 L1508.8,1382.6 L1506.8,1382.4 L1504.8,1382.3 L1502.8,1382.2 L1500.8,1382.1 L1498.8,1382 L1496.8,1381.9 L1494.8,1381.8 L1492.9,1381.7 L1490.9,1381.6 L1488.9,1381.5 L1486.9,1381.4 L1484.9,1381.3 L1482.9,1381.2 L1480.9,1381.1 L1478.9,1380.9 L1476.9,1380.8 L1474.9,1380.7 L1472.9,1380.5 L1470.9,1380.4 L1468.9,1380.3 L1466.9,1380.1 L1464.9,1380 L1462.9,1379.8 L1460.9,1379.7 L1458.9,1379.5 L1457,1379.4 L1455,1379.3 L1453,1379.1 L1451,1379 L1449,1378.9 L1447,1378.8Z" fill="#7878ff" fill-opacity="0.7"/>
<path d="M1451,1376.6 L1453,1376.2 L1455,1375.8 L1457,1375.2 L1458.9,1374.6 L1460.9,1373.9 L1462.9,1373 L1464.9,1372.1 L1466.9,1371.1 L1468.9,1369.9 L1470.9,1368.6 L1472.9,1367.3 L1474.9,1365.8 L1476.9,1364.3 L1478.9,1362.7 L1480.9,1361.1 L1482.9,1359.4 L1484.9,1357.8 L1486.9,1356.1 L1488.9,1354.6 L1490.9,1353.1 L1492.9,1351.8 L1494.8,1350.6 L1496.8,1349.5 L1498.8,1348.7 L1500.8,1348 L1502.8,1347.6 L1504.8,1347.5 L1506.8,1347.6 L1508.8,1347.8 L1510.8,1348.3 L1512.8,1348.9 L1514.8,1349.7 L1516.8,1350.6 L1518.8,1351.7 L1520.8,1352.9 L1522.8,1354.2 L1524.8,1355.6 L1526.8,1357.1 L1528.7,1358.7 L1530.7,1360.3 L1532.7,1362 L1534.7,1363.7 L1536.7,1365.3 L1538.7,1367 L1540.7,1368.6 L1542.7,1370.2 L1544.7,1371.7 L1546.7,1373.2 L1548.7,1374.6 L1550.7,1375.9 L1552.7,1377.2 L1554.7,1378.4 L1556.7,1379.5 L1558.7,1380.5 L1560.7,1381.5 L1562.6,1382.4 L1564.6,1383.2 L1566.6,1384 L1568.6,1384.7 L1570.6,1385.4 L1572.6,1386" fill="none" stroke="#4848ff" stroke-width="1.2" stroke-opacity="0.5"/>
<path d="M1267.5,1377.7 L1271.8,1377.6 L1276.3,1377.6 L1281,1377.6 L1285.7,1377.6 L1290.3,1377.6 L1294.9,1377.6 L1299.3,1377.5 L1303.5,1377.4 L1307.3,1377.2 L1310.7,1377 L1313.7,1376.6 L1319.5,1375 L1324.4,1373.4 L1329.8,1372.5 L1335.2,1371.3 L1340.8,1368.8 L1345.9,1365.9 L1348.6,1363.7 L1351.3,1361.6 L1356.7,1359.6 L1362,1357.3 L1364.7,1353.6 L1367.4,1349.8 L1372.8,1347.1 L1378.1,1344.4 L1380.8,1340.8 L1383.5,1336.9 L1386.7,1334 L1390.4,1331.1 L1394.2,1328.3 L1397.8,1325.7 L1401.4,1323.2 L1405,1320.8 L1408.5,1318.5 L1412.1,1316.3 L1415.7,1314.4 L1421.1,1312.3 L1426.4,1311.1 L1430.2,1311.3 L1433.9,1312.2 L1437.7,1314.4 L1441.4,1316 L1445.2,1314 L1449,1312.2 L1452.6,1314.6 L1456.5,1317.6 L1460.4,1318.4 L1464.8,1318.5 L1469.4,1318.5 L1473.3,1318.5 L1477.4,1318.5 L1481.5,1318.3 L1485.5,1317.9 L1490.3,1317.1 L1495,1316.1 L1499.2,1314.5 L1504,1311.3 L1508.3,1307.6 L1511.4,1305.1 L1514.6,1302.6 L1517.4,1299.7 L1519.8,1296 L1522,1292 L1524.2,1288.3 L1527.6,1284.3 L1531,1280.3 L1533.3,1276.8 L1535.5,1273 L1537.9,1269 L1540.3,1265.4 L1542.9,1261.7 L1545.6,1257.9 L1548.1,1254.1 L1550.5,1250.5 L1552.8,1246.8 L1555,1243.1 L1557.2,1239.4 L1559.3,1235.5 L1561.4,1231.6 L1563.3,1227.5 L1565.2,1223.4 L1567,1218.9 L1568.7,1214.2 L1570.4,1209.5 L1572,1205 L1573.5,1201.2 L1575.1,1197.6 L1576.6,1193.9 L1578,1190 L1579.3,1186.3 L1580.5,1182.4 L1581.7,1178.5 L1582.9,1174.3 L1584,1170 L1584.9,1166.1 L1585.8,1162.1 L1586.7,1157.9 L1587.6,1153.6 L1588.4,1149.2 L1589.2,1144.7 L1590,1140 L1590.6,1136.2 L1591.2,1132.4 L1591.8,1128.4 L1592.3,1124.3 L1592.9,1120.2 L1593.4,1116 L1593.9,1111.7 L1594.5,1107.5 L1595,1103.1 L1595.6,1098.8 L1596.1,1094.5 L1596.6,1090.5 L1597.1,1086.5 L1597.6,1082.4 L1598.1,1078.3 L1598.6,1074.1 L1599.1,1069.9 L1599.6,1065.7 L1600.1,1061.5 L1600.6,1057.3 L1601.1,1053.1 L1601.6,1048.9 L1602.1,1044.8 L1602.6,1040.6 L1603.1,1036.4 L1603.6,1032.2 L1604.1,1028 L1604.6,1023.8 L1605.1,1019.6 L1605.6,1015.3 L1606.1,1011.1 L1606.6,1006.9 L1607,1002.8 L1607.6,998.6 L1608.1,994.6 L1608.6,990.6 L1609.1,986.6 L1609.7,982.1 L1610.4,977.6 L1611,973.1 L1611.7,968.7 L1612.4,964.4 L1613,960.1 L1613.7,955.8 L1614.3,951.7 L1614.9,947.5 L1615.5,943.5 L1616.1,939.2 L1616.7,934.9 L1617.2,930.7 L1617.7,926.6 L1618.3,922.6 L1618.8,918.7 L1619.3,914.8 L1619.9,911.1 L1620.6,906.3 L1621.4,901.7 L1622.1,897.3 L1622.9,893 L1623.8,889 L1625.1,884.1 L1626.6,879.6 L1628,874.9 L1629,870.6 L1630,866.1 L1631,861.8 L1632.3,858 L1635,853.7 L1637.9,849.5 L1639.9,845.2 L1641.8,840.5 L1643.5,835.4 L1644.5,831.5 L1645.3,827.4 L1646.1,823.2 L1646.9,818.8 L1647.7,814.3 L1648.4,810.3 L1649.2,806 L1649.9,801.6 L1650.7,797.2 L1651.5,793 L1652.4,789.3 L1653.4,786.1 L1655.9,780.4 L1658.3,777.7 L1659.3,778.9 L1660.1,781.9 L1660.8,786.1 L1661.5,791.3 L1662.1,796.8 L1662.6,802.3 L1663.2,807.3 L1663.7,811.2 L1664.1,815.2 L1664.5,819.4 L1664.9,823.6 L1665.2,827.9 L1665.6,832.2 L1665.9,836.6 L1666.2,840.9 L1666.5,845.2 L1666.8,849.5 L1667.1,853.7 L1667.3,858 L1667.5,862.2 L1667.7,866.4 L1667.9,870.6 L1668.1,874.9 L1668.3,879.1 L1668.5,883.3 L1668.7,887.6 L1668.9,891.8 L1669.1,896.1 L1669.3,900.4 L1669.5,904.7 L1669.7,909.1 L1669.9,913.4 L1670.1,917.7 L1670.3,922 L1670.5,926.1 L1670.8,930.1 L1671,934 L1671.3,938.3 L1671.6,942.4 L1671.9,946.3 L1672.2,950.1 L1672.6,954 L1672.8,958 L1673.1,962.2 L1673.3,966.1 L1673.5,970 L1673.6,973.9 L1673.7,977.9 L1673.8,982 L1673.9,986.3 L1674.1,990.6 L1674.3,995.2 L1674.5,1000 L1674.7,1003.5 L1674.9,1007.2 L1675.1,1011 L1675.4,1014.9 L1675.6,1018.9 L1675.9,1023 L1676.2,1027.2 L1676.4,1031.4 L1676.7,1035.7 L1677,1040.1 L1677.3,1044.4 L1677.6,1048.8 L1677.9,1053.2 L1678.2,1057.5 L1678.5,1061.9 L1678.8,1066.2 L1679.1,1070.4 L1679.4,1074.6 L1679.7,1078.7 L1680,1082.9 L1680.2,1087 L1680.5,1091.2 L1680.8,1095.3 L1681.1,1099.4 L1681.3,1103.6 L1681.6,1107.7 L1681.9,1111.9 L1682.2,1116 L1682.5,1120.1 L1682.7,1124.3 L1683,1128.4 L1683.3,1132.5 L1683.6,1136.7 L1683.8,1140.8 L1684.1,1145 L1684.4,1149.1 L1684.7,1153.3 L1685,1157.4 L1685.2,1161.6 L1685.5,1165.8 L1685.8,1170 L1686.1,1174.2 L1686.3,1178.4 L1686.6,1182.6 L1686.9,1186.8 L1687.2,1191 L1687.4,1195.2 L1687.7,1199.3 L1688,1203.5 L1688.3,1207.6 L1688.5,1211.7 L1688.8,1215.7 L1689.1,1219.7 L1689.4,1223.7 L1689.7,1228 L1690,1232.4 L1690.3,1236.8 L1690.6,1241.1 L1690.9,1245.4 L1691.3,1249.8 L1691.6,1254 L1691.9,1258.3 L1692.2,1262.4 L1692.5,1266.6 L1692.9,1270.6 L1693.2,1274.6 L1693.6,1278.5 L1693.9,1282.2 L1694.3,1285.9 L1694.8,1290.5 L1695.3,1294.8 L1695.8,1299 L1696.3,1303.1 L1696.9,1307.1 L1697.4,1311.1 L1698,1315 L1698.6,1319 L1699.3,1323.1 L1700,1327.3 L1700.7,1331.5 L1701.4,1335.8 L1702.1,1340.1 L1702.9,1344.3 L1703.7,1348.5 L1704.6,1352.6 L1705.7,1356.6 L1706.8,1360.4 L1708.2,1364.7 L1709.6,1369 L1711.1,1373.2 L1712.8,1377.2 L1714.7,1381 L1716.8,1384.6 L1719.2,1387.8 L1722.3,1391 L1725.8,1394 L1729.6,1396.7 L1733.6,1399 L1737.6,1401 L1741.6,1402.7 L1746.1,1404.1 L1750.8,1404.9 L1755.6,1405.3 L1760.3,1405.7 L1765,1406 L1769.5,1406.3 L1774,1406.6 L1778.5,1406.7 L1783,1406.8 L1787.5,1407" fill="none" stroke="#ff2a2a" stroke-width="2" stroke-linejoin="round"/>
<path d="M1267.5,1378.9 L1271.8,1378.8 L1276.3,1378.8 L1281,1378.8 L1285.7,1378.8 L1290.3,1378.8 L1294.9,1378.8 L1299.3,1378.7 L1303.5,1378.6 L1307.3,1378.4 L1310.7,1378.2 L1313.7,1377.8 L1319.5,1376.2 L1324.4,1374.6 L1329.8,1373.7 L1335.2,1372.5 L1340.8,1370 L1345.9,1367.1 L1348.6,1364.9 L1351.3,1362.8 L1356.7,1360.8 L1362,1358.5 L1364.7,1354.8 L1367.4,1351 L1372.8,1348.3 L1378.1,1345.6 L1380.8,1342 L1383.5,1338.1 L1386.7,1335.2 L1390.4,1332.3 L1394.2,1329.5 L1397.8,1326.9 L1401.4,1324.4 L1405,1322 L1408.5,1319.7 L1412.1,1317.5 L1415.7,1315.6 L1421.1,1313.5 L1426.4,1312.3 L1430.2,1312.5 L1433.9,1313.4 L1437.7,1315.6 L1441.4,1317.2 L1445.2,1315.2 L1449,1313.4 L1452.6,1315.8 L1456.5,1318.8 L1460.4,1319.6 L1464.8,1319.7 L1469.4,1319.7 L1473.3,1319.7 L1477.4,1319.7 L1481.5,1319.5 L1485.5,1319.1 L1490.3,1318.3 L1495,1317.3 L1499.2,1315.7 L1504,1312.5 L1508.3,1308.8 L1511.4,1306.3 L1514.6,1303.8 L1517.4,1300.9 L1519.8,1297.2 L1522,1293.2 L1524.2,1289.5 L1527.6,1285.5 L1531,1281.5 L1533.3,1278 L1535.5,1274.2 L1537.9,1270.2 L1540.3,1266.6 L1542.9,1262.9 L1545.6,1259.1 L1548.1,1255.3 L1550.5,1251.7 L1552.8,1248 L1555,1244.3 L1557.2,1240.6 L1559.3,1236.7 L1561.4,1232.8 L1563.3,1228.7 L1565.2,1224.6 L1567,1220.1 L1568.7,1215.4 L1570.4,1210.7 L1572,1206.2 L1573.5,1202.4 L1575.1,1198.8 L1576.6,1195.1 L1578,1191.2 L1579.3,1187.5 L1580.5,1183.6 L1581.7,1179.7 L1582.9,1175.5 L1584,1171.2 L1584.9,1167.3 L1585.8,1163.3 L1586.7,1159.1 L1587.6,1154.8 L1588.4,1150.4 L1589.2,1145.9 L1590,1141.2 L1590.6,1137.4 L1591.2,1133.6 L1591.8,1129.6 L1592.3,1125.5 L1592.9,1121.4 L1593.4,1117.2 L1593.9,1112.9 L1594.5,1108.7 L1595,1104.3 L1595.6,1100 L1596.1,1095.7 L1596.6,1091.7 L1597.1,1087.7 L1597.6,1083.6 L1598.1,1079.5 L1598.6,1075.3 L1599.1,1071.1 L1599.6,1066.9 L1600.1,1062.7 L1600.6,1058.5 L1601.1,1054.3 L1601.6,1050.1 L1602.1,1046 L1602.6,1041.8 L1603.1,1037.6 L1603.6,1033.4 L1604.1,1029.2 L1604.6,1025 L1605.1,1020.8 L1605.6,1016.5 L1606.1,1012.3 L1606.6,1008.1 L1607,1004 L1607.6,999.8 L1608.1,995.8 L1608.6,991.8 L1609.1,987.8 L1609.7,983.3 L1610.4,978.8 L1611,974.3 L1611.7,969.9 L1612.4,965.6 L1613,961.3 L1613.7,957 L1614.3,952.9 L1614.9,948.7 L1615.5,944.7 L1616.1,940.3 L1616.5,936 L1617,931.7 L1617.4,927.4 L1617.9,923.3 L1618.4,919.4 L1619.1,915.7 L1619.9,912.3 L1621.4,908 L1623.1,904.2 L1624.8,900.6 L1626.3,897 L1627.8,892.3 L1629.2,887.7 L1630.5,882.9 L1631.5,878.6 L1632.5,874.1 L1633.5,869.8 L1634.8,866 L1637.7,861.8 L1640.4,857.5 L1641.4,854 L1642,849.9 L1642.5,845.5 L1642.9,840.9 L1643.5,836.6 L1644.3,832.4 L1645.1,828.3 L1645.9,824.2 L1646.8,819.9 L1647.7,815.5 L1648.5,811.6 L1649.2,807.5 L1650,803.2 L1650.8,798.9 L1651.7,794.8 L1652.5,790.9 L1653.4,787.3 L1655,780.9 L1656.7,775.2 L1658.3,772.7 L1659,773.6 L1659.6,775.9 L1660.2,779.3 L1660.8,783.6 L1661.3,788.5 L1661.8,793.7 L1662.3,799 L1662.7,804 L1663.2,808.5 L1663.6,812.6 L1664.1,816.7 L1664.5,820.9 L1664.8,825.1 L1665.2,829.4 L1665.6,833.6 L1665.9,837.9 L1666.2,842.2 L1666.5,846.5 L1666.8,850.7 L1667.1,854.9 L1667.3,859.2 L1667.5,863.4 L1667.7,867.6 L1667.9,871.8 L1668.1,876.1 L1668.3,880.3 L1668.5,884.5 L1668.7,888.8 L1668.9,893 L1669.1,897.3 L1669.3,901.6 L1669.5,905.9 L1669.7,910.3 L1669.9,914.6 L1670.1,918.9 L1670.3,923.2 L1670.5,927.3 L1670.8,931.3 L1671,935.2 L1671.3,939.5 L1671.6,943.6 L1671.9,947.5 L1672.2,951.3 L1672.6,955.2 L1672.8,959.2 L1673.1,963.4 L1673.3,967.3 L1673.5,971.2 L1673.6,975.1 L1673.7,979.1 L1673.8,983.2 L1673.9,987.5 L1674.1,991.8 L1674.3,996.4 L1674.5,1001.2 L1674.7,1004.7 L1674.9,1008.4 L1675.1,1012.2 L1675.4,1016.1 L1675.6,1020.1 L1675.9,1024.2 L1676.2,1028.4 L1676.4,1032.6 L1676.7,1036.9 L1677,1041.3 L1677.3,1045.6 L1677.6,1050 L1677.9,1054.4 L1678.2,1058.7 L1678.5,1063.1 L1678.8,1067.4 L1679.1,1071.6 L1679.4,1075.8 L1679.7,1079.9 L1680,1084.1 L1680.2,1088.2 L1680.5,1092.4 L1680.8,1096.5 L1681.1,1100.6 L1681.3,1104.8 L1681.6,1108.9 L1681.9,1113.1 L1682.2,1117.2 L1682.5,1121.3 L1682.7,1125.5 L1683,1129.6 L1683.3,1133.7 L1683.6,1137.9 L1683.8,1142 L1684.1,1146.2 L1684.4,1150.3 L1684.7,1154.5 L1685,1158.6 L1685.2,1162.8 L1685.5,1167 L1685.8,1171.2 L1686.1,1175.4 L1686.3,1179.6 L1686.6,1183.8 L1686.9,1188 L1687.2,1192.2 L1687.4,1196.4 L1687.7,1200.5 L1688,1204.7 L1688.3,1208.8 L1688.5,1212.9 L1688.8,1216.9 L1689.1,1220.9 L1689.4,1224.9 L1689.7,1229.2 L1690,1233.6 L1690.3,1238 L1690.6,1242.3 L1690.9,1246.6 L1691.3,1251 L1691.6,1255.2 L1691.9,1259.5 L1692.2,1263.6 L1692.5,1267.8 L1692.9,1271.8 L1693.2,1275.8 L1693.6,1279.7 L1693.9,1283.4 L1694.3,1287.1 L1694.8,1291.7 L1695.3,1296 L1695.8,1300.2 L1696.3,1304.3 L1696.9,1308.3 L1697.4,1312.3 L1698,1316.2 L1698.6,1320.2 L1699.3,1324.3 L1700,1328.5 L1700.7,1332.7 L1701.4,1337 L1702.1,1341.3 L1702.9,1345.5 L1703.7,1349.7 L1704.6,1353.8 L1705.7,1357.8 L1706.8,1361.6 L1708.2,1365.9 L1709.6,1370.2 L1711.1,1374.4 L1712.8,1378.4 L1714.7,1382.2 L1716.8,1385.8 L1719.2,1389 L1722.3,1392.2 L1725.8,1395.2 L1729.6,1397.9 L1733.6,1400.2 L1737.6,1402.2 L1741.6,1403.9 L1746.1,1405.3 L1750.8,1406.3 L1755.6,1406.8 L1760.3,1407.1 L1765,1407.2 L1769.5,1407 L1774,1406.5 L1778.5,1405.9 L1783,1405.1 L1787.5,1404.5" fill="none" stroke="#1a0a0a" stroke-width="2.4" stroke-dasharray="2.6 4.4" stroke-opacity="0.8"/>
<line x1="191.1" y1="1410" x2="1025.8" y2="1410" stroke="#8c8c8c" stroke-width="2"/>
<line x1="191.9" y1="1410" x2="191.9" y2="1425" stroke="#8c8c8c" stroke-width="2"/>
<line x1="204.3" y1="1410" x2="204.3" y2="1418" stroke="#909090" stroke-width="1.6"/>
<line x1="216.8" y1="1410" x2="216.8" y2="1418" stroke="#909090" stroke-width="1.6"/>
<line x1="229.2" y1="1410" x2="229.2" y2="1418" stroke="#909090" stroke-width="1.6"/>
<line x1="241.6" y1="1410" x2="241.6" y2="1418" stroke="#909090" stroke-width="1.6"/>
<line x1="254.1" y1="1410" x2="254.1" y2="1422" stroke="#999999" stroke-width="1.8"/>
<line x1="266.5" y1="1410" x2="266.5" y2="1418" stroke="#909090" stroke-width="1.6"/>
<line x1="278.9" y1="1410" x2="278.9" y2="1418" stroke="#909090" stroke-width="1.6"/>
<line x1="291.4" y1="1410" x2="291.4" y2="1418" stroke="#909090" stroke-width="1.6"/>
<line x1="303.8" y1="1410" x2="303.8" y2="1418" stroke="#909090" stroke-width="1.6"/>
<line x1="316.2" y1="1410" x2="316.2" y2="1425" stroke="#8c8c8c" stroke-width="2"/>
<line x1="328.7" y1="1410" x2="328.7" y2="1418" stroke="#909090" stroke-width="1.6"/>
<line x1="341.1" y1="1410" x2="341.1" y2="1418" stroke="#909090" stroke-width="1.6"/>
<line x1="353.5" y1="1410" x2="353.5" y2="1418" stroke="#909090" stroke-width="1.6"/>
<line x1="366" y1="1410" x2="366" y2="1418" stroke="#909090" stroke-width="1.6"/>
<line x1="378.4" y1="1410" x2="378.4" y2="1422" stroke="#999999" stroke-width="1.8"/>
<line x1="390.8" y1="1410" x2="390.8" y2="1418" stroke="#909090" stroke-width="1.6"/>
<line x1="403.3" y1="1410" x2="403.3" y2="1418" stroke="#909090" stroke-width="1.6"/>
<line x1="415.7" y1="1410" x2="415.7" y2="1418" stroke="#909090" stroke-width="1.6"/>
<line x1="428.1" y1="1410" x2="428.1" y2="1418" stroke="#909090" stroke-width="1.6"/>
<line x1="440.6" y1="1410" x2="440.6" y2="1425" stroke="#8c8c8c" stroke-width="2"/>
<line x1="453" y1="1410" x2="453" y2="1418" stroke="#909090" stroke-width="1.6"/>
<line x1="465.4" y1="1410" x2="465.4" y2="1418" stroke="#909090" stroke-width="1.6"/>
<line x1="477.9" y1="1410" x2="477.9" y2="1418" stroke="#909090" stroke-width="1.6"/>
<line x1="490.3" y1="1410" x2="490.3" y2="1418" stroke="#909090" stroke-width="1.6"/>
<line x1="502.8" y1="1410" x2="502.8" y2="1422" stroke="#999999" stroke-width="1.8"/>
<line x1="515.2" y1="1410" x2="515.2" y2="1418" stroke="#909090" stroke-width="1.6"/>
<line x1="527.6" y1="1410" x2="527.6" y2="1418" stroke="#909090" stroke-width="1.6"/>
<line x1="540.1" y1="1410" x2="540.1" y2="1418" stroke="#909090" stroke-width="1.6"/>
<line x1="552.5" y1="1410" x2="552.5" y2="1418" stroke="#909090" stroke-width="1.6"/>
<line x1="564.9" y1="1410" x2="564.9" y2="1425" stroke="#8c8c8c" stroke-width="2"/>
<line x1="577.4" y1="1410" x2="577.4" y2="1418" stroke="#909090" stroke-width="1.6"/>
<line x1="589.8" y1="1410" x2="589.8" y2="1418" stroke="#909090" stroke-width="1.6"/>
<line x1="602.2" y1="1410" x2="602.2" y2="1418" stroke="#909090" stroke-width="1.6"/>
<line x1="614.7" y1="1410" x2="614.7" y2="1418" stroke="#909090" stroke-width="1.6"/>
<line x1="627.1" y1="1410" x2="627.1" y2="1422" stroke="#999999" stroke-width="1.8"/>
<line x1="639.5" y1="1410" x2="639.5" y2="1418" stroke="#909090" stroke-width="1.6"/>
<line x1="652" y1="1410" x2="652" y2="1418" stroke="#909090" stroke-width="1.6"/>
<line x1="664.4" y1="1410" x2="664.4" y2="1418" stroke="#909090" stroke-width="1.6"/>
<line x1="676.8" y1="1410" x2="676.8" y2="1418" stroke="#909090" stroke-width="1.6"/>
<line x1="689.3" y1="1410" x2="689.3" y2="1425" stroke="#8c8c8c" stroke-width="2"/>
<line x1="701.7" y1="1410" x2="701.7" y2="1418" stroke="#909090" stroke-width="1.6"/>
<line x1="714.1" y1="1410" x2="714.1" y2="1418" stroke="#909090" stroke-width="1.6"/>
<line x1="726.6" y1="1410" x2="726.6" y2="1418" stroke="#909090" stroke-width="1.6"/>
<line x1="739" y1="1410" x2="739" y2="1418" stroke="#909090" stroke-width="1.6"/>
<line x1="751.4" y1="1410" x2="751.4" y2="1422" stroke="#999999" stroke-width="1.8"/>
<line x1="763.9" y1="1410" x2="763.9" y2="1418" stroke="#909090" stroke-width="1.6"/>
<line x1="776.3" y1="1410" x2="776.3" y2="1418" stroke="#909090" stroke-width="1.6"/>
<line x1="788.7" y1="1410" x2="788.7" y2="1418" stroke="#909090" stroke-width="1.6"/>
<line x1="801.2" y1="1410" x2="801.2" y2="1418" stroke="#909090" stroke-width="1.6"/>
<line x1="813.6" y1="1410" x2="813.6" y2="1425" stroke="#8c8c8c" stroke-width="2"/>
<line x1="826" y1="1410" x2="826" y2="1418" stroke="#909090" stroke-width="1.6"/>
<line x1="838.5" y1="1410" x2="838.5" y2="1418" stroke="#909090" stroke-width="1.6"/>
<line x1="850.9" y1="1410" x2="850.9" y2="1418" stroke="#909090" stroke-width="1.6"/>
<line x1="863.3" y1="1410" x2="863.3" y2="1418" stroke="#909090" stroke-width="1.6"/>
<line x1="875.8" y1="1410" x2="875.8" y2="1422" stroke="#999999" stroke-width="1.8"/>
<line x1="888.2" y1="1410" x2="888.2" y2="1418" stroke="#909090" stroke-width="1.6"/>
<line x1="900.6" y1="1410" x2="900.6" y2="1418" stroke="#909090" stroke-width="1.6"/>
<line x1="913.1" y1="1410" x2="913.1" y2="1418" stroke="#909090" stroke-width="1.6"/>
<line x1="925.5" y1="1410" x2="925.5" y2="1418" stroke="#909090" stroke-width="1.6"/>
<line x1="937.9" y1="1410" x2="937.9" y2="1425" stroke="#8c8c8c" stroke-width="2"/>
<line x1="950.4" y1="1410" x2="950.4" y2="1418" stroke="#909090" stroke-width="1.6"/>
<line x1="962.8" y1="1410" x2="962.8" y2="1418" stroke="#909090" stroke-width="1.6"/>
<line x1="975.2" y1="1410" x2="975.2" y2="1418" stroke="#909090" stroke-width="1.6"/>
<line x1="987.7" y1="1410" x2="987.7" y2="1418" stroke="#909090" stroke-width="1.6"/>
<line x1="1000.1" y1="1410" x2="1000.1" y2="1422" stroke="#999999" stroke-width="1.8"/>
<line x1="1012.5" y1="1410" x2="1012.5" y2="1418" stroke="#909090" stroke-width="1.6"/>
<line x1="1025" y1="1410" x2="1025" y2="1418" stroke="#909090" stroke-width="1.6"/>
<text x="191.9" y="1471" text-anchor="middle" class="tick">110</text>
<text x="316.2" y="1471" text-anchor="middle" class="tick">108</text>
<text x="440.6" y="1471" text-anchor="middle" class="tick">106</text>
<text x="564.9" y="1471" text-anchor="middle" class="tick">104</text>
<text x="689.3" y="1471" text-anchor="middle" class="tick">102</text>
<text x="813.6" y="1471" text-anchor="middle" class="tick">100</text>
<text x="937.9" y="1471" text-anchor="middle" class="tick">98</text>
<line x1="1107.2" y1="1410" x2="1978.5" y2="1410" stroke="#8c8c8c" stroke-width="2"/>
<line x1="1108" y1="1410" x2="1108" y2="1425" stroke="#8c8c8c" stroke-width="2"/>
<line x1="1120.4" y1="1410" x2="1120.4" y2="1418" stroke="#909090" stroke-width="1.6"/>
<line x1="1132.8" y1="1410" x2="1132.8" y2="1418" stroke="#909090" stroke-width="1.6"/>
<line x1="1145.3" y1="1410" x2="1145.3" y2="1418" stroke="#909090" stroke-width="1.6"/>
<line x1="1157.7" y1="1410" x2="1157.7" y2="1418" stroke="#909090" stroke-width="1.6"/>
<line x1="1170.1" y1="1410" x2="1170.1" y2="1422" stroke="#999999" stroke-width="1.8"/>
<line x1="1182.5" y1="1410" x2="1182.5" y2="1418" stroke="#909090" stroke-width="1.6"/>
<line x1="1195" y1="1410" x2="1195" y2="1418" stroke="#909090" stroke-width="1.6"/>
<line x1="1207.4" y1="1410" x2="1207.4" y2="1418" stroke="#909090" stroke-width="1.6"/>
<line x1="1219.8" y1="1410" x2="1219.8" y2="1418" stroke="#909090" stroke-width="1.6"/>
<line x1="1232.2" y1="1410" x2="1232.2" y2="1425" stroke="#8c8c8c" stroke-width="2"/>
<line x1="1244.7" y1="1410" x2="1244.7" y2="1418" stroke="#909090" stroke-width="1.6"/>
<line x1="1257.1" y1="1410" x2="1257.1" y2="1418" stroke="#909090" stroke-width="1.6"/>
<line x1="1269.5" y1="1410" x2="1269.5" y2="1418" stroke="#909090" stroke-width="1.6"/>
<line x1="1281.9" y1="1410" x2="1281.9" y2="1418" stroke="#909090" stroke-width="1.6"/>
<line x1="1294.4" y1="1410" x2="1294.4" y2="1422" stroke="#999999" stroke-width="1.8"/>
<line x1="1306.8" y1="1410" x2="1306.8" y2="1418" stroke="#909090" stroke-width="1.6"/>
<line x1="1319.2" y1="1410" x2="1319.2" y2="1418" stroke="#909090" stroke-width="1.6"/>
<line x1="1331.6" y1="1410" x2="1331.6" y2="1418" stroke="#909090" stroke-width="1.6"/>
<line x1="1344.1" y1="1410" x2="1344.1" y2="1418" stroke="#909090" stroke-width="1.6"/>
<line x1="1356.5" y1="1410" x2="1356.5" y2="1425" stroke="#8c8c8c" stroke-width="2"/>
<line x1="1368.9" y1="1410" x2="1368.9" y2="1418" stroke="#909090" stroke-width="1.6"/>
<line x1="1381.3" y1="1410" x2="1381.3" y2="1418" stroke="#909090" stroke-width="1.6"/>
<line x1="1393.8" y1="1410" x2="1393.8" y2="1418" stroke="#909090" stroke-width="1.6"/>
<line x1="1406.2" y1="1410" x2="1406.2" y2="1418" stroke="#909090" stroke-width="1.6"/>
<line x1="1418.6" y1="1410" x2="1418.6" y2="1422" stroke="#999999" stroke-width="1.8"/>
<line x1="1431" y1="1410" x2="1431" y2="1418" stroke="#909090" stroke-width="1.6"/>
<line x1="1443.4" y1="1410" x2="1443.4" y2="1418" stroke="#909090" stroke-width="1.6"/>
<line x1="1455.9" y1="1410" x2="1455.9" y2="1418" stroke="#909090" stroke-width="1.6"/>
<line x1="1468.3" y1="1410" x2="1468.3" y2="1418" stroke="#909090" stroke-width="1.6"/>
<line x1="1480.7" y1="1410" x2="1480.7" y2="1425" stroke="#8c8c8c" stroke-width="2"/>
<line x1="1493.1" y1="1410" x2="1493.1" y2="1418" stroke="#909090" stroke-width="1.6"/>
<line x1="1505.6" y1="1410" x2="1505.6" y2="1418" stroke="#909090" stroke-width="1.6"/>
<line x1="1518" y1="1410" x2="1518" y2="1418" stroke="#909090" stroke-width="1.6"/>
<line x1="1530.4" y1="1410" x2="1530.4" y2="1418" stroke="#909090" stroke-width="1.6"/>
<line x1="1542.8" y1="1410" x2="1542.8" y2="1422" stroke="#999999" stroke-width="1.8"/>
<line x1="1555.3" y1="1410" x2="1555.3" y2="1418" stroke="#909090" stroke-width="1.6"/>
<line x1="1567.7" y1="1410" x2="1567.7" y2="1418" stroke="#909090" stroke-width="1.6"/>
<line x1="1580.1" y1="1410" x2="1580.1" y2="1418" stroke="#909090" stroke-width="1.6"/>
<line x1="1592.5" y1="1410" x2="1592.5" y2="1418" stroke="#909090" stroke-width="1.6"/>
<line x1="1605" y1="1410" x2="1605" y2="1425" stroke="#8c8c8c" stroke-width="2"/>
<line x1="1617.4" y1="1410" x2="1617.4" y2="1418" stroke="#909090" stroke-width="1.6"/>
<line x1="1629.8" y1="1410" x2="1629.8" y2="1418" stroke="#909090" stroke-width="1.6"/>
<line x1="1642.2" y1="1410" x2="1642.2" y2="1418" stroke="#909090" stroke-width="1.6"/>
<line x1="1654.7" y1="1410" x2="1654.7" y2="1418" stroke="#909090" stroke-width="1.6"/>
<line x1="1667.1" y1="1410" x2="1667.1" y2="1422" stroke="#999999" stroke-width="1.8"/>
<line x1="1679.5" y1="1410" x2="1679.5" y2="1418" stroke="#909090" stroke-width="1.6"/>
<line x1="1691.9" y1="1410" x2="1691.9" y2="1418" stroke="#909090" stroke-width="1.6"/>
<line x1="1704.4" y1="1410" x2="1704.4" y2="1418" stroke="#909090" stroke-width="1.6"/>
<line x1="1716.8" y1="1410" x2="1716.8" y2="1418" stroke="#909090" stroke-width="1.6"/>
<line x1="1729.2" y1="1410" x2="1729.2" y2="1425" stroke="#8c8c8c" stroke-width="2"/>
<line x1="1741.6" y1="1410" x2="1741.6" y2="1418" stroke="#909090" stroke-width="1.6"/>
<line x1="1754" y1="1410" x2="1754" y2="1418" stroke="#909090" stroke-width="1.6"/>
<line x1="1766.5" y1="1410" x2="1766.5" y2="1418" stroke="#909090" stroke-width="1.6"/>
<line x1="1778.9" y1="1410" x2="1778.9" y2="1418" stroke="#909090" stroke-width="1.6"/>
<line x1="1791.3" y1="1410" x2="1791.3" y2="1422" stroke="#999999" stroke-width="1.8"/>
<line x1="1803.7" y1="1410" x2="1803.7" y2="1418" stroke="#909090" stroke-width="1.6"/>
<line x1="1816.2" y1="1410" x2="1816.2" y2="1418" stroke="#909090" stroke-width="1.6"/>
<line x1="1828.6" y1="1410" x2="1828.6" y2="1418" stroke="#909090" stroke-width="1.6"/>
<line x1="1841" y1="1410" x2="1841" y2="1418" stroke="#909090" stroke-width="1.6"/>
<line x1="1853.4" y1="1410" x2="1853.4" y2="1425" stroke="#8c8c8c" stroke-width="2"/>
<line x1="1865.9" y1="1410" x2="1865.9" y2="1418" stroke="#909090" stroke-width="1.6"/>
<line x1="1878.3" y1="1410" x2="1878.3" y2="1418" stroke="#909090" stroke-width="1.6"/>
<line x1="1890.7" y1="1410" x2="1890.7" y2="1418" stroke="#909090" stroke-width="1.6"/>
<line x1="1903.1" y1="1410" x2="1903.1" y2="1418" stroke="#909090" stroke-width="1.6"/>
<line x1="1915.6" y1="1410" x2="1915.6" y2="1422" stroke="#999999" stroke-width="1.8"/>
<line x1="1928" y1="1410" x2="1928" y2="1418" stroke="#909090" stroke-width="1.6"/>
<line x1="1940.4" y1="1410" x2="1940.4" y2="1418" stroke="#909090" stroke-width="1.6"/>
<line x1="1952.8" y1="1410" x2="1952.8" y2="1418" stroke="#909090" stroke-width="1.6"/>
<line x1="1965.3" y1="1410" x2="1965.3" y2="1418" stroke="#909090" stroke-width="1.6"/>
<line x1="1977.7" y1="1410" x2="1977.7" y2="1425" stroke="#8c8c8c" stroke-width="2"/>
<text x="1108" y="1471" text-anchor="middle" class="tick">110</text>
<text x="1232.2" y="1471" text-anchor="middle" class="tick">108</text>
<text x="1356.5" y="1471" text-anchor="middle" class="tick">106</text>
<text x="1480.7" y="1471" text-anchor="middle" class="tick">104</text>
<text x="1605" y="1471" text-anchor="middle" class="tick">102</text>
<text x="1729.2" y="1471" text-anchor="middle" class="tick">100</text>
<text x="1853.4" y="1471" text-anchor="middle" class="tick">98</text>
<text x="1977.7" y="1471" text-anchor="middle" class="tick">96</text>
<line x1="111" y1="33" x2="111" y2="1645" stroke="#c4c4c4" stroke-width="3.6"/>
<polyline points="100,48.5 111,31.5 121,48.5" fill="none" stroke="#9a9a9a" stroke-width="1.2"/>
<text class="title" x="343.1" y="146.3" font-size="57.5" textLength="340.1" lengthAdjust="spacingAndGlyphs">(a) Si powder</text>
<text class="title" x="1242.1" y="146.1" font-size="57.5" textLength="430" lengthAdjust="spacingAndGlyphs">(b) Si@C powder</text>
<text class="title" x="253.15" y="926.6" font-size="57.5" textLength="376" lengthAdjust="spacingAndGlyphs">(c) Si electrode</text>
<text class="title" x="1115.95" y="926.3" font-size="57.5" textLength="470.5" lengthAdjust="spacingAndGlyphs">(d) Si@C electrode</text>
<text class="title" x="367.9" y="1550.6" font-size="55.2" textLength="474.1" lengthAdjust="spacingAndGlyphs">Binding energy (eV)</text>
<text class="title" x="1413.95" y="1550.6" font-size="55.2" textLength="476.5" lengthAdjust="spacingAndGlyphs">Binding energy (eV)</text>
<text class="ylab" transform="translate(70.6,999.5) rotate(-90)" x="0" y="0" textLength="221" lengthAdjust="spacingAndGlyphs">Arb. Unit</text>
</svg>
</body></html>
